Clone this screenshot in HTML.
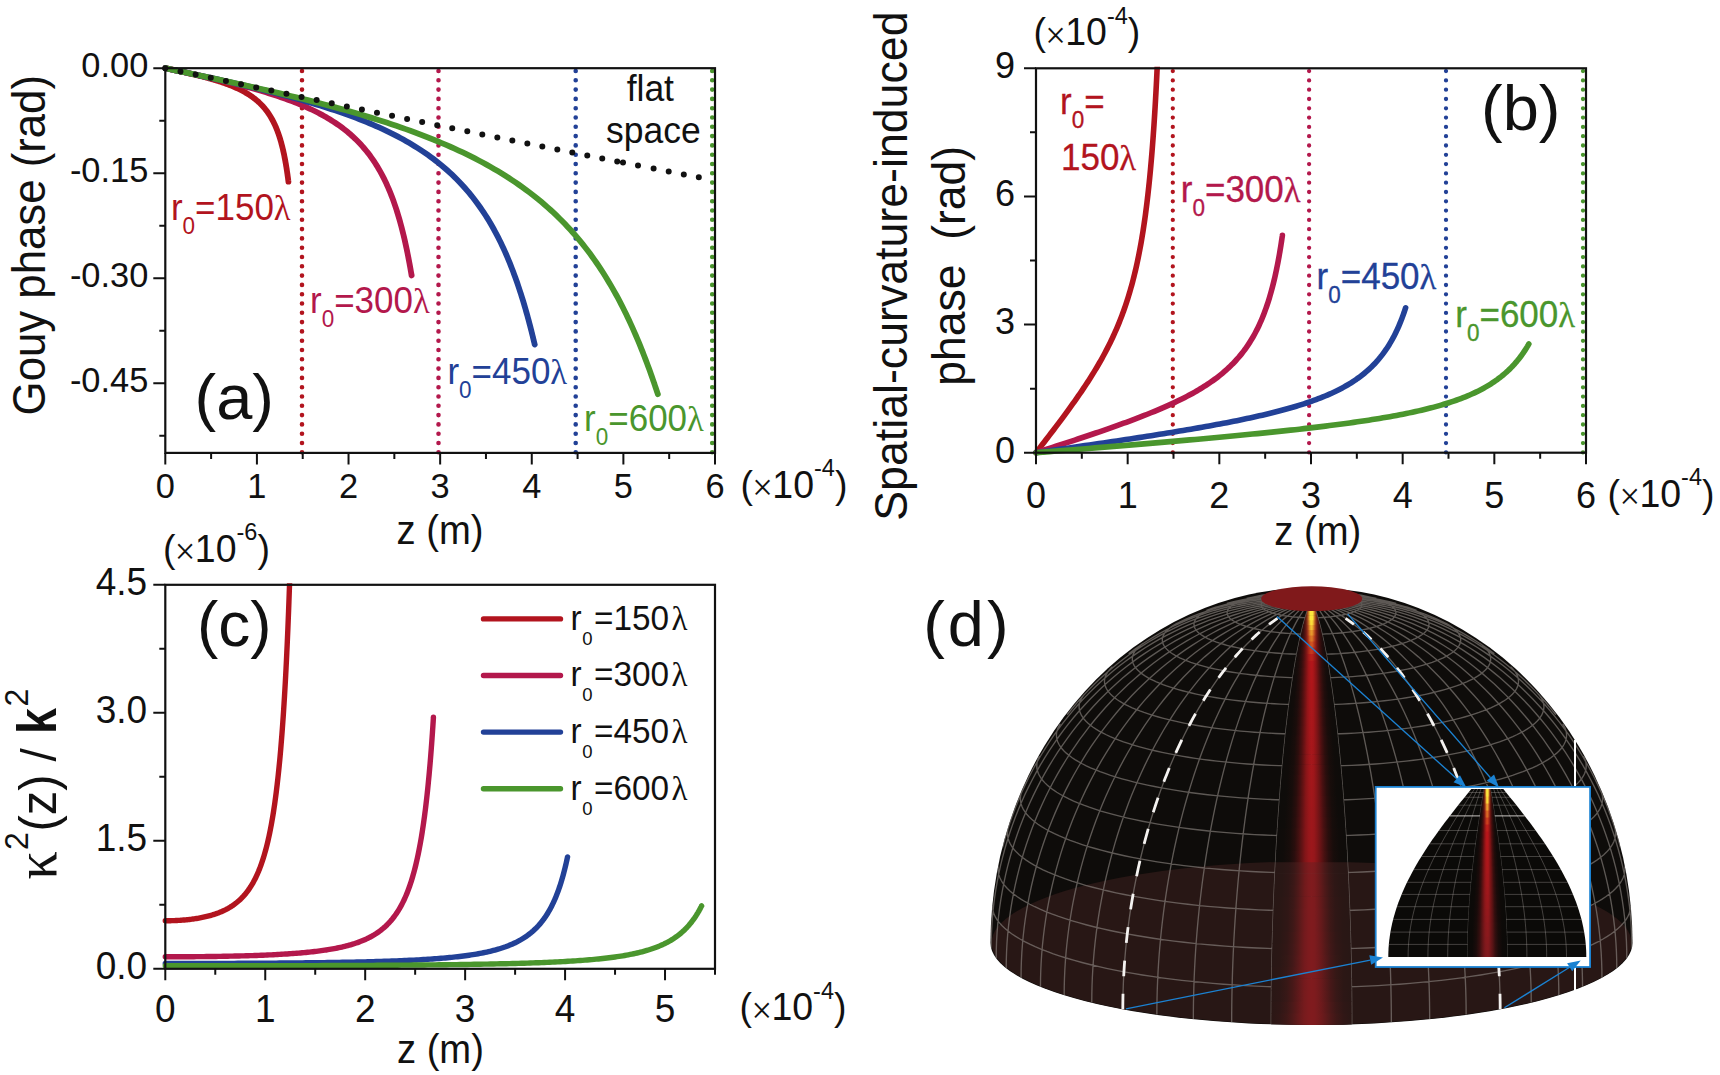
<!DOCTYPE html>
<html lang="en"><head><meta charset="utf-8"><title>Gouy phase and spatial-curvature-induced phase on a spherical surface</title>
<style>html,body{margin:0;padding:0;background:#fff}body{width:1720px;height:1075px;overflow:hidden}svg{display:block}text{font-family:'Liberation Sans', sans-serif}.sf{font-family:"Liberation Serif","DejaVu Serif",serif}</style>
</head><body>
<svg width="1720" height="1075" viewBox="0 0 1720 1075">
<rect width="1720" height="1075" fill="#fff"/>
<g id="panel-a">
<clipPath id="clipA"><rect x="165.3" y="64.2" width="549.7" height="388.7"/></clipPath>
<line x1="302" y1="71" x2="302" y2="452.9" stroke="#b2141e" stroke-width="4.6" stroke-linecap="round" stroke-dasharray="0.01 9.29"/>
<line x1="438.5" y1="71" x2="438.5" y2="452.9" stroke="#b3184c" stroke-width="4.6" stroke-linecap="round" stroke-dasharray="0.01 9.29"/>
<line x1="575.7" y1="71" x2="575.7" y2="452.9" stroke="#224197" stroke-width="4.6" stroke-linecap="round" stroke-dasharray="0.01 9.29"/>
<line x1="712.2" y1="71" x2="712.2" y2="452.9" stroke="#4a962d" stroke-width="4.6" stroke-linecap="round" stroke-dasharray="0.01 9.29"/>
<path d="M165.3 68.2 L166.99 68.56 L168.66 68.91 L170.32 69.26 L171.97 69.61 L173.61 69.96 L175.23 70.31 L176.84 70.66 L178.44 71 L180.03 71.34 L181.6 71.69 L183.16 72.03 L184.71 72.38 L186.24 72.72 L187.77 73.06 L189.28 73.41 L190.77 73.75 L192.26 74.1 L193.73 74.44 L195.2 74.79 L196.64 75.14 L198.08 75.49 L199.5 75.84 L200.92 76.2 L202.31 76.55 L203.7 76.91 L205.08 77.27 L206.44 77.64 L207.79 78 L209.13 78.37 L210.45 78.74 L211.77 79.12 L213.07 79.49 L214.36 79.88 L215.63 80.26 L216.9 80.65 L218.15 81.04 L219.39 81.44 L220.62 81.84 L221.84 82.24 L223.04 82.65 L224.24 83.07 L225.42 83.49 L226.59 83.91 L227.74 84.34 L228.89 84.78 L230.02 85.22 L231.14 85.66 L232.25 86.11 L233.35 86.57 L234.44 87.04 L235.51 87.51 L236.57 87.98 L237.62 88.47 L238.66 88.96 L239.69 89.46 L240.7 89.97 L241.71 90.48 L242.7 91 L243.68 91.53 L244.65 92.07 L245.61 92.62 L246.55 93.18 L247.49 93.74 L248.41 94.32 L249.32 94.9 L250.22 95.49 L251.11 96.1 L251.99 96.71 L252.85 97.34 L253.71 97.97 L254.55 98.62 L255.38 99.28 L256.2 99.95 L257.01 100.63 L257.81 101.32 L258.6 102.03 L259.37 102.75 L260.14 103.48 L260.89 104.23 L261.63 104.99 L262.37 105.76 L263.09 106.55 L263.8 107.35 L264.49 108.17 L265.18 109 L265.86 109.85 L266.52 110.71 L267.18 111.59 L267.82 112.48 L268.46 113.39 L269.08 114.32 L269.69 115.26 L270.29 116.23 L270.88 117.2 L271.46 118.2 L272.03 119.21 L272.59 120.24 L273.14 121.28 L273.67 122.35 L274.2 123.43 L274.72 124.53 L275.22 125.64 L275.72 126.77 L276.21 127.92 L276.68 129.08 L277.15 130.26 L277.6 131.46 L278.05 132.67 L278.48 133.9 L278.9 135.13 L279.32 136.39 L279.72 137.65 L280.12 138.93 L280.5 140.22 L280.88 141.51 L281.24 142.82 L281.59 144.13 L281.94 145.45 L282.27 146.77 L282.6 148.1 L282.92 149.43 L283.22 150.75 L283.52 152.08 L283.81 153.4 L284.09 154.72 L284.35 156.03 L284.61 157.33 L284.86 158.62 L285.1 159.89 L285.34 161.15 L285.56 162.39 L285.77 163.61 L285.98 164.8 L286.17 165.97 L286.36 167.12 L286.54 168.23 L286.71 169.31 L286.87 170.35 L287.02 171.36 L287.16 172.33 L287.3 173.26 L287.43 174.15 L287.55 174.99 L287.66 175.79 L287.76 176.54 L287.85 177.24 L287.94 177.88 L288.02 178.48 L288.09 179.03 L288.16 179.52 L288.21 179.97 L288.26 180.36 L288.31 180.69 L288.34 180.98 L288.37 181.21 L288.4 181.4 L288.41 181.54 L288.42 181.63 L288.43 181.68 L288.43 181.69" fill="none" stroke="#b2141e" stroke-width="5.8" stroke-linecap="round" stroke-linejoin="round"/>
<path d="M165.3 68.2 L168.67 68.91 L172.02 69.62 L175.34 70.33 L178.64 71.03 L181.91 71.72 L185.16 72.42 L188.38 73.11 L191.58 73.8 L194.75 74.49 L197.9 75.18 L201.02 75.86 L204.11 76.55 L207.19 77.24 L210.23 77.93 L213.25 78.62 L216.25 79.31 L219.22 80 L222.17 80.69 L225.09 81.39 L227.99 82.09 L230.86 82.79 L233.71 83.49 L236.53 84.2 L239.33 84.92 L242.1 85.63 L244.85 86.36 L247.58 87.08 L250.28 87.82 L252.95 88.55 L255.6 89.3 L258.23 90.05 L260.83 90.8 L263.41 91.57 L265.97 92.34 L268.5 93.12 L271 93.9 L273.49 94.7 L275.94 95.5 L278.38 96.31 L280.79 97.13 L283.17 97.96 L285.53 98.8 L287.87 99.65 L290.19 100.51 L292.48 101.38 L294.74 102.26 L296.98 103.15 L299.2 104.06 L301.4 104.97 L303.57 105.9 L305.72 106.85 L307.84 107.8 L309.94 108.77 L312.02 109.75 L314.08 110.75 L316.11 111.76 L318.12 112.79 L320.1 113.83 L322.06 114.89 L324 115.96 L325.91 117.06 L327.81 118.16 L329.67 119.29 L331.52 120.43 L333.34 121.6 L335.14 122.78 L336.92 123.98 L338.67 125.2 L340.41 126.44 L342.12 127.7 L343.8 128.98 L345.47 130.28 L347.11 131.6 L348.73 132.95 L350.32 134.32 L351.9 135.71 L353.45 137.12 L354.98 138.56 L356.48 140.03 L357.97 141.52 L359.43 143.03 L360.87 144.57 L362.29 146.13 L363.69 147.72 L365.06 149.34 L366.42 150.98 L367.75 152.65 L369.06 154.35 L370.35 156.07 L371.61 157.83 L372.86 159.61 L374.08 161.41 L375.28 163.25 L376.46 165.11 L377.62 167 L378.76 168.92 L379.88 170.86 L380.97 172.83 L382.05 174.83 L383.1 176.85 L384.14 178.9 L385.15 180.97 L386.14 183.07 L387.11 185.19 L388.06 187.33 L388.99 189.5 L389.9 191.68 L390.79 193.88 L391.66 196.11 L392.51 198.34 L393.34 200.59 L394.14 202.86 L394.93 205.13 L395.7 207.41 L396.45 209.7 L397.18 212 L397.89 214.3 L398.58 216.59 L399.25 218.89 L399.9 221.17 L400.53 223.45 L401.15 225.72 L401.74 227.97 L402.31 230.21 L402.87 232.43 L403.41 234.62 L403.93 236.78 L404.43 238.92 L404.91 241.02 L405.37 243.08 L405.82 245.11 L406.24 247.09 L406.65 249.02 L407.04 250.9 L407.42 252.73 L407.77 254.51 L408.11 256.22 L408.43 257.88 L408.74 259.46 L409.03 260.99 L409.3 262.44 L409.55 263.82 L409.79 265.12 L410.01 266.35 L410.22 267.51 L410.41 268.58 L410.58 269.57 L410.74 270.49 L410.88 271.32 L411.01 272.07 L411.13 272.75 L411.23 273.34 L411.31 273.85 L411.39 274.28 L411.45 274.63 L411.49 274.91 L411.53 275.12 L411.55 275.26 L411.56 275.33 L411.57 275.35" fill="none" stroke="#b3184c" stroke-width="5.8" stroke-linecap="round" stroke-linejoin="round"/>
<path d="M165.3 68.2 L170.36 69.27 L175.38 70.33 L180.37 71.39 L185.31 72.44 L190.22 73.49 L195.09 74.53 L199.92 75.57 L204.72 76.6 L209.48 77.63 L214.2 78.67 L218.88 79.7 L223.52 80.73 L228.13 81.76 L232.7 82.79 L237.23 83.82 L241.72 84.86 L246.18 85.9 L250.6 86.94 L254.99 87.98 L259.33 89.03 L263.64 90.08 L267.91 91.14 L272.15 92.2 L276.34 93.27 L280.5 94.35 L284.63 95.43 L288.72 96.52 L292.77 97.61 L296.78 98.72 L300.76 99.83 L304.7 100.96 L308.6 102.09 L312.47 103.23 L316.3 104.39 L320.1 105.55 L323.86 106.73 L327.58 107.92 L331.26 109.12 L334.92 110.33 L338.53 111.56 L342.11 112.8 L345.65 114.05 L349.16 115.32 L352.63 116.6 L356.06 117.9 L359.46 119.22 L362.83 120.55 L366.16 121.9 L369.45 123.26 L372.71 124.65 L375.93 126.05 L379.11 127.47 L382.27 128.91 L385.38 130.37 L388.46 131.85 L391.51 133.35 L394.52 134.87 L397.5 136.42 L400.44 137.98 L403.35 139.57 L406.22 141.19 L409.06 142.82 L411.86 144.48 L414.63 146.17 L417.36 147.88 L420.06 149.61 L422.73 151.37 L425.36 153.16 L427.96 154.97 L430.52 156.82 L433.05 158.69 L435.55 160.59 L438.01 162.51 L440.44 164.47 L442.83 166.45 L445.19 168.47 L447.52 170.51 L449.82 172.59 L452.08 174.7 L454.3 176.83 L456.5 179 L458.66 181.2 L460.79 183.43 L462.88 185.69 L464.94 187.99 L466.97 190.31 L468.97 192.67 L470.94 195.06 L472.87 197.48 L474.77 199.93 L476.64 202.41 L478.47 204.92 L480.27 207.46 L482.04 210.03 L483.78 212.63 L485.49 215.26 L487.17 217.91 L488.81 220.59 L490.42 223.29 L492 226.02 L493.55 228.77 L495.07 231.55 L496.56 234.34 L498.02 237.15 L499.44 239.97 L500.84 242.82 L502.2 245.67 L503.54 248.53 L504.84 251.41 L506.11 254.29 L507.35 257.17 L508.57 260.05 L509.75 262.94 L510.9 265.81 L512.03 268.69 L513.12 271.55 L514.18 274.4 L515.22 277.23 L516.22 280.04 L517.2 282.83 L518.15 285.6 L519.07 288.34 L519.96 291.04 L520.82 293.71 L521.66 296.34 L522.46 298.93 L523.24 301.47 L523.99 303.96 L524.71 306.4 L525.41 308.79 L526.07 311.12 L526.72 313.38 L527.33 315.59 L527.92 317.72 L528.48 319.79 L529.01 321.78 L529.52 323.7 L530 325.54 L530.46 327.3 L530.89 328.98 L531.3 330.58 L531.68 332.09 L532.04 333.52 L532.37 334.86 L532.68 336.12 L532.96 337.28 L533.22 338.36 L533.46 339.34 L533.68 340.24 L533.87 341.05 L534.04 341.77 L534.19 342.4 L534.32 342.94 L534.43 343.4 L534.52 343.78 L534.59 344.08 L534.64 344.3 L534.67 344.45 L534.69 344.53 L534.7 344.55" fill="none" stroke="#224197" stroke-width="5.8" stroke-linecap="round" stroke-linejoin="round"/>
<path d="M165.3 68.2 L172.05 69.63 L178.74 71.04 L185.39 72.45 L191.98 73.85 L198.53 75.25 L205.02 76.64 L211.47 78.02 L217.86 79.4 L224.2 80.78 L230.49 82.15 L236.74 83.53 L242.93 84.9 L249.07 86.27 L255.16 87.65 L261.21 89.02 L267.2 90.4 L273.14 91.78 L279.04 93.17 L284.88 94.56 L290.67 95.95 L296.42 97.35 L302.11 98.76 L307.76 100.17 L313.36 101.6 L318.91 103.02 L324.4 104.46 L329.85 105.91 L335.25 107.37 L340.61 108.83 L345.91 110.31 L351.16 111.8 L356.37 113.31 L361.53 114.82 L366.64 116.35 L371.7 117.89 L376.71 119.45 L381.67 121.02 L386.59 122.61 L391.45 124.21 L396.27 125.83 L401.04 127.47 L405.77 129.13 L410.44 130.8 L415.07 132.49 L419.65 134.2 L424.18 135.93 L428.67 137.69 L433.11 139.46 L437.5 141.25 L441.84 143.07 L446.14 144.91 L450.39 146.77 L454.59 148.65 L458.74 150.56 L462.85 152.49 L466.91 154.45 L470.93 156.43 L474.9 158.44 L478.82 160.48 L482.7 162.54 L486.53 164.63 L490.31 166.75 L494.05 168.9 L497.74 171.07 L501.39 173.27 L504.99 175.51 L508.54 177.77 L512.05 180.06 L515.51 182.39 L518.93 184.74 L522.3 187.13 L525.63 189.54 L528.91 191.99 L532.15 194.47 L535.34 196.98 L538.49 199.52 L541.59 202.1 L544.65 204.7 L547.67 207.34 L550.64 210.01 L553.56 212.71 L556.45 215.45 L559.28 218.21 L562.08 221 L564.83 223.83 L567.53 226.69 L570.2 229.57 L572.82 232.48 L575.39 235.42 L577.92 238.39 L580.41 241.39 L582.86 244.41 L585.27 247.45 L587.63 250.52 L589.95 253.61 L592.22 256.72 L594.46 259.85 L596.65 263 L598.8 266.16 L600.91 269.34 L602.97 272.53 L605 275.73 L606.98 278.94 L608.92 282.15 L610.82 285.37 L612.68 288.59 L614.5 291.81 L616.28 295.02 L618.02 298.23 L619.72 301.43 L621.37 304.62 L622.99 307.79 L624.57 310.95 L626.1 314.09 L627.6 317.2 L629.06 320.29 L630.48 323.35 L631.86 326.38 L633.2 329.37 L634.5 332.32 L635.77 335.24 L636.99 338.11 L638.18 340.93 L639.33 343.7 L640.44 346.42 L641.51 349.08 L642.55 351.69 L643.55 354.23 L644.52 356.71 L645.44 359.12 L646.33 361.47 L647.19 363.74 L648.01 365.94 L648.79 368.07 L649.54 370.12 L650.25 372.09 L650.93 373.98 L651.57 375.79 L652.18 377.52 L652.75 379.16 L653.3 380.72 L653.8 382.19 L654.28 383.57 L654.72 384.87 L655.13 386.08 L655.51 387.2 L655.86 388.24 L656.18 389.18 L656.47 390.04 L656.73 390.81 L656.95 391.5 L657.15 392.1 L657.33 392.63 L657.47 393.06 L657.59 393.42 L657.68 393.71 L657.75 393.92 L657.8 394.06 L657.82 394.13 L657.83 394.15" fill="none" stroke="#4a962d" stroke-width="5.8" stroke-linecap="round" stroke-linejoin="round"/>
<path d="M165.3 68.2h0.01M180.47 71.41h0.01M195.63 74.61h0.01M210.78 77.81h0.01M225.92 81.01h0.01M241.06 84.21h0.01M256.19 87.4h0.01M271.32 90.58h0.01M286.43 93.76h0.01M301.54 96.94h0.01M316.64 100.11h0.01M331.74 103.27h0.01M346.83 106.42h0.01M361.91 109.57h0.01M376.98 112.71h0.01M392.05 115.84h0.01M407.11 118.96h0.01M422.16 122.07h0.01M437.21 125.18h0.01M452.24 128.27h0.01M467.28 131.35h0.01M482.3 134.42h0.01M497.32 137.47h0.01M512.33 140.52h0.01M527.33 143.55h0.01M542.32 146.57h0.01M557.31 149.58h0.01M572.29 152.57h0.01M587.27 155.55h0.01M602.24 158.52h0.01M617.2 161.47h0.01M623 162.61h0.01M638 165.55h0.01M653.6 168.59h0.01M668.7 171.52h0.01M683.8 174.43h0.01M698.8 177.31h0.01" fill="none" stroke="#111" stroke-width="6" stroke-linecap="round"/>
<rect x="165.3" y="68.2" width="549.7" height="384.7" fill="none" stroke="#111" stroke-width="2.2"/>
<path d="M165.3 452.9 v11.5 M256.92 452.9 v11.5 M348.53 452.9 v11.5 M440.15 452.9 v11.5 M531.77 452.9 v11.5 M623.38 452.9 v11.5 M715 452.9 v11.5 M211.11 452.9 v6 M302.73 452.9 v6 M394.34 452.9 v6 M485.96 452.9 v6 M577.58 452.9 v6 M669.19 452.9 v6 " stroke="#111" stroke-width="2" fill="none"/>
<path d="M165.3 68.2 h-12 M165.3 173.2 h-12 M165.3 278.2 h-12 M165.3 383.2 h-12 M165.3 120.7 h-6 M165.3 225.7 h-6 M165.3 330.7 h-6 M165.3 435.7 h-6 " stroke="#111" stroke-width="2" fill="none"/>
<text transform="translate(148.3 77.1) scale(1 1.04)" font-size="34.4" text-anchor="end" fill="#111" >0.00</text>
<text transform="translate(148.3 182.1) scale(1 1.04)" font-size="34.4" text-anchor="end" fill="#111" >-0.15</text>
<text transform="translate(148.3 287.1) scale(1 1.04)" font-size="34.4" text-anchor="end" fill="#111" >-0.30</text>
<text transform="translate(148.3 392.1) scale(1 1.04)" font-size="34.4" text-anchor="end" fill="#111" >-0.45</text>
<text transform="translate(165.3 497.5) scale(1 1.04)" font-size="34.4" text-anchor="middle" fill="#111" >0</text>
<text transform="translate(256.92 497.5) scale(1 1.04)" font-size="34.4" text-anchor="middle" fill="#111" >1</text>
<text transform="translate(348.53 497.5) scale(1 1.04)" font-size="34.4" text-anchor="middle" fill="#111" >2</text>
<text transform="translate(440.15 497.5) scale(1 1.04)" font-size="34.4" text-anchor="middle" fill="#111" >3</text>
<text transform="translate(531.77 497.5) scale(1 1.04)" font-size="34.4" text-anchor="middle" fill="#111" >4</text>
<text transform="translate(623.38 497.5) scale(1 1.04)" font-size="34.4" text-anchor="middle" fill="#111" >5</text>
<text transform="translate(715 497.5) scale(1 1.04)" font-size="34.4" text-anchor="middle" fill="#111" >6</text>
<text transform="translate(740.5 497.5) scale(1 1.04)" font-size="37.5" text-anchor="start" fill="#111" >(<tspan dx="-0.7" dy="2.6" class="sf" font-size="36.5">×</tspan><tspan dx="-0.6" dy="-2.6">10</tspan><tspan font-size="23.5" dy="-20.5">-4</tspan><tspan dy="20.5">)</tspan></text>
<text transform="translate(440 544.2) scale(1 1.04)" font-size="38.2" text-anchor="middle" fill="#111" >z (m)</text>
<text transform="translate(45.3 245.2) rotate(-90) scale(1 1.04)" font-size="43.75" text-anchor="middle" fill="#111" >Gouy phase (rad)</text>
<text transform="translate(650.3 100.8) scale(1 1.04)" font-size="35.5" text-anchor="middle" fill="#111" >flat</text>
<text transform="translate(653.4 143.2) scale(1 1.04)" font-size="35.5" text-anchor="middle" fill="#111" >space</text>
<text transform="translate(194.5 419.4) scale(1 0.97)" font-size="65" text-anchor="start" fill="#111" >(a)</text>
<text transform="translate(170.9 219.7) scale(1 1.04)" font-size="35" text-anchor="start" fill="#b2141e" >r<tspan font-size="22.5" dy="13.5" dx="0">0</tspan><tspan dy="-13.5" dx="0">=150</tspan><tspan class="sf" font-size="34.65" dx="0">λ</tspan></text>
<text transform="translate(310 312.5) scale(1 1.04)" font-size="35" text-anchor="start" fill="#b3184c" >r<tspan font-size="22.5" dy="13.5" dx="0">0</tspan><tspan dy="-13.5" dx="0">=300</tspan><tspan class="sf" font-size="34.65" dx="0">λ</tspan></text>
<text transform="translate(447.4 384.4) scale(1 1.04)" font-size="35" text-anchor="start" fill="#224197" >r<tspan font-size="22.5" dy="13.5" dx="0">0</tspan><tspan dy="-13.5" dx="0">=450</tspan><tspan class="sf" font-size="34.65" dx="0">λ</tspan></text>
<text transform="translate(584.1 431.2) scale(1 1.04)" font-size="35" text-anchor="start" fill="#4a962d" >r<tspan font-size="22.5" dy="13.5" dx="0">0</tspan><tspan dy="-13.5" dx="0">=600</tspan><tspan class="sf" font-size="34.65" dx="0">λ</tspan></text>
</g>
<g id="panel-b">
<clipPath id="clipB"><rect x="1032" y="66.8" width="558" height="390.4"/></clipPath>
<line x1="1172.8" y1="71.1" x2="1172.8" y2="452.7" stroke="#b2141e" stroke-width="4.3" stroke-linecap="round" stroke-dasharray="0.01 9.29"/>
<line x1="1309.1" y1="71.1" x2="1309.1" y2="452.7" stroke="#b3184c" stroke-width="4.3" stroke-linecap="round" stroke-dasharray="0.01 9.29"/>
<line x1="1446" y1="71.1" x2="1446" y2="452.7" stroke="#224197" stroke-width="4.3" stroke-linecap="round" stroke-dasharray="0.01 9.29"/>
<line x1="1583" y1="71.1" x2="1583" y2="452.7" stroke="#4a962d" stroke-width="4.3" stroke-linecap="round" stroke-dasharray="0.01 9.29"/>
<g clip-path="url(#clipB)">
<path d="M1036 452.7 L1037.69 450.52 L1039.36 448.35 L1041.02 446.19 L1042.67 444.05 L1044.31 441.93 L1045.94 439.82 L1047.55 437.72 L1049.15 435.63 L1050.73 433.56 L1052.31 431.49 L1053.87 429.44 L1055.42 427.39 L1056.95 425.36 L1058.48 423.34 L1059.99 421.32 L1061.49 419.31 L1062.98 417.31 L1064.45 415.32 L1065.91 413.34 L1067.36 411.36 L1068.8 409.38 L1070.22 407.42 L1071.63 405.45 L1073.03 403.49 L1074.42 401.54 L1075.8 399.59 L1077.16 397.64 L1078.51 395.7 L1079.85 393.75 L1081.18 391.81 L1082.49 389.87 L1083.79 387.93 L1085.08 385.99 L1086.36 384.05 L1087.63 382.11 L1088.88 380.17 L1090.12 378.22 L1091.35 376.27 L1092.57 374.32 L1093.77 372.37 L1094.97 370.41 L1096.15 368.45 L1097.32 366.48 L1098.48 364.5 L1099.62 362.52 L1100.76 360.53 L1101.88 358.53 L1102.99 356.52 L1104.09 354.5 L1105.17 352.47 L1106.25 350.44 L1107.31 348.38 L1108.36 346.32 L1109.4 344.25 L1110.43 342.15 L1111.44 340.05 L1112.45 337.93 L1113.44 335.79 L1114.42 333.63 L1115.39 331.46 L1116.35 329.27 L1117.3 327.05 L1118.23 324.82 L1119.16 322.56 L1120.07 320.28 L1120.97 317.98 L1121.86 315.65 L1122.73 313.3 L1123.6 310.92 L1124.46 308.51 L1125.3 306.07 L1126.13 303.6 L1126.95 301.1 L1127.76 298.57 L1128.56 296 L1129.35 293.4 L1130.13 290.77 L1130.89 288.1 L1131.64 285.39 L1132.39 282.64 L1133.12 279.85 L1133.84 277.03 L1134.55 274.16 L1135.25 271.24 L1135.94 268.28 L1136.61 265.28 L1137.28 262.23 L1137.93 259.14 L1138.58 255.99 L1139.21 252.8 L1139.84 249.56 L1140.45 246.27 L1141.05 242.92 L1141.64 239.53 L1142.22 236.08 L1142.79 232.58 L1143.35 229.02 L1143.9 225.42 L1144.43 221.76 L1144.96 218.04 L1145.48 214.27 L1145.98 210.45 L1146.48 206.57 L1146.97 202.65 L1147.44 198.67 L1147.91 194.64 L1148.36 190.55 L1148.81 186.42 L1149.24 182.25 L1149.67 178.03 L1150.08 173.76 L1150.48 169.45 L1150.88 165.11 L1151.26 160.73 L1151.64 156.31 L1152 151.87 L1152.36 147.4 L1152.7 142.91 L1153.04 138.41 L1153.36 133.89 L1153.68 129.36 L1153.99 124.83 L1154.28 120.31 L1154.57 115.79 L1154.85 111.29 L1155.12 106.82 L1155.38 102.37 L1155.63 97.96 L1155.87 93.59 L1156.1 89.28 L1156.32 85.02 L1156.54 80.83 L1156.74 76.72 L1156.94 72.68 L1157.13 68.74 L1157.3 64.9 L1157.47 61.17 L1157.63 57.55 L1157.79 54.06 L1157.93 50.7 L1158.07 47.47 L1158.19 44.39 L1158.31 41.46 L1158.42 38.69 L1158.53 36.08 L1158.62 33.64 L1158.71 31.37 L1158.79 29.28 L1158.86 27.37 L1158.92 25.64 L1158.98 24.09 L1159.03 22.73 L1159.07 21.54 L1159.11 20.54 L1159.14 19.72 L1159.16 19.07 L1159.18 18.59 L1159.19 18.27 L1159.2 18.09 L1159.2 18.04" fill="none" stroke="#b2141e" stroke-width="5.6" stroke-linecap="round" stroke-linejoin="round"/>
<path d="M1036 452.7 L1039.38 451.61 L1042.73 450.52 L1046.05 449.45 L1049.35 448.38 L1052.62 447.31 L1055.87 446.26 L1059.1 445.21 L1062.29 444.17 L1065.47 443.13 L1068.61 442.1 L1071.74 441.07 L1074.84 440.05 L1077.91 439.03 L1080.96 438.02 L1083.98 437.01 L1086.98 436.01 L1089.95 435.01 L1092.9 434.01 L1095.82 433.02 L1098.72 432.03 L1101.6 431.04 L1104.44 430.06 L1107.27 429.08 L1110.07 428.1 L1112.84 427.12 L1115.6 426.14 L1118.32 425.17 L1121.02 424.2 L1123.7 423.23 L1126.35 422.26 L1128.98 421.29 L1131.59 420.32 L1134.17 419.35 L1136.72 418.38 L1139.25 417.4 L1141.76 416.43 L1144.24 415.46 L1146.7 414.49 L1149.14 413.51 L1151.55 412.53 L1153.94 411.55 L1156.3 410.57 L1158.64 409.59 L1160.95 408.6 L1163.25 407.61 L1165.51 406.61 L1167.76 405.61 L1169.98 404.61 L1172.17 403.6 L1174.35 402.59 L1176.5 401.57 L1178.62 400.54 L1180.72 399.51 L1182.8 398.47 L1184.86 397.43 L1186.89 396.37 L1188.9 395.31 L1190.88 394.24 L1192.85 393.17 L1194.79 392.08 L1196.7 390.98 L1198.59 389.88 L1200.46 388.76 L1202.31 387.63 L1204.13 386.49 L1205.94 385.34 L1207.71 384.18 L1209.47 383 L1211.2 381.81 L1212.91 380.6 L1214.6 379.38 L1216.26 378.15 L1217.91 376.9 L1219.53 375.63 L1221.12 374.35 L1222.7 373.05 L1224.25 371.73 L1225.78 370.4 L1227.29 369.04 L1228.77 367.67 L1230.24 366.28 L1231.68 364.86 L1233.1 363.43 L1234.5 361.97 L1235.87 360.49 L1237.23 358.99 L1238.56 357.47 L1239.87 355.92 L1241.16 354.35 L1242.42 352.75 L1243.67 351.13 L1244.89 349.48 L1246.1 347.81 L1247.28 346.11 L1248.44 344.39 L1249.58 342.64 L1250.7 340.86 L1251.79 339.06 L1252.87 337.23 L1253.92 335.37 L1254.96 333.49 L1255.97 331.57 L1256.96 329.64 L1257.93 327.67 L1258.88 325.68 L1259.81 323.67 L1260.72 321.63 L1261.61 319.56 L1262.48 317.47 L1263.33 315.36 L1264.16 313.23 L1264.97 311.08 L1265.76 308.9 L1266.53 306.71 L1267.28 304.51 L1268.01 302.29 L1268.72 300.05 L1269.41 297.81 L1270.08 295.55 L1270.73 293.29 L1271.36 291.03 L1271.97 288.77 L1272.57 286.5 L1273.14 284.25 L1273.7 282 L1274.24 279.76 L1274.76 277.54 L1275.26 275.33 L1275.74 273.15 L1276.2 270.99 L1276.65 268.86 L1277.07 266.77 L1277.48 264.71 L1277.88 262.69 L1278.25 260.72 L1278.61 258.8 L1278.95 256.94 L1279.27 255.13 L1279.57 253.38 L1279.86 251.7 L1280.13 250.08 L1280.39 248.54 L1280.62 247.08 L1280.85 245.69 L1281.05 244.39 L1281.24 243.17 L1281.42 242.04 L1281.57 240.99 L1281.72 240.03 L1281.85 239.17 L1281.96 238.4 L1282.06 237.71 L1282.15 237.12 L1282.22 236.62 L1282.28 236.21 L1282.33 235.89 L1282.36 235.64 L1282.38 235.48 L1282.4 235.4 L1282.4 235.37" fill="none" stroke="#b3184c" stroke-width="5.6" stroke-linecap="round" stroke-linejoin="round"/>
<path d="M1036 452.7 L1041.06 451.97 L1046.09 451.25 L1051.07 450.53 L1056.02 449.82 L1060.93 449.11 L1065.81 448.41 L1070.64 447.71 L1075.44 447.01 L1080.2 446.32 L1084.92 445.63 L1089.61 444.95 L1094.25 444.26 L1098.86 443.59 L1103.43 442.91 L1107.97 442.24 L1112.47 441.57 L1116.93 440.9 L1121.35 440.24 L1125.73 439.58 L1130.08 438.92 L1134.39 438.26 L1138.67 437.61 L1142.9 436.95 L1147.1 436.3 L1151.27 435.65 L1155.39 435 L1159.48 434.35 L1163.54 433.7 L1167.55 433.05 L1171.53 432.4 L1175.47 431.76 L1179.38 431.11 L1183.25 430.46 L1187.08 429.82 L1190.88 429.17 L1194.64 428.52 L1198.37 427.87 L1202.06 427.22 L1205.71 426.57 L1209.32 425.92 L1212.9 425.27 L1216.45 424.62 L1219.96 423.96 L1223.43 423.3 L1226.87 422.64 L1230.27 421.98 L1233.63 421.31 L1236.97 420.64 L1240.26 419.97 L1243.52 419.29 L1246.74 418.61 L1249.93 417.93 L1253.09 417.24 L1256.2 416.55 L1259.29 415.85 L1262.33 415.15 L1265.35 414.44 L1268.33 413.73 L1271.27 413.01 L1274.18 412.29 L1277.05 411.56 L1279.89 410.82 L1282.7 410.07 L1285.47 409.32 L1288.2 408.56 L1290.9 407.79 L1293.57 407.02 L1296.2 406.23 L1298.8 405.44 L1301.37 404.64 L1303.9 403.82 L1306.4 403 L1308.86 402.17 L1311.29 401.32 L1313.68 400.47 L1316.05 399.6 L1318.38 398.72 L1320.67 397.83 L1322.93 396.93 L1325.16 396.01 L1327.36 395.08 L1329.52 394.14 L1331.65 393.19 L1333.74 392.21 L1335.81 391.23 L1337.84 390.23 L1339.84 389.21 L1341.8 388.18 L1343.74 387.13 L1345.64 386.07 L1347.51 384.99 L1349.34 383.89 L1351.15 382.77 L1352.92 381.64 L1354.66 380.49 L1356.37 379.33 L1358.04 378.14 L1359.69 376.94 L1361.3 375.72 L1362.88 374.48 L1364.43 373.22 L1365.95 371.95 L1367.44 370.66 L1368.9 369.35 L1370.33 368.02 L1371.72 366.68 L1373.09 365.32 L1374.42 363.94 L1375.72 362.55 L1377 361.14 L1378.24 359.72 L1379.45 358.28 L1380.64 356.84 L1381.79 355.38 L1382.92 353.9 L1384.01 352.42 L1385.07 350.93 L1386.11 349.44 L1387.12 347.94 L1388.09 346.43 L1389.04 344.92 L1389.96 343.41 L1390.85 341.9 L1391.72 340.4 L1392.55 338.9 L1393.36 337.41 L1394.13 335.92 L1394.88 334.45 L1395.61 333 L1396.3 331.56 L1396.97 330.14 L1397.61 328.74 L1398.23 327.37 L1398.81 326.03 L1399.38 324.71 L1399.91 323.43 L1400.42 322.19 L1400.9 320.98 L1401.36 319.82 L1401.79 318.7 L1402.2 317.62 L1402.58 316.6 L1402.94 315.62 L1403.27 314.7 L1403.58 313.83 L1403.86 313.01 L1404.12 312.26 L1404.36 311.56 L1404.58 310.92 L1404.77 310.35 L1404.94 309.83 L1405.09 309.38 L1405.22 308.98 L1405.33 308.65 L1405.42 308.37 L1405.49 308.16 L1405.54 308 L1405.58 307.89 L1405.59 307.83 L1405.6 307.81" fill="none" stroke="#224197" stroke-width="5.6" stroke-linecap="round" stroke-linejoin="round"/>
<path d="M1036 452.7 L1042.75 452.15 L1049.45 451.61 L1056.1 451.07 L1062.7 450.54 L1069.25 450.01 L1075.74 449.48 L1082.19 448.95 L1088.59 448.43 L1094.93 447.91 L1101.23 447.4 L1107.48 446.88 L1113.67 446.37 L1119.82 445.87 L1125.91 445.36 L1131.96 444.86 L1137.96 444.35 L1143.9 443.85 L1149.8 443.36 L1155.65 442.86 L1161.44 442.36 L1167.19 441.87 L1172.89 441.38 L1178.54 440.89 L1184.14 440.4 L1189.69 439.91 L1195.19 439.42 L1200.64 438.94 L1206.05 438.45 L1211.4 437.96 L1216.71 437.48 L1221.97 436.99 L1227.17 436.51 L1232.33 436.02 L1237.45 435.54 L1242.51 435.05 L1247.52 434.57 L1252.49 434.08 L1257.41 433.59 L1262.28 433.11 L1267.1 432.62 L1271.87 432.13 L1276.6 431.64 L1281.28 431.14 L1285.91 430.65 L1290.49 430.15 L1295.03 429.66 L1299.51 429.16 L1303.95 428.65 L1308.35 428.15 L1312.69 427.64 L1316.99 427.13 L1321.24 426.62 L1325.45 426.11 L1329.6 425.59 L1333.72 425.06 L1337.78 424.54 L1341.8 424.01 L1345.77 423.47 L1349.69 422.93 L1353.57 422.39 L1357.4 421.84 L1361.19 421.29 L1364.93 420.73 L1368.62 420.17 L1372.27 419.6 L1375.87 419.02 L1379.43 418.44 L1382.94 417.85 L1386.4 417.25 L1389.82 416.65 L1393.2 416.04 L1396.53 415.42 L1399.81 414.8 L1403.05 414.17 L1406.25 413.53 L1409.4 412.88 L1412.5 412.22 L1415.56 411.55 L1418.58 410.87 L1421.55 410.19 L1424.48 409.49 L1427.36 408.78 L1430.2 408.06 L1432.99 407.34 L1435.74 406.6 L1438.45 405.85 L1441.12 405.08 L1443.74 404.31 L1446.31 403.52 L1448.85 402.73 L1451.34 401.91 L1453.79 401.09 L1456.19 400.26 L1458.56 399.41 L1460.88 398.54 L1463.15 397.67 L1465.39 396.78 L1467.58 395.88 L1469.73 394.96 L1471.84 394.04 L1473.91 393.09 L1475.94 392.14 L1477.92 391.17 L1479.86 390.19 L1481.77 389.19 L1483.63 388.18 L1485.45 387.16 L1487.23 386.13 L1488.97 385.09 L1490.66 384.03 L1492.32 382.97 L1493.94 381.89 L1495.52 380.8 L1497.06 379.71 L1498.55 378.6 L1500.01 377.49 L1501.43 376.38 L1502.81 375.25 L1504.15 374.13 L1505.46 373 L1506.72 371.87 L1507.95 370.73 L1509.14 369.6 L1510.29 368.47 L1511.4 367.35 L1512.47 366.23 L1513.51 365.12 L1514.51 364.01 L1515.48 362.92 L1516.4 361.84 L1517.3 360.78 L1518.15 359.73 L1518.97 358.7 L1519.75 357.7 L1520.5 356.71 L1521.21 355.75 L1521.89 354.82 L1522.53 353.91 L1523.14 353.04 L1523.72 352.2 L1524.26 351.39 L1524.77 350.62 L1525.25 349.89 L1525.69 349.2 L1526.1 348.54 L1526.48 347.93 L1526.83 347.37 L1527.15 346.85 L1527.44 346.37 L1527.69 345.93 L1527.92 345.55 L1528.12 345.21 L1528.3 344.91 L1528.44 344.66 L1528.56 344.46 L1528.65 344.29 L1528.72 344.17 L1528.77 344.09 L1528.79 344.05 L1528.8 344.04" fill="none" stroke="#4a962d" stroke-width="5.6" stroke-linecap="round" stroke-linejoin="round"/>
</g>
<rect x="1036" y="68.3" width="550" height="384.4" fill="none" stroke="#111" stroke-width="2.2"/>
<path d="M1036 452.7 v11.5 M1127.67 452.7 v11.5 M1219.33 452.7 v11.5 M1311 452.7 v11.5 M1402.67 452.7 v11.5 M1494.33 452.7 v11.5 M1586 452.7 v11.5 M1081.83 452.7 v6 M1173.5 452.7 v6 M1265.17 452.7 v6 M1356.83 452.7 v6 M1448.5 452.7 v6 M1540.17 452.7 v6 " stroke="#111" stroke-width="2" fill="none"/>
<path d="M1036 452.7 h-12 M1036 324.57 h-12 M1036 196.43 h-12 M1036 68.3 h-12 M1036 388.63 h-6 M1036 260.5 h-6 M1036 132.37 h-6 " stroke="#111" stroke-width="2" fill="none"/>
<text transform="translate(1014.9 462.5) scale(1 1.04)" font-size="36" text-anchor="end" fill="#111" >0</text>
<text transform="translate(1014.9 334.37) scale(1 1.04)" font-size="36" text-anchor="end" fill="#111" >3</text>
<text transform="translate(1014.9 206.23) scale(1 1.04)" font-size="36" text-anchor="end" fill="#111" >6</text>
<text transform="translate(1014.9 78.1) scale(1 1.04)" font-size="36" text-anchor="end" fill="#111" >9</text>
<text transform="translate(1036 508.2) scale(1 1.04)" font-size="36" text-anchor="middle" fill="#111" >0</text>
<text transform="translate(1127.67 508.2) scale(1 1.04)" font-size="36" text-anchor="middle" fill="#111" >1</text>
<text transform="translate(1219.33 508.2) scale(1 1.04)" font-size="36" text-anchor="middle" fill="#111" >2</text>
<text transform="translate(1311 508.2) scale(1 1.04)" font-size="36" text-anchor="middle" fill="#111" >3</text>
<text transform="translate(1402.67 508.2) scale(1 1.04)" font-size="36" text-anchor="middle" fill="#111" >4</text>
<text transform="translate(1494.33 508.2) scale(1 1.04)" font-size="36" text-anchor="middle" fill="#111" >5</text>
<text transform="translate(1586 508.2) scale(1 1.04)" font-size="36" text-anchor="middle" fill="#111" >6</text>
<text transform="translate(1607.6 506.5) scale(1 1.04)" font-size="37.5" text-anchor="start" fill="#111" >(<tspan dx="-0.7" dy="2.6" class="sf" font-size="36.5">×</tspan><tspan dx="-0.6" dy="-2.6">10</tspan><tspan font-size="23.5" dy="-20.5">-4</tspan><tspan dy="20.5">)</tspan></text>
<text transform="translate(1033.4 45) scale(1 1.04)" font-size="37.5" text-anchor="start" fill="#111" >(<tspan dx="-0.7" dy="2.6" class="sf" font-size="36.5">×</tspan><tspan dx="-0.6" dy="-2.6">10</tspan><tspan font-size="23.5" dy="-20.5">-4</tspan><tspan dy="20.5">)</tspan></text>
<text transform="translate(1317.7 545.3) scale(1 1.04)" font-size="38.2" text-anchor="middle" fill="#111" >z (m)</text>
<text transform="translate(906.8 266.1) rotate(-90) scale(1 1.04)" font-size="44.7" text-anchor="middle" fill="#111" >Spatial-curvature-induced</text>
<text transform="translate(964.5 325.2) rotate(-90) scale(1 1.04)" font-size="44.5" text-anchor="middle" fill="#111" >phase</text>
<text transform="translate(965.3 192.8) rotate(-90) scale(1 1.04)" font-size="44.5" text-anchor="middle" fill="#111" >(rad)</text>
<text transform="translate(1481 130) scale(1 0.97)" font-size="65" text-anchor="start" fill="#111" >(b)</text>
<text transform="translate(1060 113.6) scale(1 1.04)" font-size="35" text-anchor="start" fill="#b2141e" stroke="#b2141e" stroke-width="0.3">r<tspan font-size="22.5" dy="13.5">0</tspan><tspan dy="-13.5">=</tspan></text>
<text transform="translate(1061 170) scale(1 1.04)" font-size="35" text-anchor="start" fill="#b2141e" stroke="#b2141e" stroke-width="0.3">150<tspan class="sf" font-size="34.6">λ</tspan></text>
<text transform="translate(1180.8 202.4) scale(1 1.04)" font-size="35" text-anchor="start" fill="#b3184c" stroke="#b3184c" stroke-width="0.3">r<tspan font-size="22.5" dy="13.5" dx="0">0</tspan><tspan dy="-13.5" dx="0">=300</tspan><tspan class="sf" font-size="34.65" dx="0">λ</tspan></text>
<text transform="translate(1316.6 289) scale(1 1.04)" font-size="35" text-anchor="start" fill="#224197" stroke="#224197" stroke-width="0.3">r<tspan font-size="22.5" dy="13.5" dx="0">0</tspan><tspan dy="-13.5" dx="0">=450</tspan><tspan class="sf" font-size="34.65" dx="0">λ</tspan></text>
<text transform="translate(1455.3 327.4) scale(1 1.04)" font-size="35" text-anchor="start" fill="#4a962d" stroke="#4a962d" stroke-width="0.3">r<tspan font-size="22.5" dy="13.5" dx="0">0</tspan><tspan dy="-13.5" dx="0">=600</tspan><tspan class="sf" font-size="34.65" dx="0">λ</tspan></text>
</g>
<g id="panel-c">
<clipPath id="clipC"><rect x="161.3" y="583.3" width="557.7" height="390"/></clipPath>
<g clip-path="url(#clipC)">
<path d="M165.3 920.77 L166.64 920.76 L167.97 920.75 L169.29 920.73 L170.6 920.71 L171.91 920.67 L173.21 920.63 L174.51 920.58 L175.79 920.53 L177.07 920.47 L178.34 920.4 L179.61 920.32 L180.86 920.24 L182.11 920.15 L183.36 920.05 L184.59 919.94 L185.82 919.83 L187.04 919.71 L188.25 919.59 L189.46 919.45 L190.66 919.31 L191.85 919.16 L193.04 919 L194.22 918.84 L195.39 918.67 L196.55 918.48 L197.71 918.3 L198.86 918.1 L200 917.89 L201.13 917.68 L202.26 917.46 L203.38 917.22 L204.5 916.98 L205.6 916.73 L206.7 916.47 L207.8 916.2 L208.88 915.92 L209.96 915.63 L211.03 915.33 L212.09 915.02 L213.15 914.7 L214.2 914.37 L215.25 914.02 L216.28 913.66 L217.31 913.29 L218.33 912.91 L219.35 912.52 L220.36 912.11 L221.36 911.69 L222.35 911.25 L223.34 910.8 L224.32 910.34 L225.29 909.86 L226.26 909.37 L227.22 908.85 L228.17 908.33 L229.12 907.78 L230.06 907.22 L230.99 906.64 L231.92 906.04 L232.83 905.42 L233.75 904.79 L234.65 904.13 L235.55 903.45 L236.44 902.75 L237.32 902.03 L238.2 901.28 L239.07 900.52 L239.93 899.72 L240.79 898.91 L241.64 898.06 L242.48 897.19 L243.32 896.3 L244.15 895.37 L244.97 894.42 L245.79 893.43 L246.6 892.42 L247.4 891.37 L248.2 890.29 L248.99 889.18 L249.77 888.03 L250.55 886.85 L251.32 885.62 L252.08 884.37 L252.84 883.07 L253.58 881.73 L254.33 880.34 L255.06 878.92 L255.79 877.45 L256.52 875.93 L257.23 874.37 L257.94 872.76 L258.65 871.1 L259.34 869.38 L260.03 867.61 L260.72 865.79 L261.39 863.91 L262.06 861.97 L262.73 859.97 L263.39 857.91 L264.04 855.78 L264.68 853.59 L265.32 851.33 L265.95 849 L266.58 846.6 L267.2 844.12 L267.81 841.56 L268.41 838.93 L269.01 836.21 L269.61 833.41 L270.19 830.53 L270.77 827.55 L271.35 824.49 L271.91 821.32 L272.48 818.07 L273.03 814.71 L273.58 811.25 L274.12 807.69 L274.66 804.02 L275.19 800.23 L275.71 796.34 L276.23 792.32 L276.74 788.19 L277.25 783.93 L277.74 779.55 L278.24 775.04 L278.72 770.4 L279.2 765.62 L279.68 760.7 L280.15 755.63 L280.61 750.43 L281.06 745.07 L281.51 739.56 L281.96 733.9 L282.39 728.08 L282.82 722.1 L283.25 715.95 L283.67 709.63 L284.08 703.15 L284.49 696.49 L284.89 689.65 L285.29 682.63 L285.68 675.44 L286.06 668.05 L286.44 660.49 L286.81 652.73 L287.17 644.78 L287.53 636.64 L287.89 628.31 L288.23 619.78 L288.58 611.05 L288.91 602.13 L289.24 593.01 L289.57 583.69 L289.89 574.18 L290.2 564.47 L290.51 554.56 L290.81 544.47 L291.11 534.18 L291.4 523.7 L291.68 513.03 L291.96 502.18 L292.23 491.16 L292.5 479.96 L292.76 468.59 L293.02 457.06 L293.27 445.38 L293.52 433.54 L293.76 421.57 L293.99 409.46 L294.22 397.23 L294.45 384.88 L294.66 372.44 L294.88 359.9 L295.09 347.29 L295.29 334.61 L295.48 321.88 L295.68 309.11 L295.86 296.31 L296.04 283.51 L296.22 270.72 L296.39 257.96 L296.56 245.23 L296.72 232.57 L296.87 219.99 L297.02 207.51 L297.17 195.14 L297.31 182.91 L297.44 170.83 L297.57 158.93 L297.7 147.23 L297.82 135.74 L297.93 124.49 L298.04 113.49 L298.15 102.76 L298.25 92.33 L298.35 82.2 L298.44 72.41 L298.53 62.96 L298.61 53.87 L298.69 45.16 L298.76 36.84 L298.83 28.93 L298.89 21.44 L298.95 14.37 L299.01 7.75 L299.06 1.57 L299.11 -4.16 L299.15 -9.42 L299.19 -14.22 L299.22 -18.55 L299.25 -22.42 L299.28 -25.83 L299.3 -28.77 L299.32 -31.26 L299.34 -33.3 L299.35 -34.91 L299.36 -36.11 L299.37 -36.91 L299.37 -37.34 L299.37 -37.46" fill="none" stroke="#b2141e" stroke-width="5.4" stroke-linecap="round" stroke-linejoin="round"/>
<path d="M165.3 956.79 L167.97 956.79 L170.63 956.79 L173.28 956.78 L175.91 956.78 L178.52 956.77 L181.13 956.76 L183.71 956.75 L186.28 956.73 L188.84 956.72 L191.39 956.7 L193.91 956.68 L196.43 956.66 L198.93 956.64 L201.41 956.61 L203.88 956.59 L206.34 956.56 L208.78 956.53 L211.21 956.5 L213.62 956.46 L216.02 956.43 L218.41 956.39 L220.78 956.35 L223.13 956.31 L225.47 956.27 L227.8 956.22 L230.11 956.17 L232.41 956.12 L234.7 956.07 L236.97 956.02 L239.22 955.96 L241.46 955.91 L243.69 955.85 L245.91 955.78 L248.1 955.72 L250.29 955.65 L252.46 955.58 L254.62 955.51 L256.76 955.43 L258.89 955.36 L261 955.27 L263.1 955.19 L265.19 955.11 L267.26 955.02 L269.32 954.92 L271.37 954.83 L273.4 954.73 L275.41 954.63 L277.42 954.52 L279.41 954.41 L281.38 954.3 L283.34 954.18 L285.29 954.07 L287.22 953.94 L289.14 953.81 L291.05 953.68 L292.94 953.55 L294.82 953.41 L296.68 953.26 L298.53 953.11 L300.37 952.96 L302.19 952.8 L304 952.63 L305.79 952.46 L307.58 952.29 L309.34 952.11 L311.1 951.92 L312.84 951.73 L314.57 951.53 L316.28 951.33 L317.98 951.12 L319.67 950.9 L321.34 950.67 L323 950.44 L324.65 950.2 L326.28 949.96 L327.9 949.7 L329.51 949.44 L331.1 949.17 L332.68 948.89 L334.24 948.61 L335.79 948.31 L337.33 948.01 L338.86 947.69 L340.37 947.37 L341.87 947.03 L343.36 946.69 L344.83 946.33 L346.29 945.96 L347.73 945.58 L349.17 945.19 L350.59 944.79 L351.99 944.37 L353.39 943.95 L354.77 943.5 L356.13 943.05 L357.49 942.58 L358.83 942.09 L360.16 941.59 L361.47 941.08 L362.77 940.55 L364.06 940 L365.34 939.43 L366.6 938.85 L367.85 938.25 L369.09 937.63 L370.31 936.99 L371.53 936.33 L372.73 935.65 L373.91 934.95 L375.09 934.23 L376.25 933.49 L377.39 932.72 L378.53 931.93 L379.65 931.12 L380.76 930.28 L381.86 929.41 L382.95 928.52 L384.02 927.6 L385.08 926.66 L386.12 925.68 L387.16 924.68 L388.18 923.65 L389.19 922.58 L390.19 921.49 L391.17 920.36 L392.15 919.2 L393.11 918 L394.06 916.77 L394.99 915.51 L395.91 914.21 L396.83 912.87 L397.72 911.49 L398.61 910.08 L399.49 908.62 L400.35 907.12 L401.2 905.59 L402.04 904.01 L402.86 902.39 L403.68 900.72 L404.48 899.01 L405.27 897.26 L406.05 895.46 L406.82 893.61 L407.57 891.72 L408.31 889.78 L409.05 887.79 L409.77 885.76 L410.47 883.68 L411.17 881.54 L411.85 879.36 L412.53 877.13 L413.19 874.85 L413.84 872.52 L414.48 870.14 L415.1 867.72 L415.72 865.24 L416.32 862.72 L416.91 860.14 L417.49 857.52 L418.06 854.86 L418.62 852.15 L419.17 849.39 L419.7 846.59 L420.23 843.75 L420.74 840.87 L421.25 837.94 L421.74 834.99 L422.22 831.99 L422.69 828.96 L423.15 825.91 L423.59 822.82 L424.03 819.71 L424.46 816.58 L424.87 813.42 L425.28 810.25 L425.67 807.07 L426.05 803.88 L426.43 800.68 L426.79 797.48 L427.14 794.28 L427.48 791.09 L427.81 787.91 L428.13 784.74 L428.44 781.6 L428.74 778.48 L429.04 775.38 L429.32 772.33 L429.59 769.31 L429.85 766.33 L430.1 763.41 L430.34 760.54 L430.57 757.72 L430.79 754.97 L431 752.29 L431.2 749.68 L431.39 747.15 L431.58 744.7 L431.75 742.34 L431.92 740.07 L432.07 737.89 L432.22 735.81 L432.36 733.83 L432.48 731.96 L432.6 730.19 L432.72 728.54 L432.82 726.99 L432.91 725.56 L433 724.24 L433.08 723.04 L433.15 721.96 L433.21 720.99 L433.26 720.14 L433.31 719.41 L433.35 718.79 L433.38 718.27 L433.4 717.87 L433.42 717.57 L433.44 717.37 L433.44 717.26 L433.44 717.23" fill="none" stroke="#b3184c" stroke-width="5.4" stroke-linecap="round" stroke-linejoin="round"/>
<path d="M165.3 963.46 L169.31 963.46 L173.3 963.46 L177.27 963.46 L181.21 963.46 L185.14 963.45 L189.04 963.45 L192.92 963.44 L196.78 963.44 L200.61 963.43 L204.43 963.42 L208.22 963.41 L211.99 963.4 L215.74 963.39 L219.47 963.38 L223.18 963.37 L226.86 963.36 L230.52 963.35 L234.16 963.33 L237.78 963.32 L241.38 963.3 L244.96 963.28 L248.51 963.27 L252.05 963.25 L255.56 963.23 L259.05 963.21 L262.52 963.19 L265.97 963.17 L269.4 963.14 L272.8 963.12 L276.18 963.1 L279.55 963.07 L282.89 963.04 L286.21 963.01 L289.51 962.99 L292.79 962.96 L296.04 962.92 L299.28 962.89 L302.49 962.86 L305.68 962.82 L308.86 962.79 L312.01 962.75 L315.14 962.71 L318.25 962.67 L321.33 962.63 L324.4 962.59 L327.45 962.55 L330.47 962.5 L333.47 962.45 L336.46 962.41 L339.42 962.36 L342.36 962.3 L345.28 962.25 L348.18 962.2 L351.06 962.14 L353.92 962.08 L356.76 962.02 L359.57 961.96 L362.37 961.89 L365.15 961.83 L367.9 961.76 L370.64 961.69 L373.35 961.61 L376.04 961.54 L378.72 961.46 L381.37 961.38 L384 961.3 L386.61 961.21 L389.2 961.12 L391.77 961.03 L394.32 960.94 L396.85 960.84 L399.36 960.74 L401.85 960.64 L404.32 960.54 L406.77 960.43 L409.2 960.31 L411.61 960.2 L414 960.08 L416.36 959.95 L418.71 959.83 L421.04 959.69 L423.35 959.56 L425.64 959.42 L427.91 959.27 L430.15 959.13 L432.38 958.97 L434.59 958.81 L436.78 958.65 L438.95 958.48 L441.1 958.31 L443.23 958.13 L445.34 957.94 L447.43 957.75 L449.5 957.56 L451.55 957.35 L453.58 957.15 L455.59 956.93 L457.58 956.71 L459.56 956.48 L461.51 956.24 L463.44 956 L465.36 955.75 L467.25 955.49 L469.13 955.22 L470.99 954.95 L472.82 954.66 L474.64 954.37 L476.44 954.07 L478.22 953.76 L479.98 953.44 L481.72 953.11 L483.44 952.77 L485.14 952.41 L486.83 952.05 L488.49 951.68 L490.14 951.29 L491.77 950.9 L493.38 950.49 L494.97 950.07 L496.54 949.64 L498.09 949.19 L499.62 948.73 L501.14 948.26 L502.63 947.77 L504.11 947.27 L505.57 946.76 L507.01 946.22 L508.43 945.68 L509.84 945.11 L511.22 944.54 L512.59 943.94 L513.94 943.33 L515.27 942.7 L516.58 942.05 L517.87 941.39 L519.15 940.71 L520.41 940 L521.65 939.28 L522.87 938.54 L524.07 937.78 L525.26 937 L526.43 936.2 L527.58 935.38 L528.71 934.54 L529.82 933.68 L530.92 932.8 L532 931.89 L533.06 930.97 L534.1 930.02 L535.13 929.05 L536.14 928.06 L537.13 927.05 L538.11 926.01 L539.06 924.95 L540 923.87 L540.93 922.77 L541.83 921.65 L542.72 920.51 L543.59 919.34 L544.44 918.16 L545.28 916.95 L546.1 915.73 L546.91 914.48 L547.69 913.22 L548.46 911.94 L549.22 910.64 L549.96 909.33 L550.68 908 L551.38 906.65 L552.07 905.29 L552.74 903.92 L553.39 902.54 L554.03 901.14 L554.66 899.74 L555.26 898.33 L555.85 896.92 L556.43 895.5 L556.99 894.08 L557.53 892.66 L558.06 891.24 L558.57 889.82 L559.07 888.4 L559.55 887 L560.02 885.6 L560.47 884.21 L560.9 882.84 L561.32 881.48 L561.73 880.14 L562.12 878.81 L562.49 877.51 L562.86 876.24 L563.2 874.99 L563.53 873.77 L563.85 872.57 L564.15 871.41 L564.44 870.29 L564.72 869.2 L564.98 868.15 L565.22 867.14 L565.46 866.17 L565.68 865.25 L565.88 864.37 L566.08 863.54 L566.26 862.75 L566.42 862.02 L566.58 861.33 L566.72 860.69 L566.85 860.11 L566.96 859.58 L567.07 859.09 L567.16 858.66 L567.24 858.29 L567.31 857.96 L567.37 857.68 L567.42 857.46 L567.46 857.28 L567.48 857.14 L567.5 857.05 L567.51 857.01 L567.52 856.99" fill="none" stroke="#224197" stroke-width="5.4" stroke-linecap="round" stroke-linejoin="round"/>
<path d="M165.3 965.8 L170.65 965.8 L175.97 965.8 L181.26 965.8 L186.52 965.79 L191.75 965.79 L196.95 965.79 L202.12 965.79 L207.27 965.78 L212.38 965.78 L217.47 965.77 L222.53 965.77 L227.56 965.76 L232.56 965.76 L237.53 965.75 L242.47 965.75 L247.38 965.74 L252.26 965.73 L257.12 965.72 L261.95 965.72 L266.74 965.71 L271.51 965.7 L276.25 965.69 L280.96 965.68 L285.65 965.67 L290.3 965.66 L294.93 965.64 L299.52 965.63 L304.09 965.62 L308.63 965.6 L313.15 965.59 L317.63 965.58 L322.08 965.56 L326.51 965.55 L330.91 965.53 L335.28 965.51 L339.62 965.5 L343.94 965.48 L348.22 965.46 L352.48 965.44 L356.71 965.42 L360.91 965.4 L365.08 965.38 L369.23 965.35 L373.34 965.33 L377.43 965.31 L381.49 965.28 L385.53 965.26 L389.53 965.23 L393.51 965.2 L397.46 965.18 L401.38 965.15 L405.28 965.12 L409.14 965.09 L412.98 965.05 L416.79 965.02 L420.58 964.99 L424.33 964.95 L428.06 964.92 L431.76 964.88 L435.43 964.84 L439.08 964.8 L442.7 964.76 L446.29 964.72 L449.85 964.67 L453.39 964.63 L456.9 964.58 L460.38 964.53 L463.84 964.48 L467.26 964.43 L470.66 964.38 L474.04 964.32 L477.38 964.27 L480.7 964.21 L483.99 964.15 L487.26 964.09 L490.5 964.03 L493.71 963.96 L496.89 963.89 L500.05 963.82 L503.18 963.75 L506.29 963.68 L509.37 963.6 L512.42 963.52 L515.44 963.44 L518.44 963.36 L521.41 963.27 L524.36 963.18 L527.27 963.09 L530.17 963 L533.03 962.9 L535.87 962.8 L538.68 962.69 L541.47 962.59 L544.23 962.48 L546.97 962.36 L549.67 962.24 L552.36 962.12 L555.01 962 L557.64 961.87 L560.25 961.74 L562.83 961.6 L565.38 961.46 L567.9 961.31 L570.41 961.16 L572.88 961.01 L575.33 960.85 L577.75 960.68 L580.15 960.51 L582.52 960.34 L584.87 960.16 L587.19 959.97 L589.49 959.78 L591.76 959.58 L594.01 959.38 L596.23 959.17 L598.42 958.95 L600.59 958.73 L602.73 958.5 L604.85 958.26 L606.95 958.02 L609.02 957.77 L611.06 957.51 L613.08 957.25 L615.08 956.97 L617.05 956.69 L618.99 956.4 L620.91 956.1 L622.81 955.79 L624.68 955.48 L626.53 955.15 L628.35 954.82 L630.15 954.47 L631.92 954.12 L633.67 953.75 L635.4 953.38 L637.1 953 L638.78 952.6 L640.43 952.2 L642.06 951.78 L643.66 951.35 L645.24 950.91 L646.8 950.46 L648.33 950 L649.84 949.53 L651.33 949.05 L652.79 948.55 L654.23 948.04 L655.65 947.52 L657.04 946.99 L658.41 946.44 L659.75 945.88 L661.07 945.31 L662.37 944.73 L663.65 944.14 L664.9 943.53 L666.13 942.91 L667.34 942.28 L668.53 941.64 L669.69 940.98 L670.83 940.31 L671.94 939.64 L673.04 938.95 L674.11 938.25 L675.16 937.54 L676.19 936.82 L677.19 936.09 L678.17 935.35 L679.13 934.6 L680.07 933.84 L680.99 933.08 L681.89 932.31 L682.76 931.53 L683.61 930.74 L684.44 929.96 L685.25 929.16 L686.04 928.37 L686.81 927.57 L687.55 926.77 L688.28 925.97 L688.98 925.17 L689.66 924.37 L690.33 923.58 L690.97 922.79 L691.59 922 L692.19 921.22 L692.77 920.45 L693.33 919.68 L693.87 918.93 L694.39 918.18 L694.89 917.45 L695.37 916.73 L695.84 916.03 L696.28 915.34 L696.7 914.67 L697.1 914.02 L697.49 913.39 L697.86 912.78 L698.2 912.18 L698.53 911.62 L698.84 911.07 L699.14 910.55 L699.41 910.06 L699.67 909.59 L699.91 909.15 L700.13 908.73 L700.34 908.35 L700.52 907.99 L700.7 907.66 L700.85 907.36 L700.99 907.09 L701.11 906.85 L701.22 906.64 L701.31 906.45 L701.39 906.3 L701.46 906.17 L701.51 906.07 L701.55 905.99 L701.57 905.94 L701.58 905.92 L701.59 905.91" fill="none" stroke="#4a962d" stroke-width="5.4" stroke-linecap="round" stroke-linejoin="round"/>
</g>
<rect x="165.3" y="584.8" width="549.7" height="384" fill="none" stroke="#111" stroke-width="2.2"/>
<path d="M165.3 968.8 v11.5 M265.25 968.8 v11.5 M365.19 968.8 v11.5 M465.14 968.8 v11.5 M565.08 968.8 v11.5 M665.03 968.8 v11.5 M215.27 968.8 v6 M315.22 968.8 v6 M415.16 968.8 v6 M515.11 968.8 v6 M615.05 968.8 v6 M715 968.8 v6 " stroke="#111" stroke-width="2" fill="none"/>
<path d="M165.3 968.8 h-12 M165.3 840.8 h-12 M165.3 712.8 h-12 M165.3 584.8 h-12 M165.3 904.8 h-6 M165.3 776.8 h-6 M165.3 648.8 h-6 " stroke="#111" stroke-width="2" fill="none"/>
<text transform="translate(147.2 979) scale(1 1.04)" font-size="37" text-anchor="end" fill="#111" >0.0</text>
<text transform="translate(147.2 851) scale(1 1.04)" font-size="37" text-anchor="end" fill="#111" >1.5</text>
<text transform="translate(147.2 723) scale(1 1.04)" font-size="37" text-anchor="end" fill="#111" >3.0</text>
<text transform="translate(147.2 595) scale(1 1.04)" font-size="37" text-anchor="end" fill="#111" >4.5</text>
<text transform="translate(165.3 1021.8) scale(1 1.04)" font-size="37" text-anchor="middle" fill="#111" >0</text>
<text transform="translate(265.25 1021.8) scale(1 1.04)" font-size="37" text-anchor="middle" fill="#111" >1</text>
<text transform="translate(365.19 1021.8) scale(1 1.04)" font-size="37" text-anchor="middle" fill="#111" >2</text>
<text transform="translate(465.14 1021.8) scale(1 1.04)" font-size="37" text-anchor="middle" fill="#111" >3</text>
<text transform="translate(565.08 1021.8) scale(1 1.04)" font-size="37" text-anchor="middle" fill="#111" >4</text>
<text transform="translate(665.03 1021.8) scale(1 1.04)" font-size="37" text-anchor="middle" fill="#111" >5</text>
<text transform="translate(739.6 1020.3) scale(1 1.04)" font-size="37.5" text-anchor="start" fill="#111" >(<tspan dx="-0.7" dy="2.6" class="sf" font-size="36.5">×</tspan><tspan dx="-0.6" dy="-2.6">10</tspan><tspan font-size="23.5" dy="-20.5">-4</tspan><tspan dy="20.5">)</tspan></text>
<text transform="translate(163 561.6) scale(1 1.04)" font-size="37.5" text-anchor="start" fill="#111" >(<tspan dx="-0.7" dy="2.6" class="sf" font-size="36.5">×</tspan><tspan dx="-0.6" dy="-2.6">10</tspan><tspan font-size="23.5" dy="-20.5">-6</tspan><tspan dy="20.5">)</tspan></text>
<text transform="translate(440.4 1062.6) scale(1 1.04)" font-size="38.2" text-anchor="middle" fill="#111" >z (m)</text>
<g transform="translate(56.1 0) rotate(-90)">
<text transform="translate(-879.5 0) scale(1 1.04)" font-size="56" fill="#111" class="sf">κ</text>
<text transform="translate(-850 -27.8) scale(1 1.04)" font-size="32" fill="#111" >2</text>
<text transform="translate(-831.5 0) scale(1 1.04)" font-size="49" fill="#111" >(z)</text>
<text transform="translate(-761.5 0) scale(1 1.04)" font-size="48" fill="#111" >/</text>
<text transform="translate(-734 0) scale(1 1.2)" font-size="46.5" fill="#111" font-weight="bold">k</text>
<text transform="translate(-706.5 -27.8) scale(1 1.04)" font-size="32" fill="#111" >2</text>
</g>
<text transform="translate(197 645.8) scale(1 0.97)" font-size="64" text-anchor="start" fill="#111" >(c)</text>
<line x1="483.5" y1="618.9" x2="560.5" y2="618.9" stroke="#b2141e" stroke-width="5.4" stroke-linecap="round"/>
<text transform="translate(570.6 629.7) scale(1 1.04)" font-size="33.3" text-anchor="start" fill="#111" >r<tspan font-size="18.5" dy="14.6" dx="0.5">0</tspan><tspan dy="-14.6" dx="1.6">=150</tspan><tspan class="sf" font-size="32.97" dx="2.5">λ</tspan></text>
<line x1="483.5" y1="675.5" x2="560.5" y2="675.5" stroke="#b3184c" stroke-width="5.4" stroke-linecap="round"/>
<text transform="translate(570.6 686.3) scale(1 1.04)" font-size="33.3" text-anchor="start" fill="#111" >r<tspan font-size="18.5" dy="14.6" dx="0.5">0</tspan><tspan dy="-14.6" dx="1.6">=300</tspan><tspan class="sf" font-size="32.97" dx="2.5">λ</tspan></text>
<line x1="483.5" y1="732.1" x2="560.5" y2="732.1" stroke="#224197" stroke-width="5.4" stroke-linecap="round"/>
<text transform="translate(570.6 742.9) scale(1 1.04)" font-size="33.3" text-anchor="start" fill="#111" >r<tspan font-size="18.5" dy="14.6" dx="0.5">0</tspan><tspan dy="-14.6" dx="1.6">=450</tspan><tspan class="sf" font-size="32.97" dx="2.5">λ</tspan></text>
<line x1="483.5" y1="788.7" x2="560.5" y2="788.7" stroke="#4a962d" stroke-width="5.4" stroke-linecap="round"/>
<text transform="translate(570.6 799.5) scale(1 1.04)" font-size="33.3" text-anchor="start" fill="#111" >r<tspan font-size="18.5" dy="14.6" dx="0.5">0</tspan><tspan dy="-14.6" dx="1.6">=600</tspan><tspan class="sf" font-size="32.97" dx="2.5">λ</tspan></text>
</g>
<g id="panel-d">
<defs>
<clipPath id="domeclip"><path d="M990.5 943 A321 355.5 0 0 1 1632.5 943 A321 82 0 0 1 990.5 943 Z"/></clipPath>
</defs>
<path d="M990.5 943 A321 355.5 0 0 1 1632.5 943 A321 82 0 0 1 990.5 943 Z" fill="#0e0c0a"/>
<ellipse cx="1311.5" cy="943" rx="320" ry="81.5" fill="#281715"/>
<path d="M1311.5 591.01 L1311.5 591.19 L1311.5 591.57 L1311.5 592.17 L1311.5 592.97 L1311.5 593.99 M1302.45 591.16 L1303.41 591.32 L1304.38 591.69 L1305.35 592.27 L1306.32 593.06 L1307.29 594.06 M1293.54 591.59 L1295.45 591.71 L1297.36 592.03 L1299.29 592.56 L1301.22 593.31 L1303.16 594.26 M1282.11 592.48 L1284.92 592.31 L1287.74 592.35 L1290.57 592.59 L1293.42 593.05 L1296.28 593.72 L1299.15 594.59 M1273.04 593.57 L1276.71 593.29 L1280.4 593.23 L1284.12 593.37 L1287.84 593.72 L1291.58 594.28 L1295.34 595.05 M1260.13 595.55 L1264.58 594.94 L1269.06 594.53 L1273.56 594.34 L1278.09 594.35 L1282.63 594.56 L1287.2 594.99 L1291.78 595.63 M1246.52 598.32 L1251.67 597.34 L1256.85 596.57 L1262.07 596.01 L1267.32 595.66 L1272.59 595.51 L1277.88 595.57 L1283.2 595.84 L1288.53 596.31 M1226.91 603.45 L1232.61 601.89 L1238.36 600.54 L1244.16 599.39 L1249.99 598.44 L1255.86 597.7 L1261.77 597.17 L1267.7 596.84 L1273.66 596.72 L1279.64 596.8 L1285.65 597.1 M1206.47 610.41 L1212.61 608.25 L1218.8 606.3 L1225.05 604.55 L1231.35 603 L1237.7 601.65 L1244.1 600.51 L1250.53 599.57 L1257 598.84 L1263.5 598.31 L1270.04 597.99 L1276.59 597.88 L1283.17 597.97 M1173.36 625.28 L1179.64 622.14 L1186 619.2 L1192.44 616.46 L1198.95 613.9 L1205.52 611.55 L1212.16 609.39 L1218.86 607.43 L1225.61 605.67 L1232.42 604.11 L1239.27 602.76 L1246.16 601.6 L1253.1 600.66 L1260.07 599.91 L1267.07 599.37 L1274.09 599.04 L1281.14 598.91 M1128.62 653.72 L1134.65 649.29 L1140.78 645.04 L1147.02 640.96 L1153.35 637.07 L1159.78 633.36 L1166.3 629.83 L1172.9 626.49 L1179.59 623.34 L1186.35 620.38 L1193.2 617.61 L1200.11 615.04 L1207.08 612.66 L1214.13 610.48 L1221.22 608.5 L1228.38 606.72 L1235.58 605.14 L1242.82 603.76 L1250.11 602.58 L1257.44 601.61 L1264.8 600.84 L1272.18 600.27 L1279.59 599.91 M1067.15 714.74 L1072.09 708.56 L1077.18 702.53 L1082.4 696.64 L1087.76 690.89 L1093.26 685.3 L1098.88 679.85 L1104.64 674.57 L1110.51 669.45 L1116.51 664.49 L1122.62 659.69 L1128.84 655.07 L1135.18 650.62 L1141.62 646.34 L1148.16 642.24 L1154.8 638.31 L1161.53 634.57 L1168.35 631.02 L1175.26 627.65 L1182.25 624.47 L1189.31 621.48 L1196.45 618.68 L1203.66 616.07 L1210.93 613.66 L1218.26 611.45 L1225.65 609.43 L1233.08 607.62 L1240.57 606 L1248.1 604.59 L1255.66 603.37 L1263.26 602.36 L1270.89 601.56 L1278.54 600.95 M1002.64 847.13 L1004.81 839.13 L1007.16 831.19 L1009.7 823.32 L1012.41 815.52 L1015.31 807.79 L1018.38 800.15 L1021.62 792.59 L1025.04 785.12 L1028.63 777.75 L1032.39 770.47 L1036.32 763.3 L1040.41 756.23 L1044.66 749.28 L1049.07 742.44 L1053.64 735.72 L1058.36 729.12 L1063.23 722.66 L1068.25 716.32 L1073.42 710.12 L1078.73 704.06 L1084.18 698.14 L1089.76 692.37 L1095.48 686.74 L1101.32 681.27 L1107.29 675.96 L1113.38 670.8 L1119.59 665.81 L1125.92 660.99 L1132.35 656.33 L1138.9 651.84 L1145.54 647.53 L1152.29 643.39 L1159.13 639.43 L1166.06 635.66 L1173.07 632.06 L1180.17 628.66 L1187.35 625.44 L1194.61 622.41 L1201.93 619.57 L1209.32 616.92 L1216.77 614.47 L1224.27 612.22 L1231.83 610.16 L1239.43 608.3 L1247.08 606.64 L1254.77 605.18 L1262.49 603.93 L1270.24 602.87 L1278.01 602.02 M991.13 948.15 L991.23 939.78 L991.52 931.42 L991.99 923.06 L992.66 914.72 L993.52 906.39 L994.57 898.09 L995.81 889.81 L997.23 881.56 L998.85 873.35 L1000.65 865.18 L1002.64 857.06 L1004.81 848.99 L1007.16 840.97 L1009.7 833.02 L1012.41 825.13 L1015.31 817.31 L1018.38 809.57 L1021.62 801.91 L1025.04 794.33 L1028.63 786.84 L1032.39 779.44 L1036.32 772.14 L1040.41 764.95 L1044.66 757.85 L1049.07 750.87 L1053.64 744.01 L1058.36 737.26 L1063.23 730.64 L1068.25 724.14 L1073.42 717.77 L1078.73 711.54 L1084.18 705.45 L1089.76 699.49 L1095.48 693.69 L1101.32 688.03 L1107.29 682.52 L1113.38 677.17 L1119.59 671.98 L1125.92 666.95 L1132.35 662.09 L1138.9 657.39 L1145.54 652.86 L1152.29 648.51 L1159.13 644.33 L1166.06 640.33 L1173.07 636.51 L1180.17 632.88 L1187.35 629.43 L1194.61 626.16 L1201.93 623.09 L1209.32 620.21 L1216.77 617.52 L1224.27 615.02 L1231.83 612.72 L1239.43 610.62 L1247.08 608.71 L1254.77 607.01 L1262.49 605.5 L1270.24 604.2 L1278.01 603.1 M996.19 958.37 L996.28 950 L996.56 941.62 L997.03 933.25 L997.69 924.89 L998.54 916.53 L999.57 908.19 L1000.79 899.88 L1002.19 891.58 L1003.78 883.32 L1005.55 875.1 L1007.51 866.91 L1009.64 858.77 L1011.96 850.68 L1014.46 842.64 L1017.13 834.67 L1019.98 826.76 L1023 818.92 L1026.2 811.15 L1029.56 803.46 L1033.09 795.86 L1036.79 788.34 L1040.66 780.92 L1044.68 773.59 L1048.87 766.36 L1053.21 759.24 L1057.71 752.23 L1062.35 745.33 L1067.15 738.55 L1072.09 731.9 L1077.18 725.36 L1082.4 718.96 L1087.76 712.7 L1093.26 706.57 L1098.88 700.58 L1104.64 694.73 L1110.51 689.04 L1116.51 683.49 L1122.62 678.1 L1128.84 672.87 L1135.18 667.8 L1141.62 662.89 L1148.16 658.16 L1154.8 653.59 L1161.53 649.19 L1168.35 644.97 L1175.26 640.93 L1182.25 637.07 L1189.31 633.39 L1196.45 629.89 L1203.66 626.58 L1210.93 623.46 L1218.26 620.54 L1225.65 617.8 L1233.08 615.26 L1240.57 612.91 L1248.1 610.77 L1255.66 608.82 L1263.26 607.06 L1270.89 605.51 L1278.54 604.17 M1006.21 968.34 L1006.3 959.97 L1006.58 951.59 L1007.03 943.2 L1007.67 934.81 L1008.49 926.43 L1009.49 918.06 L1010.67 909.7 L1012.03 901.37 L1013.56 893.06 L1015.28 884.77 L1017.17 876.53 L1019.24 868.32 L1021.48 860.15 L1023.9 852.04 L1026.49 843.98 L1029.25 835.98 L1032.17 828.04 L1035.27 820.18 L1038.52 812.38 L1041.95 804.67 L1045.53 797.03 L1049.27 789.49 L1053.17 782.03 L1057.22 774.67 L1061.42 767.41 L1065.77 760.26 L1070.27 753.21 L1074.92 746.28 L1079.7 739.47 L1084.63 732.78 L1089.68 726.21 L1094.88 719.77 L1100.2 713.47 L1105.64 707.3 L1111.21 701.28 L1116.9 695.39 L1122.71 689.66 L1128.62 684.08 L1134.65 678.65 L1140.78 673.38 L1147.02 668.27 L1153.35 663.32 L1159.78 658.54 L1166.3 653.93 L1172.9 649.5 L1179.59 645.24 L1186.35 641.15 L1193.2 637.25 L1200.11 633.53 L1207.08 630 L1214.13 626.65 L1221.22 623.49 L1228.38 620.52 L1235.58 617.74 L1242.82 615.16 L1250.11 612.77 L1257.44 610.58 L1264.8 608.59 L1272.18 606.8 L1279.59 605.21 M1021.05 977.91 L1021.14 969.54 L1021.4 961.15 L1021.83 952.75 L1022.44 944.34 L1023.22 935.94 L1024.17 927.53 L1025.29 919.14 L1026.58 910.76 L1028.05 902.4 L1029.68 894.06 L1031.48 885.76 L1033.45 877.48 L1035.58 869.25 L1037.88 861.06 L1040.34 852.92 L1042.97 844.83 L1045.75 836.8 L1048.69 828.84 L1051.79 820.94 L1055.05 813.12 L1058.46 805.37 L1062.02 797.71 L1065.72 790.13 L1069.58 782.65 L1073.58 775.26 L1077.72 767.97 L1082 760.78 L1086.42 753.7 L1090.97 746.74 L1095.65 739.89 L1100.47 733.17 L1105.41 726.57 L1110.47 720.1 L1115.65 713.76 L1120.95 707.56 L1126.36 701.5 L1131.88 695.58 L1137.51 689.81 L1143.25 684.19 L1149.08 678.73 L1155.01 673.43 L1161.04 668.28 L1167.15 663.3 L1173.36 658.49 L1179.64 653.85 L1186 649.37 L1192.44 645.08 L1198.95 640.96 L1205.52 637.02 L1212.16 633.27 L1218.86 629.7 L1225.61 626.32 L1232.42 623.12 L1239.27 620.12 L1246.16 617.31 L1253.1 614.7 L1260.07 612.28 L1267.07 610.06 L1274.09 608.03 L1281.14 606.21 M1040.47 986.94 L1040.55 978.56 L1040.79 970.16 L1041.2 961.75 L1041.76 953.32 L1042.49 944.89 L1043.38 936.46 L1044.43 928.03 L1045.63 919.61 L1047 911.21 L1048.52 902.82 L1050.2 894.46 L1052.04 886.12 L1054.03 877.82 L1056.17 869.56 L1058.47 861.34 L1060.92 853.18 L1063.52 845.06 L1066.27 837.01 L1069.16 829.01 L1072.2 821.09 L1075.38 813.24 L1078.7 805.46 L1082.16 797.77 L1085.75 790.16 L1089.49 782.65 L1093.35 775.23 L1097.34 767.91 L1101.47 760.7 L1105.72 753.59 L1110.09 746.6 L1114.58 739.72 L1119.19 732.97 L1123.91 726.34 L1128.74 719.84 L1133.69 713.48 L1138.74 707.25 L1143.89 701.16 L1149.15 695.22 L1154.5 689.42 L1159.94 683.78 L1165.48 678.29 L1171.1 672.96 L1176.81 667.79 L1182.59 662.78 L1188.46 657.94 L1194.39 653.27 L1200.4 648.78 L1206.47 644.46 L1212.61 640.32 L1218.8 636.36 L1225.05 632.58 L1231.35 628.99 L1237.7 625.58 L1244.1 622.37 L1250.53 619.34 L1257 616.51 L1263.5 613.88 L1270.04 611.44 L1276.59 609.19 L1283.17 607.15 M1064.17 995.27 L1064.24 986.89 L1064.46 978.48 L1064.83 970.06 L1065.35 961.62 L1066.01 953.16 L1066.82 944.7 L1067.77 936.24 L1068.88 927.78 L1070.12 919.34 L1071.51 910.9 L1073.05 902.49 L1074.72 894.1 L1076.54 885.74 L1078.5 877.41 L1080.59 869.12 L1082.83 860.88 L1085.2 852.68 L1087.7 844.54 L1090.34 836.46 L1093.12 828.44 L1096.02 820.49 L1099.05 812.62 L1102.21 804.82 L1105.49 797.1 L1108.9 789.47 L1112.42 781.93 L1116.07 774.49 L1119.83 767.15 L1123.71 759.92 L1127.69 752.79 L1131.79 745.78 L1136 738.88 L1140.31 732.11 L1144.72 725.46 L1149.23 718.94 L1153.84 712.56 L1158.55 706.31 L1163.34 700.21 L1168.22 694.25 L1173.19 688.44 L1178.24 682.78 L1183.37 677.27 L1188.58 671.93 L1193.86 666.74 L1199.21 661.72 L1204.63 656.87 L1210.11 652.19 L1215.65 647.69 L1221.25 643.36 L1226.91 639.21 L1232.61 635.24 L1238.36 631.45 L1244.16 627.85 L1249.99 624.44 L1255.86 621.22 L1261.77 618.19 L1267.7 615.35 L1273.66 612.71 L1279.64 610.27 L1285.65 608.02 M1091.76 1002.78 L1091.83 994.39 L1092.02 985.98 L1092.35 977.54 L1092.81 969.09 L1093.4 960.61 L1094.12 952.13 L1094.97 943.64 L1095.95 935.15 L1097.05 926.66 L1098.29 918.19 L1099.65 909.73 L1101.14 901.28 L1102.75 892.87 L1104.49 884.48 L1106.36 876.13 L1108.34 867.82 L1110.45 859.55 L1112.67 851.34 L1115.02 843.17 L1117.48 835.07 L1120.06 827.03 L1122.75 819.06 L1125.56 811.17 L1128.47 803.35 L1131.5 795.62 L1134.63 787.98 L1137.87 780.42 L1141.21 772.97 L1144.66 765.62 L1148.2 758.37 L1151.84 751.23 L1155.58 744.21 L1159.41 737.3 L1163.33 730.52 L1167.34 723.87 L1171.43 717.34 L1175.61 710.95 L1179.87 704.7 L1184.21 698.6 L1188.62 692.63 L1193.11 686.82 L1197.67 681.16 L1202.3 675.66 L1206.99 670.31 L1211.74 665.13 L1216.55 660.12 L1221.42 655.27 L1226.35 650.6 L1231.32 646.1 L1236.34 641.77 L1241.41 637.63 L1246.52 633.67 L1251.67 629.89 L1256.85 626.3 L1262.07 622.9 L1267.32 619.7 L1272.59 616.68 L1277.88 613.86 L1283.2 611.23 L1288.53 608.81 M1122.82 1009.34 L1122.88 1000.96 L1123.05 992.54 L1123.33 984.09 L1123.72 975.62 L1124.23 967.13 L1124.85 958.62 L1125.57 950.11 L1126.41 941.59 L1127.36 933.07 L1128.43 924.56 L1129.6 916.05 L1130.87 907.57 L1132.26 899.1 L1133.75 890.67 L1135.35 882.26 L1137.06 873.89 L1138.87 865.56 L1140.78 857.27 L1142.79 849.04 L1144.91 840.87 L1147.12 832.75 L1149.43 824.7 L1151.84 816.72 L1154.35 808.82 L1156.94 801 L1159.63 793.26 L1162.41 785.61 L1165.28 778.06 L1168.24 770.6 L1171.28 763.25 L1174.41 756 L1177.62 748.87 L1180.91 741.85 L1184.27 734.95 L1187.72 728.17 L1191.23 721.53 L1194.82 715.01 L1198.48 708.64 L1202.2 702.4 L1205.99 696.3 L1209.85 690.36 L1213.76 684.56 L1217.73 678.92 L1221.76 673.44 L1225.84 668.11 L1229.97 662.95 L1234.16 657.96 L1238.38 653.14 L1242.66 648.49 L1246.97 644.02 L1251.32 639.72 L1255.71 635.61 L1260.13 631.68 L1264.58 627.94 L1269.06 624.38 L1273.56 621.02 L1278.09 617.84 L1282.63 614.86 L1287.2 612.08 L1291.78 609.49 M1156.86 1014.86 L1156.9 1006.47 L1157.04 998.05 L1157.27 989.59 L1157.6 981.11 L1158.01 972.6 L1158.52 964.08 L1159.11 955.54 L1159.8 947 L1160.58 938.45 L1161.45 929.91 L1162.41 921.37 L1163.46 912.85 L1164.59 904.35 L1165.82 895.86 L1167.13 887.41 L1168.53 878.99 L1170.01 870.61 L1171.57 862.27 L1173.23 853.98 L1174.96 845.74 L1176.77 837.56 L1178.67 829.44 L1180.64 821.39 L1182.69 813.42 L1184.82 805.52 L1187.03 797.7 L1189.31 789.97 L1191.66 782.33 L1194.08 774.79 L1196.58 767.35 L1199.14 760.01 L1201.77 752.78 L1204.46 745.67 L1207.22 738.67 L1210.05 731.79 L1212.93 725.04 L1215.87 718.43 L1218.87 711.94 L1221.92 705.59 L1225.02 699.39 L1228.18 693.33 L1231.39 687.42 L1234.65 681.66 L1237.95 676.06 L1241.29 670.62 L1244.68 665.34 L1248.11 660.22 L1251.57 655.28 L1255.07 650.5 L1258.61 645.91 L1262.18 641.48 L1265.77 637.24 L1269.39 633.18 L1273.04 629.31 L1276.71 625.62 L1280.4 622.12 L1284.12 618.82 L1287.84 615.71 L1291.58 612.79 L1295.34 610.07 M1193.33 1019.24 L1193.37 1010.86 L1193.47 1002.43 L1193.65 993.97 L1193.9 985.47 L1194.21 976.96 L1194.6 968.42 L1195.06 959.86 L1195.58 951.3 L1196.18 942.73 L1196.84 934.16 L1197.57 925.6 L1198.38 917.05 L1199.24 908.51 L1200.18 899.99 L1201.18 891.5 L1202.25 883.04 L1203.38 874.62 L1204.58 866.23 L1205.84 857.9 L1207.16 849.61 L1208.55 841.38 L1210 833.21 L1211.51 825.1 L1213.08 817.07 L1214.7 809.11 L1216.39 801.23 L1218.13 793.44 L1219.93 785.73 L1221.78 778.12 L1223.68 770.6 L1225.64 763.19 L1227.65 755.89 L1229.71 748.7 L1231.82 741.63 L1233.97 734.67 L1236.18 727.84 L1238.42 721.14 L1240.71 714.57 L1243.05 708.13 L1245.42 701.84 L1247.83 695.69 L1250.29 689.69 L1252.77 683.84 L1255.3 678.14 L1257.85 672.61 L1260.44 667.23 L1263.06 662.02 L1265.71 656.98 L1268.38 652.1 L1271.08 647.4 L1273.81 642.88 L1276.56 638.54 L1279.33 634.38 L1282.11 630.4 L1284.92 626.61 L1287.74 623.01 L1290.57 619.6 L1293.42 616.38 L1296.28 613.36 L1299.15 610.53 M1231.67 1022.42 L1231.69 1014.04 L1231.77 1005.61 L1231.88 997.14 L1232.05 988.64 L1232.27 980.11 L1232.53 971.57 L1232.84 963 L1233.19 954.42 L1233.59 945.84 L1234.04 937.25 L1234.54 928.67 L1235.08 920.09 L1235.66 911.53 L1236.3 902.99 L1236.97 894.47 L1237.69 885.98 L1238.46 877.53 L1239.27 869.11 L1240.12 860.74 L1241.01 852.42 L1241.95 844.15 L1242.93 835.94 L1243.95 827.8 L1245.01 819.72 L1246.11 811.72 L1247.25 803.79 L1248.42 795.95 L1249.64 788.2 L1250.89 780.53 L1252.18 772.97 L1253.5 765.51 L1254.86 758.15 L1256.25 750.9 L1257.67 743.77 L1259.13 736.76 L1260.61 729.87 L1262.13 723.11 L1263.68 716.47 L1265.26 709.98 L1266.86 703.62 L1268.49 697.41 L1270.15 691.34 L1271.83 685.42 L1273.53 679.66 L1275.26 674.05 L1277.01 668.61 L1278.78 663.32 L1280.56 658.21 L1282.37 653.26 L1284.2 648.49 L1286.04 643.9 L1287.89 639.48 L1289.76 635.24 L1291.65 631.19 L1293.54 627.32 L1295.45 623.65 L1297.36 620.16 L1299.29 616.86 L1301.22 613.76 L1303.16 610.86 M1271.27 1024.35 L1271.28 1015.97 L1271.32 1007.53 L1271.38 999.06 L1271.46 990.56 L1271.57 982.03 L1271.7 973.47 L1271.86 964.9 L1272.03 956.31 L1272.24 947.72 L1272.46 939.12 L1272.71 930.53 L1272.99 921.94 L1273.28 913.37 L1273.6 904.81 L1273.94 896.27 L1274.3 887.77 L1274.69 879.3 L1275.1 870.86 L1275.53 862.47 L1275.98 854.12 L1276.45 845.83 L1276.94 837.6 L1277.46 829.43 L1277.99 821.33 L1278.54 813.3 L1279.12 805.34 L1279.71 797.47 L1280.32 789.69 L1280.95 782 L1281.6 774.4 L1282.27 766.91 L1282.95 759.52 L1283.65 752.24 L1284.37 745.07 L1285.11 738.02 L1285.86 731.1 L1286.62 724.3 L1287.4 717.63 L1288.19 711.1 L1289 704.7 L1289.82 698.45 L1290.66 692.34 L1291.51 686.38 L1292.36 680.58 L1293.24 674.93 L1294.12 669.44 L1295.01 664.12 L1295.91 658.96 L1296.82 653.97 L1297.74 649.15 L1298.67 644.51 L1299.6 640.05 L1300.55 635.77 L1301.49 631.67 L1302.45 627.76 L1303.41 624.03 L1304.38 620.5 L1305.35 617.16 L1306.32 614.01 L1307.29 611.06 M1311.5 1025 L1311.5 1016.61 L1311.5 1008.18 L1311.5 999.71 L1311.5 991.2 L1311.5 982.67 L1311.5 974.11 L1311.5 965.54 L1311.5 956.95 L1311.5 948.35 L1311.5 939.75 L1311.5 931.15 L1311.5 922.56 L1311.5 913.98 L1311.5 905.42 L1311.5 896.88 L1311.5 888.37 L1311.5 879.89 L1311.5 871.44 L1311.5 863.05 L1311.5 854.69 L1311.5 846.4 L1311.5 838.15 L1311.5 829.98 L1311.5 821.86 L1311.5 813.83 L1311.5 805.86 L1311.5 797.99 L1311.5 790.19 L1311.5 782.49 L1311.5 774.88 L1311.5 767.38 L1311.5 759.98 L1311.5 752.69 L1311.5 745.51 L1311.5 738.45 L1311.5 731.51 L1311.5 724.7 L1311.5 718.02 L1311.5 711.47 L1311.5 705.06 L1311.5 698.79 L1311.5 692.67 L1311.5 686.7 L1311.5 680.88 L1311.5 675.22 L1311.5 669.72 L1311.5 664.38 L1311.5 659.21 L1311.5 654.2 L1311.5 649.37 L1311.5 644.72 L1311.5 640.24 L1311.5 635.94 L1311.5 631.83 L1311.5 627.9 L1311.5 624.16 L1311.5 620.62 L1311.5 617.26 L1311.5 614.1 L1311.5 611.13 M1351.73 1024.35 L1351.72 1015.97 L1351.68 1007.53 L1351.62 999.06 L1351.54 990.56 L1351.43 982.03 L1351.3 973.47 L1351.14 964.9 L1350.97 956.31 L1350.76 947.72 L1350.54 939.12 L1350.29 930.53 L1350.01 921.94 L1349.72 913.37 L1349.4 904.81 L1349.06 896.27 L1348.7 887.77 L1348.31 879.3 L1347.9 870.86 L1347.47 862.47 L1347.02 854.12 L1346.55 845.83 L1346.06 837.6 L1345.54 829.43 L1345.01 821.33 L1344.46 813.3 L1343.88 805.34 L1343.29 797.47 L1342.68 789.69 L1342.05 782 L1341.4 774.4 L1340.73 766.91 L1340.05 759.52 L1339.35 752.24 L1338.63 745.07 L1337.89 738.02 L1337.14 731.1 L1336.38 724.3 L1335.6 717.63 L1334.81 711.1 L1334 704.7 L1333.18 698.45 L1332.34 692.34 L1331.49 686.38 L1330.64 680.58 L1329.76 674.93 L1328.88 669.44 L1327.99 664.12 L1327.09 658.96 L1326.18 653.97 L1325.26 649.15 L1324.33 644.51 L1323.4 640.05 L1322.45 635.77 L1321.51 631.67 L1320.55 627.76 L1319.59 624.03 L1318.62 620.5 L1317.65 617.16 L1316.68 614.01 L1315.71 611.06 M1391.33 1022.42 L1391.31 1014.04 L1391.23 1005.61 L1391.12 997.14 L1390.95 988.64 L1390.73 980.11 L1390.47 971.57 L1390.16 963 L1389.81 954.42 L1389.41 945.84 L1388.96 937.25 L1388.46 928.67 L1387.92 920.09 L1387.34 911.53 L1386.7 902.99 L1386.03 894.47 L1385.31 885.98 L1384.54 877.53 L1383.73 869.11 L1382.88 860.74 L1381.99 852.42 L1381.05 844.15 L1380.07 835.94 L1379.05 827.8 L1377.99 819.72 L1376.89 811.72 L1375.75 803.79 L1374.58 795.95 L1373.36 788.2 L1372.11 780.53 L1370.82 772.97 L1369.5 765.51 L1368.14 758.15 L1366.75 750.9 L1365.33 743.77 L1363.87 736.76 L1362.39 729.87 L1360.87 723.11 L1359.32 716.47 L1357.74 709.98 L1356.14 703.62 L1354.51 697.41 L1352.85 691.34 L1351.17 685.42 L1349.47 679.66 L1347.74 674.05 L1345.99 668.61 L1344.22 663.32 L1342.44 658.21 L1340.63 653.26 L1338.8 648.49 L1336.96 643.9 L1335.11 639.48 L1333.24 635.24 L1331.35 631.19 L1329.46 627.32 L1327.55 623.65 L1325.64 620.16 L1323.71 616.86 L1321.78 613.76 L1319.84 610.86 M1429.67 1019.24 L1429.63 1010.86 L1429.53 1002.43 L1429.35 993.97 L1429.1 985.47 L1428.79 976.96 L1428.4 968.42 L1427.94 959.86 L1427.42 951.3 L1426.82 942.73 L1426.16 934.16 L1425.43 925.6 L1424.62 917.05 L1423.76 908.51 L1422.82 899.99 L1421.82 891.5 L1420.75 883.04 L1419.62 874.62 L1418.42 866.23 L1417.16 857.9 L1415.84 849.61 L1414.45 841.38 L1413 833.21 L1411.49 825.1 L1409.92 817.07 L1408.3 809.11 L1406.61 801.23 L1404.87 793.44 L1403.07 785.73 L1401.22 778.12 L1399.32 770.6 L1397.36 763.19 L1395.35 755.89 L1393.29 748.7 L1391.18 741.63 L1389.03 734.67 L1386.82 727.84 L1384.58 721.14 L1382.29 714.57 L1379.95 708.13 L1377.58 701.84 L1375.17 695.69 L1372.71 689.69 L1370.23 683.84 L1367.7 678.14 L1365.15 672.61 L1362.56 667.23 L1359.94 662.02 L1357.29 656.98 L1354.62 652.1 L1351.92 647.4 L1349.19 642.88 L1346.44 638.54 L1343.67 634.38 L1340.89 630.4 L1338.08 626.61 L1335.26 623.01 L1332.43 619.6 L1329.58 616.38 L1326.72 613.36 L1323.85 610.53 M1466.14 1014.86 L1466.1 1006.47 L1465.96 998.05 L1465.73 989.59 L1465.4 981.11 L1464.99 972.6 L1464.48 964.08 L1463.89 955.54 L1463.2 947 L1462.42 938.45 L1461.55 929.91 L1460.59 921.37 L1459.54 912.85 L1458.41 904.35 L1457.18 895.86 L1455.87 887.41 L1454.47 878.99 L1452.99 870.61 L1451.43 862.27 L1449.77 853.98 L1448.04 845.74 L1446.23 837.56 L1444.33 829.44 L1442.36 821.39 L1440.31 813.42 L1438.18 805.52 L1435.97 797.7 L1433.69 789.97 L1431.34 782.33 L1428.92 774.79 L1426.42 767.35 L1423.86 760.01 L1421.23 752.78 L1418.54 745.67 L1415.78 738.67 L1412.95 731.79 L1410.07 725.04 L1407.13 718.43 L1404.13 711.94 L1401.08 705.59 L1397.98 699.39 L1394.82 693.33 L1391.61 687.42 L1388.35 681.66 L1385.05 676.06 L1381.71 670.62 L1378.32 665.34 L1374.89 660.22 L1371.43 655.28 L1367.93 650.5 L1364.39 645.91 L1360.82 641.48 L1357.23 637.24 L1353.61 633.18 L1349.96 629.31 L1346.29 625.62 L1342.6 622.12 L1338.88 618.82 L1335.16 615.71 L1331.42 612.79 L1327.66 610.07 M1500.18 1009.34 L1500.12 1000.96 L1499.95 992.54 L1499.67 984.09 L1499.28 975.62 L1498.77 967.13 L1498.15 958.62 L1497.43 950.11 L1496.59 941.59 L1495.64 933.07 L1494.57 924.56 L1493.4 916.05 L1492.13 907.57 L1490.74 899.1 L1489.25 890.67 L1487.65 882.26 L1485.94 873.89 L1484.13 865.56 L1482.22 857.27 L1480.21 849.04 L1478.09 840.87 L1475.88 832.75 L1473.57 824.7 L1471.16 816.72 L1468.65 808.82 L1466.06 801 L1463.37 793.26 L1460.59 785.61 L1457.72 778.06 L1454.76 770.6 L1451.72 763.25 L1448.59 756 L1445.38 748.87 L1442.09 741.85 L1438.73 734.95 L1435.28 728.17 L1431.77 721.53 L1428.18 715.01 L1424.52 708.64 L1420.8 702.4 L1417.01 696.3 L1413.15 690.36 L1409.24 684.56 L1405.27 678.92 L1401.24 673.44 L1397.16 668.11 L1393.03 662.95 L1388.84 657.96 L1384.62 653.14 L1380.34 648.49 L1376.03 644.02 L1371.68 639.72 L1367.29 635.61 L1362.87 631.68 L1358.42 627.94 L1353.94 624.38 L1349.44 621.02 L1344.91 617.84 L1340.37 614.86 L1335.8 612.08 L1331.22 609.49 M1531.24 1002.78 L1531.17 994.39 L1530.98 985.98 L1530.65 977.54 L1530.19 969.09 L1529.6 960.61 L1528.88 952.13 L1528.03 943.64 L1527.05 935.15 L1525.95 926.66 L1524.71 918.19 L1523.35 909.73 L1521.86 901.28 L1520.25 892.87 L1518.51 884.48 L1516.64 876.13 L1514.66 867.82 L1512.55 859.55 L1510.33 851.34 L1507.98 843.17 L1505.52 835.07 L1502.94 827.03 L1500.25 819.06 L1497.44 811.17 L1494.53 803.35 L1491.5 795.62 L1488.37 787.98 L1485.13 780.42 L1481.79 772.97 L1478.34 765.62 L1474.8 758.37 L1471.16 751.23 L1467.42 744.21 L1463.59 737.3 L1459.67 730.52 L1455.66 723.87 L1451.57 717.34 L1447.39 710.95 L1443.13 704.7 L1438.79 698.6 L1434.38 692.63 L1429.89 686.82 L1425.33 681.16 L1420.7 675.66 L1416.01 670.31 L1411.26 665.13 L1406.45 660.12 L1401.58 655.27 L1396.65 650.6 L1391.68 646.1 L1386.66 641.77 L1381.59 637.63 L1376.48 633.67 L1371.33 629.89 L1366.15 626.3 L1360.93 622.9 L1355.68 619.7 L1350.41 616.68 L1345.12 613.86 L1339.8 611.23 L1334.47 608.81 M1558.83 995.27 L1558.76 986.89 L1558.54 978.48 L1558.17 970.06 L1557.65 961.62 L1556.99 953.16 L1556.18 944.7 L1555.23 936.24 L1554.12 927.78 L1552.88 919.34 L1551.49 910.9 L1549.95 902.49 L1548.28 894.1 L1546.46 885.74 L1544.5 877.41 L1542.41 869.12 L1540.17 860.88 L1537.8 852.68 L1535.3 844.54 L1532.66 836.46 L1529.88 828.44 L1526.98 820.49 L1523.95 812.62 L1520.79 804.82 L1517.51 797.1 L1514.1 789.47 L1510.58 781.93 L1506.93 774.49 L1503.17 767.15 L1499.29 759.92 L1495.31 752.79 L1491.21 745.78 L1487 738.88 L1482.69 732.11 L1478.28 725.46 L1473.77 718.94 L1469.16 712.56 L1464.45 706.31 L1459.66 700.21 L1454.78 694.25 L1449.81 688.44 L1444.76 682.78 L1439.63 677.27 L1434.42 671.93 L1429.14 666.74 L1423.79 661.72 L1418.37 656.87 L1412.89 652.19 L1407.35 647.69 L1401.75 643.36 L1396.09 639.21 L1390.39 635.24 L1384.64 631.45 L1378.84 627.85 L1373.01 624.44 L1367.14 621.22 L1361.23 618.19 L1355.3 615.35 L1349.34 612.71 L1343.36 610.27 L1337.35 608.02 M1582.53 986.94 L1582.45 978.56 L1582.21 970.16 L1581.8 961.75 L1581.24 953.32 L1580.51 944.89 L1579.62 936.46 L1578.57 928.03 L1577.37 919.61 L1576 911.21 L1574.48 902.82 L1572.8 894.46 L1570.96 886.12 L1568.97 877.82 L1566.83 869.56 L1564.53 861.34 L1562.08 853.18 L1559.48 845.06 L1556.73 837.01 L1553.84 829.01 L1550.8 821.09 L1547.62 813.24 L1544.3 805.46 L1540.84 797.77 L1537.25 790.16 L1533.51 782.65 L1529.65 775.23 L1525.66 767.91 L1521.53 760.7 L1517.28 753.59 L1512.91 746.6 L1508.42 739.72 L1503.81 732.97 L1499.09 726.34 L1494.26 719.84 L1489.31 713.48 L1484.26 707.25 L1479.11 701.16 L1473.85 695.22 L1468.5 689.42 L1463.06 683.78 L1457.52 678.29 L1451.9 672.96 L1446.19 667.79 L1440.41 662.78 L1434.54 657.94 L1428.61 653.27 L1422.6 648.78 L1416.53 644.46 L1410.39 640.32 L1404.2 636.36 L1397.95 632.58 L1391.65 628.99 L1385.3 625.58 L1378.9 622.37 L1372.47 619.34 L1366 616.51 L1359.5 613.88 L1352.96 611.44 L1346.41 609.19 L1339.83 607.15 M1601.95 977.91 L1601.86 969.54 L1601.6 961.15 L1601.17 952.75 L1600.56 944.34 L1599.78 935.94 L1598.83 927.53 L1597.71 919.14 L1596.42 910.76 L1594.95 902.4 L1593.32 894.06 L1591.52 885.76 L1589.55 877.48 L1587.42 869.25 L1585.12 861.06 L1582.66 852.92 L1580.03 844.83 L1577.25 836.8 L1574.31 828.84 L1571.21 820.94 L1567.95 813.12 L1564.54 805.37 L1560.98 797.71 L1557.28 790.13 L1553.42 782.65 L1549.42 775.26 L1545.28 767.97 L1541 760.78 L1536.58 753.7 L1532.03 746.74 L1527.35 739.89 L1522.53 733.17 L1517.59 726.57 L1512.53 720.1 L1507.35 713.76 L1502.05 707.56 L1496.64 701.5 L1491.12 695.58 L1485.49 689.81 L1479.75 684.19 L1473.92 678.73 L1467.99 673.43 L1461.96 668.28 L1455.85 663.3 L1449.64 658.49 L1443.36 653.85 L1437 649.37 L1430.56 645.08 L1424.05 640.96 L1417.48 637.02 L1410.84 633.27 L1404.14 629.7 L1397.39 626.32 L1390.58 623.12 L1383.73 620.12 L1376.84 617.31 L1369.9 614.7 L1362.93 612.28 L1355.93 610.06 L1348.91 608.03 L1341.86 606.21 M1616.79 968.34 L1616.7 959.97 L1616.42 951.59 L1615.97 943.2 L1615.33 934.81 L1614.51 926.43 L1613.51 918.06 L1612.33 909.7 L1610.97 901.37 L1609.44 893.06 L1607.72 884.77 L1605.83 876.53 L1603.76 868.32 L1601.52 860.15 L1599.1 852.04 L1596.51 843.98 L1593.75 835.98 L1590.83 828.04 L1587.73 820.18 L1584.48 812.38 L1581.05 804.67 L1577.47 797.03 L1573.73 789.49 L1569.83 782.03 L1565.78 774.67 L1561.58 767.41 L1557.23 760.26 L1552.73 753.21 L1548.08 746.28 L1543.3 739.47 L1538.37 732.78 L1533.32 726.21 L1528.12 719.77 L1522.8 713.47 L1517.36 707.3 L1511.79 701.28 L1506.1 695.39 L1500.29 689.66 L1494.38 684.08 L1488.35 678.65 L1482.22 673.38 L1475.98 668.27 L1469.65 663.32 L1463.22 658.54 L1456.7 653.93 L1450.1 649.5 L1443.41 645.24 L1436.65 641.15 L1429.8 637.25 L1422.89 633.53 L1415.92 630 L1408.87 626.65 L1401.78 623.49 L1394.62 620.52 L1387.42 617.74 L1380.18 615.16 L1372.89 612.77 L1365.56 610.58 L1358.2 608.59 L1350.82 606.8 L1343.41 605.21 M1626.81 958.37 L1626.72 950 L1626.44 941.62 L1625.97 933.25 L1625.31 924.89 L1624.46 916.53 L1623.43 908.19 L1622.21 899.88 L1620.81 891.58 L1619.22 883.32 L1617.45 875.1 L1615.49 866.91 L1613.36 858.77 L1611.04 850.68 L1608.54 842.64 L1605.87 834.67 L1603.02 826.76 L1600 818.92 L1596.8 811.15 L1593.44 803.46 L1589.91 795.86 L1586.21 788.34 L1582.34 780.92 L1578.32 773.59 L1574.13 766.36 L1569.79 759.24 L1565.29 752.23 L1560.65 745.33 L1555.85 738.55 L1550.91 731.9 L1545.82 725.36 L1540.6 718.96 L1535.24 712.7 L1529.74 706.57 L1524.12 700.58 L1518.36 694.73 L1512.49 689.04 L1506.49 683.49 L1500.38 678.1 L1494.16 672.87 L1487.82 667.8 L1481.38 662.89 L1474.84 658.16 L1468.2 653.59 L1461.47 649.19 L1454.65 644.97 L1447.74 640.93 L1440.75 637.07 L1433.69 633.39 L1426.55 629.89 L1419.34 626.58 L1412.07 623.46 L1404.74 620.54 L1397.35 617.8 L1389.92 615.26 L1382.43 612.91 L1374.9 610.77 L1367.34 608.82 L1359.74 607.06 L1352.11 605.51 L1344.46 604.17 M1631.87 948.15 L1631.77 939.78 L1631.48 931.42 L1631.01 923.06 L1630.34 914.72 L1629.48 906.39 L1628.43 898.09 L1627.19 889.81 L1625.77 881.56 L1624.15 873.35 L1622.35 865.18 L1620.36 857.06 L1618.19 848.99 L1615.84 840.97 L1613.3 833.02 L1610.59 825.13 L1607.69 817.31 L1604.62 809.57 L1601.38 801.91 L1597.96 794.33 L1594.37 786.84 L1590.61 779.44 L1586.68 772.14 L1582.59 764.95 L1578.34 757.85 L1573.93 750.87 L1569.36 744.01 L1564.64 737.26 L1559.77 730.64 L1554.75 724.14 L1549.58 717.77 L1544.27 711.54 L1538.82 705.45 L1533.24 699.49 L1527.52 693.69 L1521.68 688.03 L1515.71 682.52 L1509.62 677.17 L1503.41 671.98 L1497.08 666.95 L1490.65 662.09 L1484.1 657.39 L1477.46 652.86 L1470.71 648.51 L1463.87 644.33 L1456.94 640.33 L1449.93 636.51 L1442.83 632.88 L1435.65 629.43 L1428.39 626.16 L1421.07 623.09 L1413.68 620.21 L1406.23 617.52 L1398.73 615.02 L1391.17 612.72 L1383.57 610.62 L1375.92 608.71 L1368.23 607.01 L1360.51 605.5 L1352.76 604.2 L1344.99 603.1 M1620.36 847.13 L1618.19 839.13 L1615.84 831.19 L1613.3 823.32 L1610.59 815.52 L1607.69 807.79 L1604.62 800.15 L1601.38 792.59 L1597.96 785.12 L1594.37 777.75 L1590.61 770.47 L1586.68 763.3 L1582.59 756.23 L1578.34 749.28 L1573.93 742.44 L1569.36 735.72 L1564.64 729.12 L1559.77 722.66 L1554.75 716.32 L1549.58 710.12 L1544.27 704.06 L1538.82 698.14 L1533.24 692.37 L1527.52 686.74 L1521.68 681.27 L1515.71 675.96 L1509.62 670.8 L1503.41 665.81 L1497.08 660.99 L1490.65 656.33 L1484.1 651.84 L1477.46 647.53 L1470.71 643.39 L1463.87 639.43 L1456.94 635.66 L1449.93 632.06 L1442.83 628.66 L1435.65 625.44 L1428.39 622.41 L1421.07 619.57 L1413.68 616.92 L1406.23 614.47 L1398.73 612.22 L1391.17 610.16 L1383.57 608.3 L1375.92 606.64 L1368.23 605.18 L1360.51 603.93 L1352.76 602.87 L1344.99 602.02 M1555.85 714.74 L1550.91 708.56 L1545.82 702.53 L1540.6 696.64 L1535.24 690.89 L1529.74 685.3 L1524.12 679.85 L1518.36 674.57 L1512.49 669.45 L1506.49 664.49 L1500.38 659.69 L1494.16 655.07 L1487.82 650.62 L1481.38 646.34 L1474.84 642.24 L1468.2 638.31 L1461.47 634.57 L1454.65 631.02 L1447.74 627.65 L1440.75 624.47 L1433.69 621.48 L1426.55 618.68 L1419.34 616.07 L1412.07 613.66 L1404.74 611.45 L1397.35 609.43 L1389.92 607.62 L1382.43 606 L1374.9 604.59 L1367.34 603.37 L1359.74 602.36 L1352.11 601.56 L1344.46 600.95 M1494.38 653.72 L1488.35 649.29 L1482.22 645.04 L1475.98 640.96 L1469.65 637.07 L1463.22 633.36 L1456.7 629.83 L1450.1 626.49 L1443.41 623.34 L1436.65 620.38 L1429.8 617.61 L1422.89 615.04 L1415.92 612.66 L1408.87 610.48 L1401.78 608.5 L1394.62 606.72 L1387.42 605.14 L1380.18 603.76 L1372.89 602.58 L1365.56 601.61 L1358.2 600.84 L1350.82 600.27 L1343.41 599.91 M1449.64 625.28 L1443.36 622.14 L1437 619.2 L1430.56 616.46 L1424.05 613.9 L1417.48 611.55 L1410.84 609.39 L1404.14 607.43 L1397.39 605.67 L1390.58 604.11 L1383.73 602.76 L1376.84 601.6 L1369.9 600.66 L1362.93 599.91 L1355.93 599.37 L1348.91 599.04 L1341.86 598.91 M1416.53 610.41 L1410.39 608.25 L1404.2 606.3 L1397.95 604.55 L1391.65 603 L1385.3 601.65 L1378.9 600.51 L1372.47 599.57 L1366 598.84 L1359.5 598.31 L1352.96 597.99 L1346.41 597.88 L1339.83 597.97 M1396.09 603.45 L1390.39 601.89 L1384.64 600.54 L1378.84 599.39 L1373.01 598.44 L1367.14 597.7 L1361.23 597.17 L1355.3 596.84 L1349.34 596.72 L1343.36 596.8 L1337.35 597.1 M1376.48 598.32 L1371.33 597.34 L1366.15 596.57 L1360.93 596.01 L1355.68 595.66 L1350.41 595.51 L1345.12 595.57 L1339.8 595.84 L1334.47 596.31 M1362.87 595.55 L1358.42 594.94 L1353.94 594.53 L1349.44 594.34 L1344.91 594.35 L1340.37 594.56 L1335.8 594.99 L1331.22 595.63 M1349.96 593.57 L1346.29 593.29 L1342.6 593.23 L1338.88 593.37 L1335.16 593.72 L1331.42 594.28 L1327.66 595.05 M1340.89 592.48 L1338.08 592.31 L1335.26 592.35 L1332.43 592.59 L1329.58 593.05 L1326.72 593.72 L1323.85 594.59 M1329.46 591.59 L1327.55 591.71 L1325.64 592.03 L1323.71 592.56 L1321.78 593.31 L1319.84 594.26 M1320.55 591.16 L1319.59 591.32 L1318.62 591.69 L1317.65 592.27 L1316.68 593.06 L1315.71 594.06 M992.4 905.85 L992.59 908.7 L993.17 911.54 L994.14 914.37 L995.5 917.2 L997.24 920.01 L999.37 922.8 L1001.87 925.57 L1004.76 928.32 L1008.01 931.04 L1011.64 933.73 L1015.63 936.39 L1019.98 939.01 L1024.69 941.59 L1029.75 944.12 L1035.15 946.61 L1040.88 949.05 L1046.95 951.43 L1053.34 953.77 L1060.04 956.04 L1067.05 958.25 L1074.36 960.4 L1081.96 962.48 L1089.83 964.49 L1097.98 966.43 L1106.38 968.3 L1115.04 970.09 L1123.94 971.8 L1133.06 973.43 L1142.4 974.98 L1151.95 976.45 L1161.69 977.83 L1171.61 979.12 L1181.71 980.32 L1191.96 981.43 L1202.36 982.45 L1212.89 983.38 L1223.54 984.21 L1234.3 984.95 L1245.15 985.59 L1256.09 986.13 L1267.09 986.57 L1278.14 986.92 L1289.24 987.17 L1300.36 987.32 L1311.5 987.37 L1322.64 987.32 L1333.76 987.17 L1344.86 986.92 L1355.91 986.57 L1366.91 986.13 L1377.85 985.59 L1388.7 984.95 L1399.46 984.21 L1410.11 983.38 L1420.64 982.45 L1431.04 981.43 L1441.29 980.32 L1451.39 979.12 L1461.31 977.83 L1471.05 976.45 L1480.6 974.98 L1489.94 973.43 L1499.06 971.8 L1507.96 970.09 L1516.62 968.3 L1525.02 966.43 L1533.17 964.49 L1541.04 962.48 L1548.64 960.4 L1555.95 958.25 L1562.96 956.04 L1569.66 953.77 L1576.05 951.43 L1582.12 949.05 L1587.85 946.61 L1593.25 944.12 L1598.31 941.59 L1603.02 939.01 L1607.37 936.39 L1611.36 933.73 L1614.99 931.04 L1618.24 928.32 L1621.13 925.57 L1623.63 922.8 L1625.76 920.01 L1627.5 917.2 L1628.86 914.37 L1629.83 911.54 L1630.41 908.7 L1630.6 905.85 M998.25 866.35 L998.06 869.14 L998.25 871.94 L998.82 874.73 L999.78 877.51 L1001.11 880.29 L1002.82 883.05 L1004.91 885.79 L1007.37 888.51 L1010.2 891.21 L1013.4 893.89 L1016.96 896.53 L1020.88 899.14 L1025.16 901.71 L1029.78 904.24 L1034.75 906.73 L1040.05 909.18 L1045.69 911.57 L1051.65 913.92 L1057.92 916.21 L1064.51 918.44 L1071.39 920.61 L1078.57 922.72 L1086.03 924.76 L1093.77 926.74 L1101.77 928.65 L1110.03 930.48 L1118.53 932.24 L1127.26 933.92 L1136.23 935.52 L1145.4 937.04 L1154.78 938.48 L1164.35 939.84 L1174.1 941.11 L1184.01 942.29 L1194.08 943.38 L1204.3 944.38 L1214.64 945.29 L1225.1 946.11 L1235.67 946.83 L1246.33 947.46 L1257.07 947.99 L1267.88 948.43 L1278.74 948.77 L1289.64 949.02 L1300.56 949.16 L1311.5 949.21 L1322.44 949.16 L1333.36 949.02 L1344.26 948.77 L1355.12 948.43 L1365.93 947.99 L1376.67 947.46 L1387.33 946.83 L1397.9 946.11 L1408.36 945.29 L1418.7 944.38 L1428.92 943.38 L1438.99 942.29 L1448.9 941.11 L1458.65 939.84 L1468.22 938.48 L1477.6 937.04 L1486.77 935.52 L1495.74 933.92 L1504.47 932.24 L1512.97 930.48 L1521.23 928.65 L1529.23 926.74 L1536.97 924.76 L1544.43 922.72 L1551.61 920.61 L1558.49 918.44 L1565.08 916.21 L1571.35 913.92 L1577.31 911.57 L1582.95 909.18 L1588.25 906.73 L1593.22 904.24 L1597.84 901.71 L1602.12 899.14 L1606.04 896.53 L1609.6 893.89 L1612.8 891.21 L1615.63 888.51 L1618.09 885.79 L1620.18 883.05 L1621.89 880.29 L1623.22 877.51 L1624.18 874.73 L1624.75 871.94 L1624.94 869.14 L1624.75 866.35 M1008.17 827.89 L1007.61 830.59 L1007.43 833.31 L1007.61 836.02 L1008.17 838.72 L1009.09 841.43 L1010.39 844.12 L1012.05 846.79 L1014.07 849.46 L1016.46 852.1 L1019.21 854.72 L1022.31 857.31 L1025.77 859.87 L1029.57 862.4 L1033.72 864.9 L1038.2 867.36 L1043.02 869.77 L1048.17 872.14 L1053.63 874.47 L1059.41 876.74 L1065.5 878.96 L1071.89 881.13 L1078.57 883.23 L1085.53 885.28 L1092.77 887.26 L1100.27 889.18 L1108.04 891.03 L1116.05 892.81 L1124.29 894.52 L1132.77 896.15 L1141.46 897.7 L1150.37 899.18 L1159.46 900.57 L1168.75 901.89 L1178.2 903.12 L1187.82 904.27 L1197.59 905.33 L1207.5 906.3 L1217.54 907.18 L1227.69 907.97 L1237.94 908.67 L1248.28 909.28 L1258.7 909.8 L1269.18 910.23 L1279.72 910.56 L1290.29 910.79 L1300.89 910.93 L1311.5 910.98 L1322.11 910.93 L1332.71 910.79 L1343.28 910.56 L1353.82 910.23 L1364.3 909.8 L1374.72 909.28 L1385.06 908.67 L1395.31 907.97 L1405.46 907.18 L1415.5 906.3 L1425.41 905.33 L1435.18 904.27 L1444.8 903.12 L1454.25 901.89 L1463.54 900.57 L1472.63 899.18 L1481.54 897.7 L1490.23 896.15 L1498.71 894.52 L1506.95 892.81 L1514.96 891.03 L1522.73 889.18 L1530.23 887.26 L1537.47 885.28 L1544.43 883.23 L1551.11 881.13 L1557.5 878.96 L1563.59 876.74 L1569.37 874.47 L1574.83 872.14 L1579.98 869.77 L1584.8 867.36 L1589.28 864.9 L1593.43 862.4 L1597.23 859.87 L1600.69 857.31 L1603.79 854.72 L1606.54 852.1 L1608.93 849.46 L1610.95 846.79 L1612.61 844.12 L1613.91 841.43 L1614.83 838.72 L1615.39 836.02 L1615.57 833.31 L1615.39 830.59 L1614.83 827.89 M1021.98 790.99 L1021.1 793.58 L1020.56 796.17 L1020.39 798.76 L1020.56 801.36 L1021.1 803.95 L1021.98 806.54 L1023.22 809.11 L1024.81 811.68 L1026.75 814.23 L1029.03 816.76 L1031.66 819.26 L1034.63 821.74 L1037.94 824.2 L1041.58 826.62 L1045.55 829.01 L1049.85 831.36 L1054.46 833.68 L1059.39 835.95 L1064.62 838.17 L1070.16 840.35 L1075.98 842.48 L1082.1 844.55 L1088.49 846.57 L1095.16 848.52 L1102.09 850.42 L1109.28 852.26 L1116.71 854.03 L1124.38 855.73 L1132.27 857.37 L1140.39 858.93 L1148.71 860.42 L1157.23 861.83 L1165.94 863.17 L1174.83 864.43 L1183.88 865.6 L1193.09 866.7 L1202.45 867.72 L1211.93 868.65 L1221.54 869.49 L1231.26 870.25 L1241.07 870.92 L1250.97 871.5 L1260.95 872 L1270.98 872.41 L1281.07 872.72 L1291.19 872.95 L1301.34 873.08 L1311.5 873.13 L1321.66 873.08 L1331.81 872.95 L1341.93 872.72 L1352.02 872.41 L1362.05 872 L1372.03 871.5 L1381.93 870.92 L1391.74 870.25 L1401.46 869.49 L1411.07 868.65 L1420.55 867.72 L1429.91 866.7 L1439.12 865.6 L1448.17 864.43 L1457.06 863.17 L1465.77 861.83 L1474.29 860.42 L1482.61 858.93 L1490.73 857.37 L1498.62 855.73 L1506.29 854.03 L1513.72 852.26 L1520.91 850.42 L1527.84 848.52 L1534.51 846.57 L1540.9 844.55 L1547.02 842.48 L1552.84 840.35 L1558.38 838.17 L1563.61 835.95 L1568.54 833.68 L1573.15 831.36 L1577.45 829.01 L1581.42 826.62 L1585.06 824.2 L1588.37 821.74 L1591.34 819.26 L1593.97 816.76 L1596.25 814.23 L1598.19 811.68 L1599.78 809.11 L1601.02 806.54 L1601.9 803.95 L1602.44 801.36 L1602.61 798.76 L1602.44 796.17 L1601.9 793.58 L1601.02 790.99 M1039.46 756.16 L1038.29 758.59 L1037.45 761.03 L1036.95 763.48 L1036.78 765.93 L1036.95 768.38 L1037.45 770.82 L1038.29 773.26 L1039.46 775.69 L1040.96 778.11 L1042.79 780.52 L1044.94 782.9 L1047.43 785.27 L1050.23 787.61 L1053.35 789.93 L1056.79 792.22 L1060.53 794.47 L1064.59 796.69 L1068.94 798.87 L1073.59 801.02 L1078.53 803.11 L1083.75 805.17 L1089.25 807.18 L1095.02 809.13 L1101.05 811.04 L1107.35 812.88 L1113.89 814.68 L1120.67 816.41 L1127.68 818.08 L1134.92 819.69 L1142.37 821.23 L1150.03 822.7 L1157.88 824.11 L1165.92 825.44 L1174.14 826.7 L1182.53 827.89 L1191.07 829 L1199.76 830.04 L1208.59 830.99 L1217.54 831.87 L1226.61 832.67 L1235.78 833.39 L1245.04 834.02 L1254.38 834.57 L1263.8 835.04 L1273.27 835.42 L1282.78 835.72 L1292.34 835.93 L1301.91 836.06 L1311.5 836.1 L1321.09 836.06 L1330.66 835.93 L1340.22 835.72 L1349.73 835.42 L1359.2 835.04 L1368.62 834.57 L1377.96 834.02 L1387.22 833.39 L1396.39 832.67 L1405.46 831.87 L1414.41 830.99 L1423.24 830.04 L1431.93 829 L1440.47 827.89 L1448.86 826.7 L1457.08 825.44 L1465.12 824.11 L1472.97 822.7 L1480.63 821.23 L1488.08 819.69 L1495.32 818.08 L1502.33 816.41 L1509.11 814.68 L1515.65 812.88 L1521.95 811.04 L1527.98 809.13 L1533.75 807.18 L1539.25 805.17 L1544.47 803.11 L1549.41 801.02 L1554.06 798.87 L1558.41 796.69 L1562.47 794.47 L1566.21 792.22 L1569.65 789.93 L1572.77 787.61 L1575.57 785.27 L1578.06 782.9 L1580.21 780.52 L1582.04 778.11 L1583.54 775.69 L1584.71 773.26 L1585.55 770.82 L1586.05 768.38 L1586.22 765.93 L1586.05 763.48 L1585.55 761.03 L1584.71 758.59 L1583.54 756.16 M1060.3 723.87 L1058.91 726.11 L1057.82 728.37 L1057.05 730.64 L1056.58 732.91 L1056.42 735.18 L1056.58 737.45 L1057.05 739.73 L1057.82 741.99 L1058.91 744.25 L1060.3 746.5 L1062 748.73 L1064 750.94 L1066.31 753.14 L1068.91 755.32 L1071.81 757.47 L1075 759.59 L1078.48 761.68 L1082.24 763.74 L1086.28 765.77 L1090.6 767.76 L1095.18 769.71 L1100.03 771.62 L1105.14 773.48 L1110.5 775.3 L1116.1 777.06 L1121.94 778.78 L1128.01 780.44 L1134.31 782.05 L1140.82 783.6 L1147.54 785.1 L1154.46 786.53 L1161.57 787.9 L1168.86 789.2 L1176.33 790.44 L1183.96 791.61 L1191.75 792.71 L1199.68 793.75 L1207.75 794.71 L1215.95 795.6 L1224.26 796.41 L1232.68 797.15 L1241.19 797.82 L1249.79 798.4 L1258.47 798.92 L1267.21 799.35 L1276 799.71 L1284.84 799.98 L1293.71 800.18 L1302.6 800.3 L1311.5 800.34 L1320.4 800.3 L1329.29 800.18 L1338.16 799.98 L1347 799.71 L1355.79 799.35 L1364.53 798.92 L1373.21 798.4 L1381.81 797.82 L1390.32 797.15 L1398.74 796.41 L1407.05 795.6 L1415.25 794.71 L1423.32 793.75 L1431.25 792.71 L1439.04 791.61 L1446.67 790.44 L1454.14 789.2 L1461.43 787.9 L1468.54 786.53 L1475.46 785.1 L1482.18 783.6 L1488.69 782.05 L1494.99 780.44 L1501.06 778.78 L1506.9 777.06 L1512.5 775.3 L1517.86 773.48 L1522.97 771.62 L1527.82 769.71 L1532.4 767.76 L1536.72 765.77 L1540.76 763.74 L1544.52 761.68 L1548 759.59 L1551.19 757.47 L1554.09 755.32 L1556.69 753.14 L1559 750.94 L1561 748.73 L1562.7 746.5 L1564.09 744.25 L1565.18 741.99 L1565.95 739.73 L1566.42 737.45 L1566.58 735.18 L1566.42 732.91 L1565.95 730.64 L1565.18 728.37 L1564.09 726.11 L1562.7 723.87 M1084.16 694.55 L1082.61 696.58 L1081.34 698.63 L1080.35 700.68 L1079.65 702.75 L1079.22 704.82 L1079.08 706.89 L1079.22 708.96 L1079.65 711.03 L1080.35 713.1 L1081.34 715.15 L1082.61 717.2 L1084.16 719.23 L1085.98 721.25 L1088.08 723.25 L1090.45 725.24 L1093.1 727.2 L1096 729.13 L1099.17 731.04 L1102.6 732.92 L1106.28 734.76 L1110.22 736.58 L1114.4 738.35 L1118.81 740.09 L1123.47 741.79 L1128.35 743.44 L1133.46 745.05 L1138.78 746.62 L1144.31 748.13 L1150.05 749.6 L1155.98 751.01 L1162.1 752.37 L1168.41 753.68 L1174.89 754.92 L1181.53 756.11 L1188.34 757.24 L1195.29 758.31 L1202.39 759.31 L1209.61 760.25 L1216.97 761.13 L1224.43 761.94 L1232.01 762.68 L1239.68 763.36 L1247.44 763.96 L1255.27 764.5 L1263.18 764.96 L1271.14 765.36 L1279.15 765.68 L1287.21 765.94 L1295.29 766.12 L1303.39 766.23 L1311.5 766.26 L1319.61 766.23 L1327.71 766.12 L1335.79 765.94 L1343.85 765.68 L1351.86 765.36 L1359.82 764.96 L1367.73 764.5 L1375.56 763.96 L1383.32 763.36 L1390.99 762.68 L1398.57 761.94 L1406.03 761.13 L1413.39 760.25 L1420.61 759.31 L1427.71 758.31 L1434.66 757.24 L1441.47 756.11 L1448.11 754.92 L1454.59 753.68 L1460.9 752.37 L1467.02 751.01 L1472.95 749.6 L1478.69 748.13 L1484.22 746.62 L1489.54 745.05 L1494.65 743.44 L1499.53 741.79 L1504.19 740.09 L1508.6 738.35 L1512.78 736.58 L1516.72 734.76 L1520.4 732.92 L1523.83 731.04 L1527 729.13 L1529.9 727.2 L1532.55 725.24 L1534.92 723.25 L1537.02 721.25 L1538.84 719.23 L1540.39 717.2 L1541.66 715.15 L1542.65 713.1 L1543.35 711.03 L1543.78 708.96 L1543.92 706.89 L1543.78 704.82 L1543.35 702.75 L1542.65 700.68 L1541.66 698.63 L1540.39 696.58 L1538.84 694.55 M1112.5 666.81 L1110.63 668.59 L1109 670.39 L1107.62 672.2 L1106.49 674.03 L1105.61 675.86 L1104.98 677.7 L1104.61 679.54 L1104.48 681.39 L1104.61 683.23 L1104.98 685.08 L1105.61 686.91 L1106.49 688.75 L1107.62 690.57 L1109 692.38 L1110.63 694.18 L1112.5 695.96 L1114.61 697.73 L1116.96 699.47 L1119.55 701.2 L1122.38 702.9 L1125.43 704.57 L1128.71 706.21 L1132.21 707.83 L1135.94 709.41 L1139.87 710.96 L1144.02 712.47 L1148.37 713.94 L1152.91 715.38 L1157.65 716.77 L1162.58 718.12 L1167.69 719.43 L1172.98 720.69 L1178.43 721.9 L1184.05 723.06 L1189.82 724.17 L1195.74 725.23 L1201.8 726.23 L1207.99 727.19 L1214.31 728.08 L1220.75 728.92 L1227.3 729.7 L1233.95 730.42 L1240.69 731.08 L1247.53 731.68 L1254.44 732.22 L1261.42 732.7 L1268.46 733.11 L1275.55 733.47 L1282.69 733.76 L1289.86 733.98 L1297.06 734.14 L1304.28 734.24 L1311.5 734.27 L1318.72 734.24 L1325.94 734.14 L1333.14 733.98 L1340.31 733.76 L1347.45 733.47 L1354.54 733.11 L1361.58 732.7 L1368.56 732.22 L1375.47 731.68 L1382.31 731.08 L1389.05 730.42 L1395.7 729.7 L1402.25 728.92 L1408.69 728.08 L1415.01 727.19 L1421.2 726.23 L1427.26 725.23 L1433.18 724.17 L1438.95 723.06 L1444.57 721.9 L1450.02 720.69 L1455.31 719.43 L1460.42 718.12 L1465.35 716.77 L1470.09 715.38 L1474.63 713.94 L1478.98 712.47 L1483.13 710.96 L1487.06 709.41 L1490.79 707.83 L1494.29 706.21 L1497.57 704.57 L1500.62 702.9 L1503.45 701.2 L1506.04 699.47 L1508.39 697.73 L1510.5 695.96 L1512.37 694.18 L1514 692.38 L1515.38 690.57 L1516.51 688.75 L1517.39 686.91 L1518.02 685.08 L1518.39 683.23 L1518.52 681.39 L1518.39 679.54 L1518.02 677.7 L1517.39 675.86 L1516.51 674.03 L1515.38 672.2 L1514 670.39 L1512.37 668.59 L1510.5 666.81 M1143.13 643.32 L1141.09 644.83 L1139.27 646.36 L1137.65 647.9 L1136.24 649.46 L1135.05 651.03 L1134.07 652.6 L1133.31 654.19 L1132.76 655.78 L1132.43 657.38 L1132.32 658.97 L1132.43 660.57 L1132.76 662.17 L1133.31 663.76 L1134.07 665.34 L1135.05 666.92 L1136.24 668.49 L1137.65 670.05 L1139.27 671.59 L1141.09 673.12 L1143.13 674.63 L1145.37 676.12 L1147.81 677.59 L1150.46 679.04 L1153.3 680.46 L1156.33 681.86 L1159.55 683.23 L1162.96 684.57 L1166.54 685.88 L1170.31 687.15 L1174.24 688.39 L1178.35 689.6 L1182.61 690.77 L1187.03 691.9 L1191.61 692.99 L1196.33 694.04 L1201.19 695.04 L1206.18 696 L1211.31 696.92 L1216.55 697.79 L1221.91 698.61 L1227.38 699.39 L1232.95 700.11 L1238.62 700.79 L1244.38 701.41 L1250.22 701.98 L1256.13 702.5 L1262.11 702.97 L1268.15 703.38 L1274.25 703.74 L1280.39 704.05 L1286.56 704.3 L1292.77 704.49 L1299 704.63 L1305.25 704.72 L1311.5 704.74 L1317.75 704.72 L1324 704.63 L1330.23 704.49 L1336.44 704.3 L1342.61 704.05 L1348.75 703.74 L1354.85 703.38 L1360.89 702.97 L1366.87 702.5 L1372.78 701.98 L1378.62 701.41 L1384.38 700.79 L1390.05 700.11 L1395.62 699.39 L1401.09 698.61 L1406.45 697.79 L1411.69 696.92 L1416.82 696 L1421.81 695.04 L1426.67 694.04 L1431.39 692.99 L1435.97 691.9 L1440.39 690.77 L1444.65 689.6 L1448.76 688.39 L1452.69 687.15 L1456.46 685.88 L1460.04 684.57 L1463.45 683.23 L1466.67 681.86 L1469.7 680.46 L1472.54 679.04 L1475.19 677.59 L1477.63 676.12 L1479.87 674.63 L1481.91 673.12 L1483.73 671.59 L1485.35 670.05 L1486.76 668.49 L1487.95 666.92 L1488.93 665.34 L1489.69 663.76 L1490.24 662.17 L1490.57 660.57 L1490.68 658.97 L1490.57 657.38 L1490.24 655.78 L1489.69 654.19 L1488.93 652.6 L1487.95 651.03 L1486.76 649.46 L1485.35 647.9 L1483.73 646.36 L1481.91 644.83 L1479.87 643.32 M1177.39 623.21 L1175.19 624.41 L1173.15 625.64 L1171.28 626.88 L1169.59 628.14 L1168.07 629.41 L1166.72 630.69 L1165.55 631.99 L1164.55 633.3 L1163.74 634.61 L1163.1 635.93 L1162.65 637.26 L1162.38 638.59 L1162.29 639.92 L1162.38 641.25 L1162.65 642.57 L1163.1 643.9 L1163.74 645.22 L1164.55 646.53 L1165.55 647.84 L1166.72 649.14 L1168.07 650.42 L1169.59 651.69 L1171.28 652.95 L1173.15 654.19 L1175.19 655.42 L1177.39 656.63 L1179.75 657.81 L1182.28 658.97 L1184.96 660.11 L1187.8 661.23 L1190.78 662.32 L1193.92 663.38 L1197.2 664.42 L1200.61 665.42 L1204.16 666.39 L1207.85 667.34 L1211.66 668.24 L1215.59 669.12 L1219.63 669.95 L1223.79 670.75 L1228.06 671.52 L1232.43 672.24 L1236.89 672.93 L1241.45 673.57 L1246.09 674.18 L1250.81 674.74 L1255.6 675.26 L1260.47 675.73 L1265.39 676.17 L1270.37 676.56 L1275.4 676.9 L1280.48 677.2 L1285.59 677.45 L1290.73 677.66 L1295.9 677.82 L1301.09 677.94 L1306.29 678.01 L1311.5 678.03 L1316.71 678.01 L1321.91 677.94 L1327.1 677.82 L1332.27 677.66 L1337.41 677.45 L1342.52 677.2 L1347.6 676.9 L1352.63 676.56 L1357.61 676.17 L1362.53 675.73 L1367.4 675.26 L1372.19 674.74 L1376.91 674.18 L1381.55 673.57 L1386.11 672.93 L1390.57 672.24 L1394.94 671.52 L1399.21 670.75 L1403.37 669.95 L1407.41 669.12 L1411.34 668.24 L1415.15 667.34 L1418.84 666.39 L1422.39 665.42 L1425.8 664.42 L1429.08 663.38 L1432.22 662.32 L1435.2 661.23 L1438.04 660.11 L1440.72 658.97 L1443.25 657.81 L1445.61 656.63 L1447.81 655.42 L1449.85 654.19 L1451.72 652.95 L1453.41 651.69 L1454.93 650.42 L1456.28 649.14 L1457.45 647.84 L1458.45 646.53 L1459.26 645.22 L1459.9 643.9 L1460.35 642.57 L1460.62 641.25 L1460.71 639.92 L1460.62 638.59 L1460.35 637.26 L1459.9 635.93 L1459.26 634.61 L1458.45 633.3 L1457.45 631.99 L1456.28 630.69 L1454.93 629.41 L1453.41 628.14 L1451.72 626.88 L1449.85 625.64 L1447.81 624.41 L1445.61 623.21 M1216.45 606.8 L1214.1 607.65 L1211.86 608.53 L1209.75 609.43 L1207.76 610.35 L1205.9 611.28 L1204.17 612.23 L1202.56 613.19 L1201.1 614.17 L1199.76 615.16 L1198.56 616.17 L1197.5 617.18 L1196.58 618.2 L1195.79 619.23 L1195.15 620.26 L1194.65 621.3 L1194.3 622.34 L1194.08 623.39 L1194.01 624.44 L1194.08 625.49 L1194.3 626.53 L1194.65 627.58 L1195.15 628.61 L1195.79 629.65 L1196.58 630.68 L1197.5 631.7 L1198.56 632.71 L1199.76 633.71 L1201.1 634.7 L1202.56 635.68 L1204.17 636.65 L1205.9 637.59 L1207.76 638.53 L1209.75 639.44 L1211.86 640.34 L1214.1 641.22 L1216.45 642.08 L1218.92 642.92 L1221.5 643.73 L1224.19 644.52 L1226.98 645.29 L1229.88 646.03 L1232.88 646.74 L1235.98 647.43 L1239.17 648.09 L1242.44 648.72 L1245.8 649.32 L1249.24 649.89 L1252.75 650.43 L1256.34 650.94 L1260 651.41 L1263.71 651.86 L1267.49 652.27 L1271.32 652.64 L1275.19 652.98 L1279.12 653.29 L1283.08 653.56 L1287.07 653.8 L1291.1 654 L1295.15 654.16 L1299.22 654.29 L1303.3 654.38 L1307.4 654.43 L1311.5 654.45 L1315.6 654.43 L1319.7 654.38 L1323.78 654.29 L1327.85 654.16 L1331.9 654 L1335.93 653.8 L1339.92 653.56 L1343.88 653.29 L1347.81 652.98 L1351.68 652.64 L1355.51 652.27 L1359.29 651.86 L1363 651.41 L1366.66 650.94 L1370.25 650.43 L1373.76 649.89 L1377.2 649.32 L1380.56 648.72 L1383.83 648.09 L1387.02 647.43 L1390.12 646.74 L1393.12 646.03 L1396.02 645.29 L1398.81 644.52 L1401.5 643.73 L1404.08 642.92 L1406.55 642.08 L1408.9 641.22 L1411.14 640.34 L1413.25 639.44 L1415.24 638.53 L1417.1 637.59 L1418.83 636.65 L1420.44 635.68 L1421.9 634.7 L1423.24 633.71 L1424.44 632.71 L1425.5 631.7 L1426.42 630.68 L1427.21 629.65 L1427.85 628.61 L1428.35 627.58 L1428.7 626.53 L1428.92 625.49 L1428.99 624.44 L1428.92 623.39 L1428.7 622.34 L1428.35 621.3 L1427.85 620.26 L1427.21 619.23 L1426.42 618.2 L1425.5 617.18 L1424.44 616.17 L1423.24 615.16 L1421.9 614.17 L1420.44 613.19 L1418.83 612.23 L1417.1 611.28 L1415.24 610.35 L1413.25 609.43 L1411.14 608.53 L1408.9 607.65 L1406.55 606.8 M1269.31 594.06 L1266.79 594.44 L1264.32 594.85 L1261.9 595.28 L1259.55 595.74 L1257.26 596.21 L1255.04 596.7 L1252.89 597.22 L1250.8 597.75 L1248.79 598.3 L1246.86 598.87 L1245.01 599.45 L1243.24 600.05 L1241.55 600.67 L1239.94 601.3 L1238.43 601.95 L1237 602.6 L1235.66 603.27 L1234.42 603.96 L1233.27 604.65 L1232.21 605.35 L1231.25 606.06 L1230.39 606.78 L1229.63 607.51 L1228.96 608.24 L1228.4 608.98 L1227.94 609.72 L1227.58 610.47 L1227.33 611.22 L1227.17 611.97 L1227.12 612.72 L1227.17 613.47 L1227.33 614.23 L1227.58 614.98 L1227.94 615.72 L1228.4 616.47 L1228.96 617.2 L1229.63 617.94 L1230.39 618.66 L1231.25 619.38 L1232.21 620.09 L1233.27 620.8 L1234.42 621.49 L1235.66 622.17 L1237 622.84 L1238.43 623.5 L1239.94 624.14 L1241.55 624.78 L1243.24 625.39 L1245.01 625.99 L1246.86 626.58 L1248.79 627.15 L1250.8 627.7 L1252.89 628.23 L1255.04 628.74 L1257.26 629.23 L1259.55 629.71 L1261.9 630.16 L1264.32 630.59 L1266.79 631 L1269.31 631.39 L1271.89 631.75 L1274.51 632.1 L1277.18 632.41 L1279.89 632.71 L1282.64 632.98 L1285.43 633.22 L1288.24 633.44 L1291.09 633.64 L1293.96 633.81 L1296.85 633.95 L1299.76 634.07 L1302.68 634.16 L1305.61 634.22 L1308.56 634.26 L1311.5 634.28 L1314.44 634.26 L1317.39 634.22 L1320.32 634.16 L1323.24 634.07 L1326.15 633.95 L1329.04 633.81 L1331.91 633.64 L1334.76 633.44 L1337.57 633.22 L1340.36 632.98 L1343.11 632.71 L1345.82 632.41 L1348.49 632.1 L1351.11 631.75 L1353.69 631.39 L1356.21 631 L1358.68 630.59 L1361.1 630.16 L1363.45 629.71 L1365.74 629.23 L1367.96 628.74 L1370.11 628.23 L1372.2 627.7 L1374.21 627.15 L1376.14 626.58 L1377.99 625.99 L1379.76 625.39 L1381.45 624.78 L1383.06 624.14 L1384.57 623.5 L1386 622.84 L1387.34 622.17 L1388.58 621.49 L1389.73 620.8 L1390.79 620.09 L1391.75 619.38 L1392.61 618.66 L1393.37 617.94 L1394.04 617.2 L1394.6 616.47 L1395.06 615.72 L1395.42 614.98 L1395.67 614.23 L1395.83 613.47 L1395.88 612.72 L1395.83 611.97 L1395.67 611.22 L1395.42 610.47 L1395.06 609.72 L1394.6 608.98 L1394.04 608.24 L1393.37 607.51 L1392.61 606.78 L1391.75 606.06 L1390.79 605.35 L1389.73 604.65 L1388.58 603.96 L1387.34 603.27 L1386 602.6 L1384.57 601.95 L1383.06 601.3 L1381.45 600.67 L1379.76 600.05 L1377.99 599.45 L1376.14 598.87 L1374.21 598.3 L1372.2 597.75 L1370.11 597.22 L1367.96 596.7 L1365.74 596.21 L1363.45 595.74 L1361.1 595.28 L1358.68 594.85 L1356.21 594.44 L1353.69 594.06 M1311.5 592.07 L1309.75 592.07 L1307.99 592.1 L1306.25 592.14 L1304.5 592.19 L1302.77 592.26 L1301.05 592.35 L1299.34 592.45 L1297.64 592.56 L1295.97 592.69 L1294.31 592.84 L1292.67 593 L1291.05 593.18 L1289.46 593.37 L1287.9 593.57 L1286.36 593.79 L1284.86 594.02 L1283.39 594.26 L1281.95 594.52 L1280.55 594.79 L1279.19 595.07 L1277.86 595.36 L1276.58 595.67 L1275.34 595.99 L1274.14 596.32 L1272.99 596.65 L1271.89 597 L1270.83 597.36 L1269.82 597.73 L1268.87 598.1 L1267.96 598.49 L1267.11 598.88 L1266.32 599.28 L1265.58 599.68 L1264.89 600.1 L1264.26 600.52 L1263.69 600.94 L1263.18 601.37 L1262.72 601.8 L1262.33 602.24 L1261.99 602.68 L1261.72 603.12 L1261.5 603.57 L1261.35 604.01 L1261.26 604.46 L1261.23 604.91 L1261.26 605.36 L1261.35 605.8 L1261.5 606.25 L1261.72 606.7 L1261.99 607.14 L1262.33 607.58 L1262.72 608.01 L1263.18 608.45 L1263.69 608.88 L1264.26 609.3 L1264.89 609.72 L1265.58 610.13 L1266.32 610.54 L1267.11 610.94 L1267.96 611.33 L1268.87 611.71 L1269.82 612.09 L1270.83 612.46 L1271.89 612.81 L1272.99 613.16 L1274.14 613.5 L1275.34 613.83 L1276.58 614.15 L1277.86 614.45 L1279.19 614.75 L1280.55 615.03 L1281.95 615.3 L1283.39 615.55 L1284.86 615.8 L1286.36 616.03 L1287.9 616.25 L1289.46 616.45 L1291.05 616.64 L1292.67 616.81 L1294.31 616.98 L1295.97 617.12 L1297.64 617.25 L1299.34 617.37 L1301.05 617.47 L1302.77 617.55 L1304.5 617.62 L1306.25 617.68 L1307.99 617.72 L1309.75 617.74 L1311.5 617.75 L1313.25 617.74 L1315.01 617.72 L1316.75 617.68 L1318.5 617.62 L1320.23 617.55 L1321.95 617.47 L1323.66 617.37 L1325.36 617.25 L1327.03 617.12 L1328.69 616.98 L1330.33 616.81 L1331.95 616.64 L1333.54 616.45 L1335.1 616.25 L1336.64 616.03 L1338.14 615.8 L1339.61 615.55 L1341.05 615.3 L1342.45 615.03 L1343.81 614.75 L1345.14 614.45 L1346.42 614.15 L1347.66 613.83 L1348.86 613.5 L1350.01 613.16 L1351.11 612.81 L1352.17 612.46 L1353.18 612.09 L1354.13 611.71 L1355.04 611.33 L1355.89 610.94 L1356.68 610.54 L1357.42 610.13 L1358.11 609.72 L1358.74 609.3 L1359.31 608.88 L1359.82 608.45 L1360.28 608.01 L1360.67 607.58 L1361.01 607.14 L1361.28 606.7 L1361.5 606.25 L1361.65 605.8 L1361.74 605.36 L1361.77 604.91 L1361.74 604.46 L1361.65 604.01 L1361.5 603.57 L1361.28 603.12 L1361.01 602.68 L1360.67 602.24 L1360.28 601.8 L1359.82 601.37 L1359.31 600.94 L1358.74 600.52 L1358.11 600.1 L1357.42 599.68 L1356.68 599.28 L1355.89 598.88 L1355.04 598.49 L1354.13 598.1 L1353.18 597.73 L1352.17 597.36 L1351.11 597 L1350.01 596.65 L1348.86 596.32 L1347.66 595.99 L1346.42 595.67 L1345.14 595.36 L1343.81 595.07 L1342.45 594.79 L1341.05 594.52 L1339.61 594.26 L1338.14 594.02 L1336.64 593.79 L1335.1 593.57 L1333.54 593.37 L1331.95 593.18 L1330.33 593 L1328.69 592.84 L1327.03 592.69 L1325.36 592.56 L1323.66 592.45 L1321.95 592.35 L1320.23 592.26 L1318.5 592.19 L1316.75 592.14 L1315.01 592.1 L1313.25 592.07 L1311.5 592.07 " fill="none" stroke="#8e8883" stroke-opacity="0.62" stroke-width="1.35" clip-path="url(#domeclip)"/>
<defs><linearGradient id="bg0" gradientUnits="userSpaceOnUse" x1="1271.27" y1="0" x2="1351.73" y2="0"><stop offset="0" stop-color="#2a1715"/><stop offset="0.1" stop-color="#311716"/><stop offset="0.19" stop-color="#3e1817"/><stop offset="0.26" stop-color="#4e1919"/><stop offset="0.32" stop-color="#5f1a1b"/><stop offset="0.37" stop-color="#6d1a1c"/><stop offset="0.41" stop-color="#771b1d"/><stop offset="0.46" stop-color="#7e1b1e"/><stop offset="0.5" stop-color="#801b1e"/><stop offset="0.54" stop-color="#7e1b1e"/><stop offset="0.58" stop-color="#771b1d"/><stop offset="0.63" stop-color="#6d1a1c"/><stop offset="0.68" stop-color="#5f1a1b"/><stop offset="0.74" stop-color="#4e1919"/><stop offset="0.81" stop-color="#3e1817"/><stop offset="0.9" stop-color="#311716"/><stop offset="1" stop-color="#2a1715"/></linearGradient><linearGradient id="bg1" gradientUnits="userSpaceOnUse" x1="1271.32" y1="0" x2="1351.68" y2="0"><stop offset="0" stop-color="#2a1715"/><stop offset="0.1" stop-color="#2f1716"/><stop offset="0.19" stop-color="#3b1817"/><stop offset="0.26" stop-color="#4b1919"/><stop offset="0.32" stop-color="#5c191a"/><stop offset="0.37" stop-color="#6b1a1c"/><stop offset="0.41" stop-color="#761b1d"/><stop offset="0.46" stop-color="#7e1b1e"/><stop offset="0.5" stop-color="#801b1e"/><stop offset="0.54" stop-color="#7e1b1e"/><stop offset="0.58" stop-color="#761b1d"/><stop offset="0.63" stop-color="#6b1a1c"/><stop offset="0.68" stop-color="#5c191a"/><stop offset="0.74" stop-color="#4b1919"/><stop offset="0.81" stop-color="#3b1817"/><stop offset="0.9" stop-color="#2f1716"/><stop offset="1" stop-color="#2a1715"/></linearGradient><linearGradient id="bg2" gradientUnits="userSpaceOnUse" x1="1271.41" y1="0" x2="1351.59" y2="0"><stop offset="0" stop-color="#291715"/><stop offset="0.1" stop-color="#2d1716"/><stop offset="0.19" stop-color="#381817"/><stop offset="0.26" stop-color="#481818"/><stop offset="0.32" stop-color="#5a191a"/><stop offset="0.37" stop-color="#691a1c"/><stop offset="0.41" stop-color="#761b1d"/><stop offset="0.46" stop-color="#7e1b1e"/><stop offset="0.5" stop-color="#801b1e"/><stop offset="0.54" stop-color="#7e1b1e"/><stop offset="0.58" stop-color="#761b1d"/><stop offset="0.63" stop-color="#691a1c"/><stop offset="0.68" stop-color="#5a191a"/><stop offset="0.74" stop-color="#481818"/><stop offset="0.81" stop-color="#381817"/><stop offset="0.9" stop-color="#2d1716"/><stop offset="1" stop-color="#291715"/></linearGradient><linearGradient id="bg3" gradientUnits="userSpaceOnUse" x1="1271.54" y1="0" x2="1351.46" y2="0"><stop offset="0" stop-color="#291715"/><stop offset="0.1" stop-color="#2c1715"/><stop offset="0.19" stop-color="#371816"/><stop offset="0.26" stop-color="#461818"/><stop offset="0.32" stop-color="#58191a"/><stop offset="0.37" stop-color="#681a1c"/><stop offset="0.41" stop-color="#751a1d"/><stop offset="0.46" stop-color="#7d1b1e"/><stop offset="0.5" stop-color="#801b1e"/><stop offset="0.54" stop-color="#7d1b1e"/><stop offset="0.58" stop-color="#751a1d"/><stop offset="0.63" stop-color="#681a1c"/><stop offset="0.68" stop-color="#58191a"/><stop offset="0.74" stop-color="#461818"/><stop offset="0.81" stop-color="#371816"/><stop offset="0.9" stop-color="#2c1715"/><stop offset="1" stop-color="#291715"/></linearGradient><linearGradient id="bg4" gradientUnits="userSpaceOnUse" x1="1271.72" y1="0" x2="1351.28" y2="0"><stop offset="0" stop-color="#291715"/><stop offset="0.1" stop-color="#2c1715"/><stop offset="0.19" stop-color="#351816"/><stop offset="0.26" stop-color="#441818"/><stop offset="0.32" stop-color="#56191a"/><stop offset="0.37" stop-color="#671a1b"/><stop offset="0.41" stop-color="#741a1d"/><stop offset="0.46" stop-color="#7d1b1e"/><stop offset="0.5" stop-color="#801b1e"/><stop offset="0.54" stop-color="#7d1b1e"/><stop offset="0.58" stop-color="#741a1d"/><stop offset="0.63" stop-color="#671a1b"/><stop offset="0.68" stop-color="#56191a"/><stop offset="0.74" stop-color="#441818"/><stop offset="0.81" stop-color="#351816"/><stop offset="0.9" stop-color="#2c1715"/><stop offset="1" stop-color="#291715"/></linearGradient><linearGradient id="bg5" gradientUnits="userSpaceOnUse" x1="1271.94" y1="0" x2="1351.06" y2="0"><stop offset="0" stop-color="#281715"/><stop offset="0.1" stop-color="#2b1715"/><stop offset="0.19" stop-color="#341816"/><stop offset="0.26" stop-color="#421818"/><stop offset="0.32" stop-color="#55191a"/><stop offset="0.37" stop-color="#661a1b"/><stop offset="0.41" stop-color="#741a1d"/><stop offset="0.46" stop-color="#7d1b1e"/><stop offset="0.5" stop-color="#801b1e"/><stop offset="0.54" stop-color="#7d1b1e"/><stop offset="0.58" stop-color="#741a1d"/><stop offset="0.63" stop-color="#661a1b"/><stop offset="0.68" stop-color="#55191a"/><stop offset="0.74" stop-color="#421818"/><stop offset="0.81" stop-color="#341816"/><stop offset="0.9" stop-color="#2b1715"/><stop offset="1" stop-color="#281715"/></linearGradient><linearGradient id="bg6" gradientUnits="userSpaceOnUse" x1="1272.21" y1="0" x2="1350.79" y2="0"><stop offset="0" stop-color="#281715"/><stop offset="0.1" stop-color="#2b1715"/><stop offset="0.19" stop-color="#331716"/><stop offset="0.26" stop-color="#411818"/><stop offset="0.32" stop-color="#531919"/><stop offset="0.37" stop-color="#651a1b"/><stop offset="0.41" stop-color="#731a1d"/><stop offset="0.46" stop-color="#7d1b1e"/><stop offset="0.5" stop-color="#801b1e"/><stop offset="0.54" stop-color="#7d1b1e"/><stop offset="0.58" stop-color="#731a1d"/><stop offset="0.63" stop-color="#651a1b"/><stop offset="0.68" stop-color="#531919"/><stop offset="0.74" stop-color="#411818"/><stop offset="0.81" stop-color="#331716"/><stop offset="0.9" stop-color="#2b1715"/><stop offset="1" stop-color="#281715"/></linearGradient><linearGradient id="bg7" gradientUnits="userSpaceOnUse" x1="1272.52" y1="0" x2="1350.48" y2="0"><stop offset="0" stop-color="#281715"/><stop offset="0.1" stop-color="#2a1715"/><stop offset="0.19" stop-color="#321716"/><stop offset="0.26" stop-color="#401817"/><stop offset="0.32" stop-color="#521919"/><stop offset="0.37" stop-color="#641a1b"/><stop offset="0.41" stop-color="#731a1d"/><stop offset="0.46" stop-color="#7d1b1e"/><stop offset="0.5" stop-color="#801b1e"/><stop offset="0.54" stop-color="#7d1b1e"/><stop offset="0.58" stop-color="#731a1d"/><stop offset="0.63" stop-color="#641a1b"/><stop offset="0.68" stop-color="#521919"/><stop offset="0.74" stop-color="#401817"/><stop offset="0.81" stop-color="#321716"/><stop offset="0.9" stop-color="#2a1715"/><stop offset="1" stop-color="#281715"/></linearGradient><linearGradient id="bg8" gradientUnits="userSpaceOnUse" x1="1272.87" y1="0" x2="1350.13" y2="0"><stop offset="0" stop-color="#281715"/><stop offset="0.1" stop-color="#2a1715"/><stop offset="0.19" stop-color="#311716"/><stop offset="0.26" stop-color="#3e1817"/><stop offset="0.32" stop-color="#511919"/><stop offset="0.37" stop-color="#631a1b"/><stop offset="0.41" stop-color="#721a1d"/><stop offset="0.46" stop-color="#7d1b1e"/><stop offset="0.5" stop-color="#801b1e"/><stop offset="0.54" stop-color="#7d1b1e"/><stop offset="0.58" stop-color="#721a1d"/><stop offset="0.63" stop-color="#631a1b"/><stop offset="0.68" stop-color="#511919"/><stop offset="0.74" stop-color="#3e1817"/><stop offset="0.81" stop-color="#311716"/><stop offset="0.9" stop-color="#2a1715"/><stop offset="1" stop-color="#281715"/></linearGradient><linearGradient id="bg9" gradientUnits="userSpaceOnUse" x1="1273.27" y1="0" x2="1349.73" y2="0"><stop offset="0" stop-color="#281715"/><stop offset="0.1" stop-color="#2a1715"/><stop offset="0.19" stop-color="#301716"/><stop offset="0.26" stop-color="#3d1817"/><stop offset="0.32" stop-color="#501919"/><stop offset="0.37" stop-color="#621a1b"/><stop offset="0.41" stop-color="#721a1d"/><stop offset="0.46" stop-color="#7d1b1e"/><stop offset="0.5" stop-color="#801b1e"/><stop offset="0.54" stop-color="#7d1b1e"/><stop offset="0.58" stop-color="#721a1d"/><stop offset="0.63" stop-color="#621a1b"/><stop offset="0.68" stop-color="#501919"/><stop offset="0.74" stop-color="#3d1817"/><stop offset="0.81" stop-color="#301716"/><stop offset="0.9" stop-color="#2a1715"/><stop offset="1" stop-color="#281715"/></linearGradient><linearGradient id="bg10" gradientUnits="userSpaceOnUse" x1="1273.71" y1="0" x2="1349.29" y2="0"><stop offset="0" stop-color="#281715"/><stop offset="0.1" stop-color="#2a1715"/><stop offset="0.19" stop-color="#301716"/><stop offset="0.26" stop-color="#3c1817"/><stop offset="0.32" stop-color="#4f1919"/><stop offset="0.37" stop-color="#611a1b"/><stop offset="0.41" stop-color="#711a1c"/><stop offset="0.46" stop-color="#7d1b1e"/><stop offset="0.5" stop-color="#801b1e"/><stop offset="0.54" stop-color="#7d1b1e"/><stop offset="0.58" stop-color="#711a1c"/><stop offset="0.63" stop-color="#611a1b"/><stop offset="0.68" stop-color="#4f1919"/><stop offset="0.74" stop-color="#3c1817"/><stop offset="0.81" stop-color="#301716"/><stop offset="0.9" stop-color="#2a1715"/><stop offset="1" stop-color="#281715"/></linearGradient><linearGradient id="bg11" gradientUnits="userSpaceOnUse" x1="1274.19" y1="0" x2="1348.81" y2="0"><stop offset="0" stop-color="#281715"/><stop offset="0.1" stop-color="#291715"/><stop offset="0.19" stop-color="#2f1716"/><stop offset="0.26" stop-color="#3c1817"/><stop offset="0.32" stop-color="#4e1919"/><stop offset="0.37" stop-color="#611a1b"/><stop offset="0.41" stop-color="#711a1c"/><stop offset="0.46" stop-color="#7c1b1e"/><stop offset="0.5" stop-color="#801b1e"/><stop offset="0.54" stop-color="#7c1b1e"/><stop offset="0.58" stop-color="#711a1c"/><stop offset="0.63" stop-color="#611a1b"/><stop offset="0.68" stop-color="#4e1919"/><stop offset="0.74" stop-color="#3c1817"/><stop offset="0.81" stop-color="#2f1716"/><stop offset="0.9" stop-color="#291715"/><stop offset="1" stop-color="#281715"/></linearGradient><linearGradient id="bg12" gradientUnits="userSpaceOnUse" x1="1274.71" y1="0" x2="1348.29" y2="0"><stop offset="0" stop-color="#281715"/><stop offset="0.1" stop-color="#291715"/><stop offset="0.19" stop-color="#2f1716"/><stop offset="0.26" stop-color="#3b1817"/><stop offset="0.32" stop-color="#4d1919"/><stop offset="0.37" stop-color="#601a1b"/><stop offset="0.41" stop-color="#711a1c"/><stop offset="0.46" stop-color="#7c1b1e"/><stop offset="0.5" stop-color="#801b1e"/><stop offset="0.54" stop-color="#7c1b1e"/><stop offset="0.58" stop-color="#711a1c"/><stop offset="0.63" stop-color="#601a1b"/><stop offset="0.68" stop-color="#4d1919"/><stop offset="0.74" stop-color="#3b1817"/><stop offset="0.81" stop-color="#2f1716"/><stop offset="0.9" stop-color="#291715"/><stop offset="1" stop-color="#281715"/></linearGradient><linearGradient id="bg13" gradientUnits="userSpaceOnUse" x1="1275.27" y1="0" x2="1347.73" y2="0"><stop offset="0" stop-color="#281715"/><stop offset="0.1" stop-color="#291715"/><stop offset="0.19" stop-color="#2e1716"/><stop offset="0.26" stop-color="#3a1817"/><stop offset="0.32" stop-color="#4c1919"/><stop offset="0.37" stop-color="#601a1b"/><stop offset="0.41" stop-color="#701a1c"/><stop offset="0.46" stop-color="#7c1b1e"/><stop offset="0.5" stop-color="#801b1e"/><stop offset="0.54" stop-color="#7c1b1e"/><stop offset="0.58" stop-color="#701a1c"/><stop offset="0.63" stop-color="#601a1b"/><stop offset="0.68" stop-color="#4c1919"/><stop offset="0.74" stop-color="#3a1817"/><stop offset="0.81" stop-color="#2e1716"/><stop offset="0.9" stop-color="#291715"/><stop offset="1" stop-color="#281715"/></linearGradient><linearGradient id="bg14" gradientUnits="userSpaceOnUse" x1="1275.87" y1="0" x2="1347.13" y2="0"><stop offset="0" stop-color="#0e0c0a"/><stop offset="0.1" stop-color="#100c0a"/><stop offset="0.19" stop-color="#180d0b"/><stop offset="0.26" stop-color="#2b0e0e"/><stop offset="0.32" stop-color="#471111"/><stop offset="0.37" stop-color="#661315"/><stop offset="0.41" stop-color="#811518"/><stop offset="0.46" stop-color="#95171b"/><stop offset="0.5" stop-color="#9b171b"/><stop offset="0.54" stop-color="#95171b"/><stop offset="0.58" stop-color="#811518"/><stop offset="0.63" stop-color="#661315"/><stop offset="0.68" stop-color="#471111"/><stop offset="0.74" stop-color="#2b0e0e"/><stop offset="0.81" stop-color="#180d0b"/><stop offset="0.9" stop-color="#100c0a"/><stop offset="1" stop-color="#0e0c0a"/></linearGradient><linearGradient id="bg15" gradientUnits="userSpaceOnUse" x1="1276.52" y1="0" x2="1346.48" y2="0"><stop offset="0" stop-color="#0e0c0a"/><stop offset="0.1" stop-color="#100c0a"/><stop offset="0.19" stop-color="#180d0b"/><stop offset="0.26" stop-color="#2a0e0d"/><stop offset="0.32" stop-color="#471111"/><stop offset="0.37" stop-color="#661315"/><stop offset="0.41" stop-color="#821518"/><stop offset="0.46" stop-color="#96171b"/><stop offset="0.5" stop-color="#9c171b"/><stop offset="0.54" stop-color="#96171b"/><stop offset="0.58" stop-color="#821518"/><stop offset="0.63" stop-color="#661315"/><stop offset="0.68" stop-color="#471111"/><stop offset="0.74" stop-color="#2a0e0d"/><stop offset="0.81" stop-color="#180d0b"/><stop offset="0.9" stop-color="#100c0a"/><stop offset="1" stop-color="#0e0c0a"/></linearGradient><linearGradient id="bg16" gradientUnits="userSpaceOnUse" x1="1277.2" y1="0" x2="1345.8" y2="0"><stop offset="0" stop-color="#0e0c0a"/><stop offset="0.1" stop-color="#100c0a"/><stop offset="0.19" stop-color="#170d0b"/><stop offset="0.26" stop-color="#2a0e0d"/><stop offset="0.32" stop-color="#471111"/><stop offset="0.37" stop-color="#671315"/><stop offset="0.41" stop-color="#831518"/><stop offset="0.46" stop-color="#97171b"/><stop offset="0.5" stop-color="#9d171b"/><stop offset="0.54" stop-color="#97171b"/><stop offset="0.58" stop-color="#831518"/><stop offset="0.63" stop-color="#671315"/><stop offset="0.68" stop-color="#471111"/><stop offset="0.74" stop-color="#2a0e0d"/><stop offset="0.81" stop-color="#170d0b"/><stop offset="0.9" stop-color="#100c0a"/><stop offset="1" stop-color="#0e0c0a"/></linearGradient><linearGradient id="bg17" gradientUnits="userSpaceOnUse" x1="1277.92" y1="0" x2="1345.08" y2="0"><stop offset="0" stop-color="#0e0c0a"/><stop offset="0.1" stop-color="#0f0c0a"/><stop offset="0.19" stop-color="#170d0b"/><stop offset="0.26" stop-color="#2a0e0d"/><stop offset="0.32" stop-color="#471011"/><stop offset="0.37" stop-color="#671315"/><stop offset="0.41" stop-color="#831518"/><stop offset="0.46" stop-color="#98171b"/><stop offset="0.5" stop-color="#9e171b"/><stop offset="0.54" stop-color="#98171b"/><stop offset="0.58" stop-color="#831518"/><stop offset="0.63" stop-color="#671315"/><stop offset="0.68" stop-color="#471011"/><stop offset="0.74" stop-color="#2a0e0d"/><stop offset="0.81" stop-color="#170d0b"/><stop offset="0.9" stop-color="#0f0c0a"/><stop offset="1" stop-color="#0e0c0a"/></linearGradient><linearGradient id="bg18" gradientUnits="userSpaceOnUse" x1="1278.67" y1="0" x2="1344.33" y2="0"><stop offset="0" stop-color="#0e0c0a"/><stop offset="0.1" stop-color="#0f0c0a"/><stop offset="0.19" stop-color="#170d0b"/><stop offset="0.26" stop-color="#2a0e0d"/><stop offset="0.32" stop-color="#471011"/><stop offset="0.37" stop-color="#671315"/><stop offset="0.41" stop-color="#841518"/><stop offset="0.46" stop-color="#99171a"/><stop offset="0.5" stop-color="#9f171b"/><stop offset="0.54" stop-color="#99171a"/><stop offset="0.58" stop-color="#841518"/><stop offset="0.63" stop-color="#671315"/><stop offset="0.68" stop-color="#471011"/><stop offset="0.74" stop-color="#2a0e0d"/><stop offset="0.81" stop-color="#170d0b"/><stop offset="0.9" stop-color="#0f0c0a"/><stop offset="1" stop-color="#0e0c0a"/></linearGradient><linearGradient id="bg19" gradientUnits="userSpaceOnUse" x1="1279.47" y1="0" x2="1343.53" y2="0"><stop offset="0" stop-color="#0e0c0a"/><stop offset="0.1" stop-color="#0f0c0a"/><stop offset="0.19" stop-color="#170d0b"/><stop offset="0.26" stop-color="#2a0e0d"/><stop offset="0.32" stop-color="#481011"/><stop offset="0.37" stop-color="#681315"/><stop offset="0.41" stop-color="#851518"/><stop offset="0.46" stop-color="#9a171a"/><stop offset="0.5" stop-color="#a1171b"/><stop offset="0.54" stop-color="#9a171a"/><stop offset="0.58" stop-color="#851518"/><stop offset="0.63" stop-color="#681315"/><stop offset="0.68" stop-color="#481011"/><stop offset="0.74" stop-color="#2a0e0d"/><stop offset="0.81" stop-color="#170d0b"/><stop offset="0.9" stop-color="#0f0c0a"/><stop offset="1" stop-color="#0e0c0a"/></linearGradient><linearGradient id="bg20" gradientUnits="userSpaceOnUse" x1="1280.29" y1="0" x2="1342.71" y2="0"><stop offset="0" stop-color="#0e0c0a"/><stop offset="0.1" stop-color="#0f0c0a"/><stop offset="0.19" stop-color="#170d0b"/><stop offset="0.26" stop-color="#2a0e0d"/><stop offset="0.32" stop-color="#481011"/><stop offset="0.37" stop-color="#691314"/><stop offset="0.41" stop-color="#861518"/><stop offset="0.46" stop-color="#9b171a"/><stop offset="0.5" stop-color="#a2171b"/><stop offset="0.54" stop-color="#9b171a"/><stop offset="0.58" stop-color="#861518"/><stop offset="0.63" stop-color="#691314"/><stop offset="0.68" stop-color="#481011"/><stop offset="0.74" stop-color="#2a0e0d"/><stop offset="0.81" stop-color="#170d0b"/><stop offset="0.9" stop-color="#0f0c0a"/><stop offset="1" stop-color="#0e0c0a"/></linearGradient><linearGradient id="bg21" gradientUnits="userSpaceOnUse" x1="1281.16" y1="0" x2="1341.84" y2="0"><stop offset="0" stop-color="#0e0c0a"/><stop offset="0.1" stop-color="#100c0a"/><stop offset="0.19" stop-color="#180d0b"/><stop offset="0.26" stop-color="#2b0e0d"/><stop offset="0.32" stop-color="#491011"/><stop offset="0.37" stop-color="#6a1314"/><stop offset="0.41" stop-color="#871518"/><stop offset="0.46" stop-color="#9c171a"/><stop offset="0.5" stop-color="#a3171b"/><stop offset="0.54" stop-color="#9c171a"/><stop offset="0.58" stop-color="#871518"/><stop offset="0.63" stop-color="#6a1314"/><stop offset="0.68" stop-color="#491011"/><stop offset="0.74" stop-color="#2b0e0d"/><stop offset="0.81" stop-color="#180d0b"/><stop offset="0.9" stop-color="#100c0a"/><stop offset="1" stop-color="#0e0c0a"/></linearGradient><linearGradient id="bg22" gradientUnits="userSpaceOnUse" x1="1282.05" y1="0" x2="1340.95" y2="0"><stop offset="0" stop-color="#0e0c0a"/><stop offset="0.1" stop-color="#100c0a"/><stop offset="0.19" stop-color="#180d0b"/><stop offset="0.26" stop-color="#2b0e0d"/><stop offset="0.32" stop-color="#4a1011"/><stop offset="0.37" stop-color="#6b1314"/><stop offset="0.41" stop-color="#881518"/><stop offset="0.46" stop-color="#9e161a"/><stop offset="0.5" stop-color="#a4171b"/><stop offset="0.54" stop-color="#9e161a"/><stop offset="0.58" stop-color="#881518"/><stop offset="0.63" stop-color="#6b1314"/><stop offset="0.68" stop-color="#4a1011"/><stop offset="0.74" stop-color="#2b0e0d"/><stop offset="0.81" stop-color="#180d0b"/><stop offset="0.9" stop-color="#100c0a"/><stop offset="1" stop-color="#0e0c0a"/></linearGradient><linearGradient id="bg23" gradientUnits="userSpaceOnUse" x1="1282.98" y1="0" x2="1340.02" y2="0"><stop offset="0" stop-color="#0e0c0a"/><stop offset="0.1" stop-color="#100c0a"/><stop offset="0.19" stop-color="#180d0b"/><stop offset="0.26" stop-color="#2c0e0d"/><stop offset="0.32" stop-color="#4b1011"/><stop offset="0.37" stop-color="#6c1314"/><stop offset="0.41" stop-color="#8a1518"/><stop offset="0.46" stop-color="#9f161a"/><stop offset="0.5" stop-color="#a5171b"/><stop offset="0.54" stop-color="#9f161a"/><stop offset="0.58" stop-color="#8a1518"/><stop offset="0.63" stop-color="#6c1314"/><stop offset="0.68" stop-color="#4b1011"/><stop offset="0.74" stop-color="#2c0e0d"/><stop offset="0.81" stop-color="#180d0b"/><stop offset="0.9" stop-color="#100c0a"/><stop offset="1" stop-color="#0e0c0a"/></linearGradient><linearGradient id="bg24" gradientUnits="userSpaceOnUse" x1="1283.95" y1="0" x2="1339.05" y2="0"><stop offset="0" stop-color="#0e0c0a"/><stop offset="0.1" stop-color="#100c0a"/><stop offset="0.19" stop-color="#190d0b"/><stop offset="0.26" stop-color="#2d0e0d"/><stop offset="0.32" stop-color="#4c1011"/><stop offset="0.37" stop-color="#6e1315"/><stop offset="0.41" stop-color="#8b1518"/><stop offset="0.46" stop-color="#a0161a"/><stop offset="0.5" stop-color="#a7171b"/><stop offset="0.54" stop-color="#a0161a"/><stop offset="0.58" stop-color="#8b1518"/><stop offset="0.63" stop-color="#6e1315"/><stop offset="0.68" stop-color="#4c1011"/><stop offset="0.74" stop-color="#2d0e0d"/><stop offset="0.81" stop-color="#190d0b"/><stop offset="0.9" stop-color="#100c0a"/><stop offset="1" stop-color="#0e0c0a"/></linearGradient><linearGradient id="bg25" gradientUnits="userSpaceOnUse" x1="1284.94" y1="0" x2="1338.06" y2="0"><stop offset="0" stop-color="#0e0c0a"/><stop offset="0.1" stop-color="#100c0a"/><stop offset="0.19" stop-color="#1a0d0b"/><stop offset="0.26" stop-color="#2f0e0e"/><stop offset="0.32" stop-color="#4e1011"/><stop offset="0.37" stop-color="#6f1315"/><stop offset="0.41" stop-color="#8d1518"/><stop offset="0.46" stop-color="#a1161a"/><stop offset="0.5" stop-color="#a8171b"/><stop offset="0.54" stop-color="#a1161a"/><stop offset="0.58" stop-color="#8d1518"/><stop offset="0.63" stop-color="#6f1315"/><stop offset="0.68" stop-color="#4e1011"/><stop offset="0.74" stop-color="#2f0e0e"/><stop offset="0.81" stop-color="#1a0d0b"/><stop offset="0.9" stop-color="#100c0a"/><stop offset="1" stop-color="#0e0c0a"/></linearGradient><linearGradient id="bg26" gradientUnits="userSpaceOnUse" x1="1285.96" y1="0" x2="1337.04" y2="0"><stop offset="0" stop-color="#0e0c0a"/><stop offset="0.1" stop-color="#100c0a"/><stop offset="0.19" stop-color="#1a0d0b"/><stop offset="0.26" stop-color="#300e0e"/><stop offset="0.32" stop-color="#501111"/><stop offset="0.37" stop-color="#711315"/><stop offset="0.41" stop-color="#8e1518"/><stop offset="0.46" stop-color="#a3161a"/><stop offset="0.5" stop-color="#a9171b"/><stop offset="0.54" stop-color="#a3161a"/><stop offset="0.58" stop-color="#8e1518"/><stop offset="0.63" stop-color="#711315"/><stop offset="0.68" stop-color="#501111"/><stop offset="0.74" stop-color="#300e0e"/><stop offset="0.81" stop-color="#1a0d0b"/><stop offset="0.9" stop-color="#100c0a"/><stop offset="1" stop-color="#0e0c0a"/></linearGradient><linearGradient id="bg27" gradientUnits="userSpaceOnUse" x1="1287.01" y1="0" x2="1335.99" y2="0"><stop offset="0" stop-color="#0e0c0a"/><stop offset="0.1" stop-color="#110c0a"/><stop offset="0.19" stop-color="#1b0d0b"/><stop offset="0.26" stop-color="#320e0e"/><stop offset="0.32" stop-color="#521111"/><stop offset="0.37" stop-color="#731315"/><stop offset="0.41" stop-color="#901518"/><stop offset="0.46" stop-color="#a4161a"/><stop offset="0.5" stop-color="#aa171b"/><stop offset="0.54" stop-color="#a4161a"/><stop offset="0.58" stop-color="#901518"/><stop offset="0.63" stop-color="#731315"/><stop offset="0.68" stop-color="#521111"/><stop offset="0.74" stop-color="#320e0e"/><stop offset="0.81" stop-color="#1b0d0b"/><stop offset="0.9" stop-color="#110c0a"/><stop offset="1" stop-color="#0e0c0a"/></linearGradient><linearGradient id="bg28" gradientUnits="userSpaceOnUse" x1="1288.09" y1="0" x2="1334.91" y2="0"><stop offset="0" stop-color="#0e0c0a"/><stop offset="0.1" stop-color="#110c0a"/><stop offset="0.19" stop-color="#1d0d0c"/><stop offset="0.26" stop-color="#340f0e"/><stop offset="0.32" stop-color="#551111"/><stop offset="0.37" stop-color="#761315"/><stop offset="0.41" stop-color="#921518"/><stop offset="0.46" stop-color="#a5161a"/><stop offset="0.5" stop-color="#ab171b"/><stop offset="0.54" stop-color="#a5161a"/><stop offset="0.58" stop-color="#921518"/><stop offset="0.63" stop-color="#761315"/><stop offset="0.68" stop-color="#551111"/><stop offset="0.74" stop-color="#340f0e"/><stop offset="0.81" stop-color="#1d0d0c"/><stop offset="0.9" stop-color="#110c0a"/><stop offset="1" stop-color="#0e0c0a"/></linearGradient><linearGradient id="bg29" gradientUnits="userSpaceOnUse" x1="1289.19" y1="0" x2="1333.81" y2="0"><stop offset="0" stop-color="#0e0c0a"/><stop offset="0.1" stop-color="#120c0a"/><stop offset="0.19" stop-color="#1e0d0c"/><stop offset="0.26" stop-color="#370f0e"/><stop offset="0.32" stop-color="#581112"/><stop offset="0.37" stop-color="#781315"/><stop offset="0.41" stop-color="#941518"/><stop offset="0.46" stop-color="#a7161a"/><stop offset="0.5" stop-color="#ac161a"/><stop offset="0.54" stop-color="#a7161a"/><stop offset="0.58" stop-color="#941518"/><stop offset="0.63" stop-color="#781315"/><stop offset="0.68" stop-color="#581112"/><stop offset="0.74" stop-color="#370f0e"/><stop offset="0.81" stop-color="#1e0d0c"/><stop offset="0.9" stop-color="#120c0a"/><stop offset="1" stop-color="#0e0c0a"/></linearGradient><linearGradient id="bg30" gradientUnits="userSpaceOnUse" x1="1290.32" y1="0" x2="1332.68" y2="0"><stop offset="0" stop-color="#0f0c0a"/><stop offset="0.1" stop-color="#120c0a"/><stop offset="0.19" stop-color="#200d0c"/><stop offset="0.26" stop-color="#3a0f0e"/><stop offset="0.32" stop-color="#5b1112"/><stop offset="0.37" stop-color="#7b1315"/><stop offset="0.41" stop-color="#961518"/><stop offset="0.46" stop-color="#a8161a"/><stop offset="0.5" stop-color="#ae161a"/><stop offset="0.54" stop-color="#a8161a"/><stop offset="0.58" stop-color="#961518"/><stop offset="0.63" stop-color="#7b1315"/><stop offset="0.68" stop-color="#5b1112"/><stop offset="0.74" stop-color="#3a0f0e"/><stop offset="0.81" stop-color="#200d0c"/><stop offset="0.9" stop-color="#120c0a"/><stop offset="1" stop-color="#0f0c0a"/></linearGradient><linearGradient id="bg31" gradientUnits="userSpaceOnUse" x1="1291.47" y1="0" x2="1331.53" y2="0"><stop offset="0" stop-color="#0f0c0a"/><stop offset="0.1" stop-color="#130c0b"/><stop offset="0.19" stop-color="#230d0c"/><stop offset="0.26" stop-color="#3d0f0f"/><stop offset="0.32" stop-color="#5f1112"/><stop offset="0.37" stop-color="#7e1315"/><stop offset="0.41" stop-color="#981518"/><stop offset="0.46" stop-color="#a9161a"/><stop offset="0.5" stop-color="#af161a"/><stop offset="0.54" stop-color="#a9161a"/><stop offset="0.58" stop-color="#981518"/><stop offset="0.63" stop-color="#7e1315"/><stop offset="0.68" stop-color="#5f1112"/><stop offset="0.74" stop-color="#3d0f0f"/><stop offset="0.81" stop-color="#230d0c"/><stop offset="0.9" stop-color="#130c0b"/><stop offset="1" stop-color="#0f0c0a"/></linearGradient><linearGradient id="bg32" gradientUnits="userSpaceOnUse" x1="1292.64" y1="0" x2="1330.36" y2="0"><stop offset="0" stop-color="#0f0c0a"/><stop offset="0.1" stop-color="#150c0b"/><stop offset="0.19" stop-color="#260e0c"/><stop offset="0.26" stop-color="#420f0f"/><stop offset="0.32" stop-color="#631113"/><stop offset="0.37" stop-color="#821316"/><stop offset="0.41" stop-color="#9a1518"/><stop offset="0.46" stop-color="#ab161a"/><stop offset="0.5" stop-color="#b0161a"/><stop offset="0.54" stop-color="#ab161a"/><stop offset="0.58" stop-color="#9a1518"/><stop offset="0.63" stop-color="#821316"/><stop offset="0.68" stop-color="#631113"/><stop offset="0.74" stop-color="#420f0f"/><stop offset="0.81" stop-color="#260e0c"/><stop offset="0.9" stop-color="#150c0b"/><stop offset="1" stop-color="#0f0c0a"/></linearGradient><linearGradient id="bg33" gradientUnits="userSpaceOnUse" x1="1293.83" y1="0" x2="1329.17" y2="0"><stop offset="0" stop-color="#100c0a"/><stop offset="0.1" stop-color="#170d0b"/><stop offset="0.19" stop-color="#2a0e0d"/><stop offset="0.26" stop-color="#461010"/><stop offset="0.32" stop-color="#681213"/><stop offset="0.37" stop-color="#851316"/><stop offset="0.41" stop-color="#9d1518"/><stop offset="0.46" stop-color="#ac161a"/><stop offset="0.5" stop-color="#b1161a"/><stop offset="0.54" stop-color="#ac161a"/><stop offset="0.58" stop-color="#9d1518"/><stop offset="0.63" stop-color="#851316"/><stop offset="0.68" stop-color="#681213"/><stop offset="0.74" stop-color="#461010"/><stop offset="0.81" stop-color="#2a0e0d"/><stop offset="0.9" stop-color="#170d0b"/><stop offset="1" stop-color="#100c0a"/></linearGradient><linearGradient id="bg34" gradientUnits="userSpaceOnUse" x1="1295.05" y1="0" x2="1327.95" y2="0"><stop offset="0" stop-color="#100c0a"/><stop offset="0.1" stop-color="#190d0b"/><stop offset="0.19" stop-color="#2e0e0d"/><stop offset="0.26" stop-color="#4c1010"/><stop offset="0.32" stop-color="#6d1213"/><stop offset="0.37" stop-color="#891416"/><stop offset="0.41" stop-color="#9f1518"/><stop offset="0.46" stop-color="#ae161a"/><stop offset="0.5" stop-color="#b2161a"/><stop offset="0.54" stop-color="#ae161a"/><stop offset="0.58" stop-color="#9f1518"/><stop offset="0.63" stop-color="#891416"/><stop offset="0.68" stop-color="#6d1213"/><stop offset="0.74" stop-color="#4c1010"/><stop offset="0.81" stop-color="#2e0e0d"/><stop offset="0.9" stop-color="#190d0b"/><stop offset="1" stop-color="#100c0a"/></linearGradient><linearGradient id="bg35" gradientUnits="userSpaceOnUse" x1="1296.28" y1="0" x2="1326.72" y2="0"><stop offset="0" stop-color="#120c0a"/><stop offset="0.1" stop-color="#1c0d0b"/><stop offset="0.19" stop-color="#340e0e"/><stop offset="0.26" stop-color="#521011"/><stop offset="0.32" stop-color="#731314"/><stop offset="0.37" stop-color="#8f1617"/><stop offset="0.41" stop-color="#a51a19"/><stop offset="0.46" stop-color="#b41e1a"/><stop offset="0.5" stop-color="#b81f1b"/><stop offset="0.54" stop-color="#b41e1a"/><stop offset="0.58" stop-color="#a51a19"/><stop offset="0.63" stop-color="#8f1617"/><stop offset="0.68" stop-color="#731314"/><stop offset="0.74" stop-color="#521011"/><stop offset="0.81" stop-color="#340e0e"/><stop offset="0.9" stop-color="#1c0d0b"/><stop offset="1" stop-color="#120c0a"/></linearGradient><linearGradient id="bg36" gradientUnits="userSpaceOnUse" x1="1297.53" y1="0" x2="1325.47" y2="0"><stop offset="0" stop-color="#130c0b"/><stop offset="0.1" stop-color="#200d0c"/><stop offset="0.19" stop-color="#3a0f0e"/><stop offset="0.26" stop-color="#5a1111"/><stop offset="0.32" stop-color="#7b1615"/><stop offset="0.37" stop-color="#991e18"/><stop offset="0.41" stop-color="#b0291a"/><stop offset="0.46" stop-color="#bf331c"/><stop offset="0.5" stop-color="#c4371d"/><stop offset="0.54" stop-color="#bf331c"/><stop offset="0.58" stop-color="#b0291a"/><stop offset="0.63" stop-color="#991e18"/><stop offset="0.68" stop-color="#7b1615"/><stop offset="0.74" stop-color="#5a1111"/><stop offset="0.81" stop-color="#3a0f0e"/><stop offset="0.9" stop-color="#200d0c"/><stop offset="1" stop-color="#130c0b"/></linearGradient><linearGradient id="bg37" gradientUnits="userSpaceOnUse" x1="1298.79" y1="0" x2="1324.21" y2="0"><stop offset="0" stop-color="#160c0b"/><stop offset="0.1" stop-color="#260d0c"/><stop offset="0.19" stop-color="#420f0f"/><stop offset="0.26" stop-color="#621312"/><stop offset="0.32" stop-color="#851c16"/><stop offset="0.37" stop-color="#a42b1a"/><stop offset="0.41" stop-color="#bb3d1d"/><stop offset="0.46" stop-color="#cb4e20"/><stop offset="0.5" stop-color="#cf5421"/><stop offset="0.54" stop-color="#cb4e20"/><stop offset="0.58" stop-color="#bb3d1d"/><stop offset="0.63" stop-color="#a42b1a"/><stop offset="0.68" stop-color="#851c16"/><stop offset="0.74" stop-color="#621312"/><stop offset="0.81" stop-color="#420f0f"/><stop offset="0.9" stop-color="#260d0c"/><stop offset="1" stop-color="#160c0b"/></linearGradient><linearGradient id="bg38" gradientUnits="userSpaceOnUse" x1="1300.07" y1="0" x2="1322.93" y2="0"><stop offset="0" stop-color="#1a0d0b"/><stop offset="0.1" stop-color="#2d0e0d"/><stop offset="0.19" stop-color="#4c1110"/><stop offset="0.26" stop-color="#6e1714"/><stop offset="0.32" stop-color="#922718"/><stop offset="0.37" stop-color="#b13e1d"/><stop offset="0.41" stop-color="#c85822"/><stop offset="0.46" stop-color="#d66e25"/><stop offset="0.5" stop-color="#db7526"/><stop offset="0.54" stop-color="#d66e25"/><stop offset="0.58" stop-color="#c85822"/><stop offset="0.63" stop-color="#b13e1d"/><stop offset="0.68" stop-color="#922718"/><stop offset="0.74" stop-color="#6e1714"/><stop offset="0.81" stop-color="#4c1110"/><stop offset="0.9" stop-color="#2d0e0d"/><stop offset="1" stop-color="#1a0d0b"/></linearGradient><linearGradient id="bg39" gradientUnits="userSpaceOnUse" x1="1301.36" y1="0" x2="1321.64" y2="0"><stop offset="0" stop-color="#210d0c"/><stop offset="0.1" stop-color="#370f0e"/><stop offset="0.19" stop-color="#591412"/><stop offset="0.26" stop-color="#7d2016"/><stop offset="0.32" stop-color="#a2391c"/><stop offset="0.37" stop-color="#c05922"/><stop offset="0.41" stop-color="#d67827"/><stop offset="0.46" stop-color="#e3912b"/><stop offset="0.5" stop-color="#e6992c"/><stop offset="0.54" stop-color="#e3912b"/><stop offset="0.58" stop-color="#d67827"/><stop offset="0.63" stop-color="#c05922"/><stop offset="0.68" stop-color="#a2391c"/><stop offset="0.74" stop-color="#7d2016"/><stop offset="0.81" stop-color="#591412"/><stop offset="0.9" stop-color="#370f0e"/><stop offset="1" stop-color="#210d0c"/></linearGradient><linearGradient id="bg40" gradientUnits="userSpaceOnUse" x1="1302.67" y1="0" x2="1320.33" y2="0"><stop offset="0" stop-color="#2a0e0d"/><stop offset="0.1" stop-color="#45110f"/><stop offset="0.19" stop-color="#6a1b14"/><stop offset="0.26" stop-color="#91321a"/><stop offset="0.32" stop-color="#b65521"/><stop offset="0.37" stop-color="#d17c28"/><stop offset="0.41" stop-color="#e49e2e"/><stop offset="0.46" stop-color="#efb732"/><stop offset="0.5" stop-color="#f2bf33"/><stop offset="0.54" stop-color="#efb732"/><stop offset="0.58" stop-color="#e49e2e"/><stop offset="0.63" stop-color="#d17c28"/><stop offset="0.68" stop-color="#b65521"/><stop offset="0.74" stop-color="#91321a"/><stop offset="0.81" stop-color="#6a1b14"/><stop offset="0.9" stop-color="#45110f"/><stop offset="1" stop-color="#2a0e0d"/></linearGradient><linearGradient id="bg41" gradientUnits="userSpaceOnUse" x1="1303.98" y1="0" x2="1319.02" y2="0"><stop offset="0" stop-color="#39100e"/><stop offset="0.1" stop-color="#591712"/><stop offset="0.19" stop-color="#822d18"/><stop offset="0.26" stop-color="#aa5120"/><stop offset="0.32" stop-color="#cc7d29"/><stop offset="0.37" stop-color="#e3a630"/><stop offset="0.41" stop-color="#f2c836"/><stop offset="0.46" stop-color="#fadd39"/><stop offset="0.5" stop-color="#fadd39"/><stop offset="0.54" stop-color="#fadd39"/><stop offset="0.58" stop-color="#f2c836"/><stop offset="0.63" stop-color="#e3a630"/><stop offset="0.68" stop-color="#cc7d29"/><stop offset="0.74" stop-color="#aa5120"/><stop offset="0.81" stop-color="#822d18"/><stop offset="0.9" stop-color="#591712"/><stop offset="1" stop-color="#39100e"/></linearGradient><linearGradient id="bg42" gradientUnits="userSpaceOnUse" x1="1305.3" y1="0" x2="1317.7" y2="0"><stop offset="0" stop-color="#511611"/><stop offset="0.1" stop-color="#772917"/><stop offset="0.19" stop-color="#a35020"/><stop offset="0.26" stop-color="#c77e29"/><stop offset="0.32" stop-color="#e2ac32"/><stop offset="0.37" stop-color="#f4d338"/><stop offset="0.41" stop-color="#fce83c"/><stop offset="0.46" stop-color="#fce83c"/><stop offset="0.5" stop-color="#fce83c"/><stop offset="0.54" stop-color="#fce83c"/><stop offset="0.58" stop-color="#fce83c"/><stop offset="0.63" stop-color="#f4d338"/><stop offset="0.68" stop-color="#e2ac32"/><stop offset="0.74" stop-color="#c77e29"/><stop offset="0.81" stop-color="#a35020"/><stop offset="0.9" stop-color="#772917"/><stop offset="1" stop-color="#511611"/></linearGradient><linearGradient id="bg43" gradientUnits="userSpaceOnUse" x1="1306.63" y1="0" x2="1316.37" y2="0"><stop offset="0" stop-color="#7a2c18"/><stop offset="0.1" stop-color="#a14d20"/><stop offset="0.19" stop-color="#c57b29"/><stop offset="0.26" stop-color="#dfa631"/><stop offset="0.32" stop-color="#f0ca37"/><stop offset="0.37" stop-color="#fbe63c"/><stop offset="0.41" stop-color="#fce83c"/><stop offset="0.46" stop-color="#fce83c"/><stop offset="0.5" stop-color="#fce83c"/><stop offset="0.54" stop-color="#fce83c"/><stop offset="0.58" stop-color="#fce83c"/><stop offset="0.63" stop-color="#fbe63c"/><stop offset="0.68" stop-color="#f0ca37"/><stop offset="0.74" stop-color="#dfa631"/><stop offset="0.81" stop-color="#c57b29"/><stop offset="0.9" stop-color="#a14d20"/><stop offset="1" stop-color="#7a2c18"/></linearGradient></defs>
<g clip-path="url(#domeclip)"><path d="M1271.27 1024.95 L1351.73 1024.95 L1351.71 1012.9 L1271.29 1012.9 Z" fill="url(#bg0)"/><path d="M1271.29 1013.5 L1351.71 1013.5 L1351.64 1001.38 L1271.36 1001.38 Z" fill="url(#bg1)"/><path d="M1271.36 1001.98 L1351.64 1001.98 L1351.53 989.79 L1271.47 989.79 Z" fill="url(#bg2)"/><path d="M1271.47 990.39 L1351.53 990.39 L1351.38 978.14 L1271.62 978.14 Z" fill="url(#bg3)"/><path d="M1271.62 978.74 L1351.38 978.74 L1351.17 966.46 L1271.83 966.46 Z" fill="url(#bg4)"/><path d="M1271.83 967.06 L1351.17 967.06 L1350.93 954.75 L1272.07 954.75 Z" fill="url(#bg5)"/><path d="M1272.07 955.35 L1350.93 955.35 L1350.64 943.03 L1272.36 943.03 Z" fill="url(#bg6)"/><path d="M1272.36 943.63 L1350.64 943.63 L1350.31 931.31 L1272.69 931.31 Z" fill="url(#bg7)"/><path d="M1272.69 931.91 L1350.31 931.91 L1349.94 919.6 L1273.06 919.6 Z" fill="url(#bg8)"/><path d="M1273.06 920.2 L1349.94 920.2 L1349.52 907.92 L1273.48 907.92 Z" fill="url(#bg9)"/><path d="M1273.48 908.52 L1349.52 908.52 L1349.06 896.27 L1273.94 896.27 Z" fill="url(#bg10)"/><path d="M1273.94 896.87 L1349.06 896.87 L1348.56 884.68 L1274.44 884.68 Z" fill="url(#bg11)"/><path d="M1274.44 885.28 L1348.56 885.28 L1348.02 873.16 L1274.98 873.16 Z" fill="url(#bg12)"/><path d="M1274.98 873.76 L1348.02 873.76 L1347.43 861.71 L1275.57 861.71 Z" fill="url(#bg13)"/><path d="M1275.57 862.31 L1347.43 862.31 L1346.81 850.35 L1276.19 850.35 Z" fill="url(#bg14)"/><path d="M1276.19 850.95 L1346.81 850.95 L1346.15 839.09 L1276.85 839.09 Z" fill="url(#bg15)"/><path d="M1276.85 839.69 L1346.15 839.69 L1345.45 827.95 L1277.55 827.95 Z" fill="url(#bg16)"/><path d="M1277.55 828.55 L1345.45 828.55 L1344.71 816.94 L1278.29 816.94 Z" fill="url(#bg17)"/><path d="M1278.29 817.54 L1344.71 817.54 L1343.94 806.06 L1279.06 806.06 Z" fill="url(#bg18)"/><path d="M1279.06 806.66 L1343.94 806.66 L1343.12 795.34 L1279.88 795.34 Z" fill="url(#bg19)"/><path d="M1279.88 795.94 L1343.12 795.94 L1342.28 784.79 L1280.72 784.79 Z" fill="url(#bg20)"/><path d="M1280.72 785.39 L1342.28 785.39 L1341.4 774.4 L1281.6 774.4 Z" fill="url(#bg21)"/><path d="M1281.6 775 L1341.4 775 L1340.48 764.21 L1282.52 764.21 Z" fill="url(#bg22)"/><path d="M1282.52 764.81 L1340.48 764.81 L1339.54 754.21 L1283.46 754.21 Z" fill="url(#bg23)"/><path d="M1283.46 754.81 L1339.54 754.81 L1338.56 744.43 L1284.44 744.43 Z" fill="url(#bg24)"/><path d="M1284.44 745.03 L1338.56 745.03 L1337.56 734.86 L1285.44 734.86 Z" fill="url(#bg25)"/><path d="M1285.44 735.46 L1337.56 735.46 L1336.52 725.53 L1286.48 725.53 Z" fill="url(#bg26)"/><path d="M1286.48 726.13 L1336.52 726.13 L1335.46 716.43 L1287.54 716.43 Z" fill="url(#bg27)"/><path d="M1287.54 717.03 L1335.46 717.03 L1334.37 707.59 L1288.63 707.59 Z" fill="url(#bg28)"/><path d="M1288.63 708.19 L1334.37 708.19 L1333.25 699.01 L1289.75 699.01 Z" fill="url(#bg29)"/><path d="M1289.75 699.61 L1333.25 699.61 L1332.11 690.7 L1290.89 690.7 Z" fill="url(#bg30)"/><path d="M1290.89 691.3 L1332.11 691.3 L1330.95 682.67 L1292.05 682.67 Z" fill="url(#bg31)"/><path d="M1292.05 683.27 L1330.95 683.27 L1329.76 674.93 L1293.24 674.93 Z" fill="url(#bg32)"/><path d="M1293.24 675.53 L1329.76 675.53 L1328.56 667.48 L1294.44 667.48 Z" fill="url(#bg33)"/><path d="M1294.44 668.08 L1328.56 668.08 L1327.34 660.35 L1295.66 660.35 Z" fill="url(#bg34)"/><path d="M1295.66 660.95 L1327.34 660.95 L1326.1 653.52 L1296.9 653.52 Z" fill="url(#bg35)"/><path d="M1296.9 654.12 L1326.1 654.12 L1324.84 647.02 L1298.16 647.02 Z" fill="url(#bg36)"/><path d="M1298.16 647.62 L1324.84 647.62 L1323.57 640.85 L1299.43 640.85 Z" fill="url(#bg37)"/><path d="M1299.43 641.45 L1323.57 641.45 L1322.28 635.01 L1300.72 635.01 Z" fill="url(#bg38)"/><path d="M1300.72 635.61 L1322.28 635.61 L1320.99 629.51 L1302.01 629.51 Z" fill="url(#bg39)"/><path d="M1302.01 630.11 L1320.99 630.11 L1319.68 624.37 L1303.32 624.37 Z" fill="url(#bg40)"/><path d="M1303.32 624.97 L1319.68 624.97 L1318.36 619.57 L1304.64 619.57 Z" fill="url(#bg41)"/><path d="M1304.64 620.17 L1318.36 620.17 L1317.04 615.13 L1305.96 615.13 Z" fill="url(#bg42)"/><path d="M1305.96 615.73 L1317.04 615.73 L1315.71 611.06 L1307.29 611.06 Z" fill="url(#bg43)"/></g>
<path d="M1122.82 1009.34 L1122.83 1005.47 L1122.87 1001.6 L1122.93 997.72 L1123.01 993.83 M1123.69 976.22 L1123.91 972.31 L1124.15 968.39 L1124.41 964.46 L1124.7 960.54 M1126.29 942.8 L1126.71 938.87 L1127.15 934.94 L1127.61 931.01 L1128.1 927.08 M1130.59 909.38 L1131.21 905.47 L1131.85 901.56 L1132.51 897.66 L1133.19 893.77 M1136.56 876.28 L1137.37 872.42 L1138.2 868.57 L1139.05 864.73 L1139.93 860.91 M1144.14 843.78 L1145.13 840.02 L1146.15 836.27 L1147.18 832.53 L1148.24 828.8 M1153.26 812.2 L1154.43 808.56 L1155.62 804.94 L1156.83 801.34 L1158.06 797.75 M1163.84 781.82 L1165.17 778.34 L1166.53 774.89 L1167.9 771.45 L1169.29 768.04 M1175.78 752.93 L1177.26 749.64 L1178.77 746.38 L1180.29 743.15 L1181.83 739.94 M1188.96 725.79 L1190.59 722.72 L1192.23 719.69 L1193.89 716.68 L1195.56 713.7 M1203.28 700.64 L1205.03 697.83 L1206.79 695.05 L1208.57 692.3 L1210.36 689.58 M1218.59 677.73 L1220.45 675.2 L1222.32 672.69 L1224.2 670.23 L1226.09 667.79 M1234.76 657.26 L1236.71 655.03 L1238.66 652.83 L1240.63 650.66 L1242.61 648.54 M1251.63 639.42 L1253.65 637.51 L1255.68 635.63 L1257.72 633.79 L1259.76 632 M1269.06 624.38 L1271.13 622.8 L1273.21 621.27 L1275.3 619.77 L1277.39 618.32 " fill="none" stroke="#f4f2f0" stroke-width="2.8" stroke-linecap="butt"/>
<path d="M1500.18 1009.34 L1500.17 1005.47 L1500.13 1001.6 L1500.07 997.72 L1499.99 993.83 M1499.31 976.22 L1499.09 972.31 L1498.85 968.39 L1498.59 964.46 L1498.3 960.54 M1496.71 942.8 L1496.29 938.87 L1495.85 934.94 L1495.39 931.01 L1494.9 927.08 M1492.41 909.38 L1491.79 905.47 L1491.15 901.56 L1490.49 897.66 L1489.81 893.77 M1486.44 876.28 L1485.63 872.42 L1484.8 868.57 L1483.95 864.73 L1483.07 860.91 M1478.86 843.78 L1477.87 840.02 L1476.85 836.27 L1475.82 832.53 L1474.76 828.8 M1469.74 812.2 L1468.57 808.56 L1467.38 804.94 L1466.17 801.34 L1464.94 797.75 M1459.16 781.82 L1457.83 778.34 L1456.47 774.89 L1455.1 771.45 L1453.71 768.04 M1447.22 752.93 L1445.74 749.64 L1444.23 746.38 L1442.71 743.15 L1441.17 739.94 M1434.04 725.79 L1432.41 722.72 L1430.77 719.69 L1429.11 716.68 L1427.44 713.7 M1419.72 700.64 L1417.97 697.83 L1416.21 695.05 L1414.43 692.3 L1412.64 689.58 M1404.41 677.73 L1402.55 675.2 L1400.68 672.69 L1398.8 670.23 L1396.91 667.79 M1388.24 657.26 L1386.29 655.03 L1384.34 652.83 L1382.37 650.66 L1380.39 648.54 M1371.37 639.42 L1369.35 637.51 L1367.32 635.63 L1365.28 633.79 L1363.24 632 M1353.94 624.38 L1351.87 622.8 L1349.79 621.27 L1347.7 619.77 L1345.61 618.32 " fill="none" stroke="#f4f2f0" stroke-width="2.8" stroke-linecap="butt"/>
<line x1="1575" y1="740" x2="1575" y2="991" stroke="#fff" stroke-width="2"/>
<ellipse cx="1311.7" cy="598.7" rx="50.5" ry="12.4" fill="#80191b"/>
<rect x="1375.7" y="786.9" width="214.4" height="180.1" fill="#fff" stroke="#1b82d2" stroke-width="1.8"/>
<path d="M1388.3 956.9 L1388.36 952.7 L1388.55 948.5 L1388.85 944.31 L1389.28 940.11 L1389.83 935.91 L1390.5 931.72 L1391.29 927.52 L1392.2 923.32 L1393.23 919.12 L1394.37 914.92 L1395.63 910.73 L1397.01 906.53 L1398.49 902.33 L1400.09 898.13 L1401.79 893.94 L1403.6 889.74 L1405.51 885.54 L1407.53 881.35 L1409.64 877.15 L1411.85 872.95 L1414.16 868.75 L1416.55 864.55 L1419.03 860.36 L1421.6 856.16 L1424.24 851.96 L1426.97 847.76 L1429.77 843.57 L1432.64 839.37 L1435.58 835.17 L1438.59 830.98 L1441.65 826.78 L1444.77 822.58 L1447.95 818.38 L1451.17 814.18 L1454.44 809.99 L1457.74 805.79 L1461.09 801.59 L1464.47 797.39 L1467.87 793.2 L1471.3 789 L1503.3 789 L1506.73 793.2 L1510.13 797.39 L1513.51 801.59 L1516.86 805.79 L1520.16 809.99 L1523.43 814.18 L1526.65 818.38 L1529.83 822.58 L1532.95 826.78 L1536.01 830.98 L1539.02 835.17 L1541.96 839.37 L1544.83 843.57 L1547.63 847.76 L1550.36 851.96 L1553 856.16 L1555.57 860.36 L1558.05 864.55 L1560.44 868.75 L1562.75 872.95 L1564.96 877.15 L1567.07 881.35 L1569.09 885.54 L1571 889.74 L1572.81 893.94 L1574.51 898.13 L1576.11 902.33 L1577.59 906.53 L1578.97 910.73 L1580.23 914.92 L1581.37 919.12 L1582.4 923.32 L1583.31 927.52 L1584.1 931.72 L1584.77 935.91 L1585.32 940.11 L1585.75 944.31 L1586.05 948.5 L1586.24 952.7 L1586.3 956.9 Z" fill="#0b0a08"/>
<path d="M1408.1 956.9 L1408.15 952.7 L1408.3 948.5 L1408.54 944.31 L1408.88 940.11 L1409.32 935.91 L1409.86 931.72 L1410.49 927.52 L1411.22 923.32 L1412.04 919.12 L1412.96 914.92 L1413.97 910.73 L1415.07 906.53 L1416.25 902.33 L1417.53 898.13 L1418.89 893.94 L1420.34 889.74 L1421.87 885.54 L1423.48 881.35 L1425.17 877.15 L1426.94 872.95 L1428.78 868.75 L1430.7 864.55 L1432.68 860.36 L1434.74 856.16 L1436.86 851.96 L1439.04 847.76 L1441.28 843.57 L1443.58 839.37 L1445.93 835.17 L1448.33 830.98 L1450.78 826.78 L1453.28 822.58 L1455.82 818.38 L1458.4 814.18 L1461.01 809.99 L1463.66 805.79 L1466.33 801.59 L1469.03 797.39 L1471.76 793.2 L1474.5 789 M1427.9 956.9 L1427.94 952.7 L1428.05 948.5 L1428.23 944.31 L1428.49 940.11 L1428.82 935.91 L1429.22 931.72 L1429.7 927.52 L1430.24 923.32 L1430.86 919.12 L1431.54 914.92 L1432.3 910.73 L1433.12 906.53 L1434.02 902.33 L1434.97 898.13 L1435.99 893.94 L1437.08 889.74 L1438.23 885.54 L1439.44 881.35 L1440.71 877.15 L1442.03 872.95 L1443.41 868.75 L1444.85 864.55 L1446.34 860.36 L1447.88 856.16 L1449.47 851.96 L1451.1 847.76 L1452.78 843.57 L1454.51 839.37 L1456.27 835.17 L1458.07 830.98 L1459.91 826.78 L1461.78 822.58 L1463.69 818.38 L1465.62 814.18 L1467.58 809.99 L1469.57 805.79 L1471.57 801.59 L1473.6 797.39 L1475.64 793.2 L1477.7 789 M1447.7 956.9 L1447.72 952.7 L1447.8 948.5 L1447.92 944.31 L1448.09 940.11 L1448.31 935.91 L1448.58 931.72 L1448.9 927.52 L1449.26 923.32 L1449.67 919.12 L1450.13 914.92 L1450.63 910.73 L1451.18 906.53 L1451.78 902.33 L1452.42 898.13 L1453.1 893.94 L1453.82 889.74 L1454.59 885.54 L1455.39 881.35 L1456.24 877.15 L1457.12 872.95 L1458.04 868.75 L1459 864.55 L1459.99 860.36 L1461.02 856.16 L1462.08 851.96 L1463.17 847.76 L1464.29 843.57 L1465.44 839.37 L1466.61 835.17 L1467.82 830.98 L1469.04 826.78 L1470.29 822.58 L1471.56 818.38 L1472.85 814.18 L1474.15 809.99 L1475.48 805.79 L1476.82 801.59 L1478.17 797.39 L1479.53 793.2 L1480.9 789 M1467.5 956.9 L1467.51 952.7 L1467.55 948.5 L1467.61 944.31 L1467.7 940.11 L1467.81 935.91 L1467.94 931.72 L1468.1 927.52 L1468.28 923.32 L1468.49 919.12 L1468.71 914.92 L1468.97 910.73 L1469.24 906.53 L1469.54 902.33 L1469.86 898.13 L1470.2 893.94 L1470.56 889.74 L1470.94 885.54 L1471.35 881.35 L1471.77 877.15 L1472.21 872.95 L1472.67 868.75 L1473.15 864.55 L1473.65 860.36 L1474.16 856.16 L1474.69 851.96 L1475.23 847.76 L1475.79 843.57 L1476.37 839.37 L1476.96 835.17 L1477.56 830.98 L1478.17 826.78 L1478.79 822.58 L1479.43 818.38 L1480.07 814.18 L1480.73 809.99 L1481.39 805.79 L1482.06 801.59 L1482.73 797.39 L1483.41 793.2 L1484.1 789 M1507.1 956.9 L1507.09 952.7 L1507.05 948.5 L1506.99 944.31 L1506.9 940.11 L1506.79 935.91 L1506.66 931.72 L1506.5 927.52 L1506.32 923.32 L1506.11 919.12 L1505.89 914.92 L1505.63 910.73 L1505.36 906.53 L1505.06 902.33 L1504.74 898.13 L1504.4 893.94 L1504.04 889.74 L1503.66 885.54 L1503.25 881.35 L1502.83 877.15 L1502.39 872.95 L1501.93 868.75 L1501.45 864.55 L1500.95 860.36 L1500.44 856.16 L1499.91 851.96 L1499.37 847.76 L1498.81 843.57 L1498.23 839.37 L1497.64 835.17 L1497.04 830.98 L1496.43 826.78 L1495.81 822.58 L1495.17 818.38 L1494.53 814.18 L1493.87 809.99 L1493.21 805.79 L1492.54 801.59 L1491.87 797.39 L1491.19 793.2 L1490.5 789 M1526.9 956.9 L1526.88 952.7 L1526.8 948.5 L1526.68 944.31 L1526.51 940.11 L1526.29 935.91 L1526.02 931.72 L1525.7 927.52 L1525.34 923.32 L1524.93 919.12 L1524.47 914.92 L1523.97 910.73 L1523.42 906.53 L1522.82 902.33 L1522.18 898.13 L1521.5 893.94 L1520.78 889.74 L1520.01 885.54 L1519.21 881.35 L1518.36 877.15 L1517.48 872.95 L1516.56 868.75 L1515.6 864.55 L1514.61 860.36 L1513.58 856.16 L1512.52 851.96 L1511.43 847.76 L1510.31 843.57 L1509.16 839.37 L1507.99 835.17 L1506.78 830.98 L1505.56 826.78 L1504.31 822.58 L1503.04 818.38 L1501.75 814.18 L1500.45 809.99 L1499.12 805.79 L1497.78 801.59 L1496.43 797.39 L1495.07 793.2 L1493.7 789 M1546.7 956.9 L1546.66 952.7 L1546.55 948.5 L1546.37 944.31 L1546.11 940.11 L1545.78 935.91 L1545.38 931.72 L1544.9 927.52 L1544.36 923.32 L1543.74 919.12 L1543.06 914.92 L1542.3 910.73 L1541.48 906.53 L1540.58 902.33 L1539.63 898.13 L1538.61 893.94 L1537.52 889.74 L1536.37 885.54 L1535.16 881.35 L1533.89 877.15 L1532.57 872.95 L1531.19 868.75 L1529.75 864.55 L1528.26 860.36 L1526.72 856.16 L1525.13 851.96 L1523.5 847.76 L1521.82 843.57 L1520.09 839.37 L1518.33 835.17 L1516.53 830.98 L1514.69 826.78 L1512.82 822.58 L1510.91 818.38 L1508.98 814.18 L1507.02 809.99 L1505.03 805.79 L1503.03 801.59 L1501 797.39 L1498.96 793.2 L1496.9 789 M1566.5 956.9 L1566.45 952.7 L1566.3 948.5 L1566.06 944.31 L1565.72 940.11 L1565.28 935.91 L1564.74 931.72 L1564.11 927.52 L1563.38 923.32 L1562.56 919.12 L1561.64 914.92 L1560.63 910.73 L1559.53 906.53 L1558.35 902.33 L1557.07 898.13 L1555.71 893.94 L1554.26 889.74 L1552.73 885.54 L1551.12 881.35 L1549.43 877.15 L1547.66 872.95 L1545.82 868.75 L1543.9 864.55 L1541.92 860.36 L1539.86 856.16 L1537.74 851.96 L1535.56 847.76 L1533.32 843.57 L1531.02 839.37 L1528.67 835.17 L1526.27 830.98 L1523.82 826.78 L1521.32 822.58 L1518.78 818.38 L1516.2 814.18 L1513.59 809.99 L1510.94 805.79 L1508.27 801.59 L1505.57 797.39 L1502.84 793.2 L1500.1 789 M1388.84 944.4 H1585.76 M1390.43 932.1 H1584.17 M1393.16 919.4 H1581.44 M1396.95 906.7 H1577.65 M1401.6 894.4 H1573 M1407.06 882.3 H1567.54 M1413.68 869.6 H1560.92 M1421.39 856.5 H1553.21 M1429.61 843.8 H1544.99 M1438.93 830.5 H1535.67 M1458.21 805.2 H1516.39 M1464.54 797.3 H1510.06 M1468.44 792.5 H1506.16 " fill="none" stroke="#d8d2cc" stroke-opacity="0.4" stroke-width="0.7"/>
<path d="M1449.85 815.9 H1524.75" stroke="#e8e4e0" stroke-opacity="0.85" stroke-width="1"/>
<defs><linearGradient id="ig0" gradientUnits="userSpaceOnUse" x1="1467.51" y1="0" x2="1507.09" y2="0"><stop offset="0" stop-color="#0b0a08"/><stop offset="0.12" stop-color="#0e0a09"/><stop offset="0.22" stop-color="#1c0c0b"/><stop offset="0.3" stop-color="#361010"/><stop offset="0.36" stop-color="#551416"/><stop offset="0.42" stop-color="#72181b"/><stop offset="0.46" stop-color="#7e191d"/><stop offset="0.5" stop-color="#821a1e"/><stop offset="0.54" stop-color="#7e191d"/><stop offset="0.57" stop-color="#72181b"/><stop offset="0.64" stop-color="#551416"/><stop offset="0.7" stop-color="#361010"/><stop offset="0.78" stop-color="#1c0c0b"/><stop offset="0.88" stop-color="#0e0a09"/><stop offset="1" stop-color="#0b0a08"/></linearGradient><linearGradient id="ig1" gradientUnits="userSpaceOnUse" x1="1467.58" y1="0" x2="1507.02" y2="0"><stop offset="0" stop-color="#0b0a08"/><stop offset="0.12" stop-color="#0e0a08"/><stop offset="0.22" stop-color="#1b0c0b"/><stop offset="0.3" stop-color="#350f0f"/><stop offset="0.36" stop-color="#561415"/><stop offset="0.42" stop-color="#74171b"/><stop offset="0.46" stop-color="#81191d"/><stop offset="0.5" stop-color="#851a1e"/><stop offset="0.54" stop-color="#81191d"/><stop offset="0.57" stop-color="#74171b"/><stop offset="0.64" stop-color="#561415"/><stop offset="0.7" stop-color="#350f0f"/><stop offset="0.78" stop-color="#1b0c0b"/><stop offset="0.88" stop-color="#0e0a08"/><stop offset="1" stop-color="#0b0a08"/></linearGradient><linearGradient id="ig2" gradientUnits="userSpaceOnUse" x1="1467.71" y1="0" x2="1506.89" y2="0"><stop offset="0" stop-color="#0b0a08"/><stop offset="0.12" stop-color="#0d0a08"/><stop offset="0.22" stop-color="#1a0c0b"/><stop offset="0.3" stop-color="#340f0f"/><stop offset="0.36" stop-color="#561315"/><stop offset="0.42" stop-color="#76171a"/><stop offset="0.46" stop-color="#84191d"/><stop offset="0.5" stop-color="#88191d"/><stop offset="0.54" stop-color="#84191d"/><stop offset="0.57" stop-color="#76171a"/><stop offset="0.64" stop-color="#561315"/><stop offset="0.7" stop-color="#340f0f"/><stop offset="0.78" stop-color="#1a0c0b"/><stop offset="0.88" stop-color="#0d0a08"/><stop offset="1" stop-color="#0b0a08"/></linearGradient><linearGradient id="ig3" gradientUnits="userSpaceOnUse" x1="1467.92" y1="0" x2="1506.68" y2="0"><stop offset="0" stop-color="#0b0a08"/><stop offset="0.12" stop-color="#0d0a08"/><stop offset="0.22" stop-color="#1a0c0a"/><stop offset="0.3" stop-color="#340f0f"/><stop offset="0.36" stop-color="#571315"/><stop offset="0.42" stop-color="#78171a"/><stop offset="0.46" stop-color="#87191c"/><stop offset="0.5" stop-color="#8c191d"/><stop offset="0.54" stop-color="#87191c"/><stop offset="0.57" stop-color="#78171a"/><stop offset="0.64" stop-color="#571315"/><stop offset="0.7" stop-color="#340f0f"/><stop offset="0.78" stop-color="#1a0c0a"/><stop offset="0.88" stop-color="#0d0a08"/><stop offset="1" stop-color="#0b0a08"/></linearGradient><linearGradient id="ig4" gradientUnits="userSpaceOnUse" x1="1468.19" y1="0" x2="1506.41" y2="0"><stop offset="0" stop-color="#0b0a08"/><stop offset="0.12" stop-color="#0d0a08"/><stop offset="0.22" stop-color="#190c0a"/><stop offset="0.3" stop-color="#330f0e"/><stop offset="0.36" stop-color="#581314"/><stop offset="0.42" stop-color="#7b171a"/><stop offset="0.46" stop-color="#8a181c"/><stop offset="0.5" stop-color="#8f191d"/><stop offset="0.54" stop-color="#8a181c"/><stop offset="0.57" stop-color="#7b171a"/><stop offset="0.64" stop-color="#581314"/><stop offset="0.7" stop-color="#330f0e"/><stop offset="0.78" stop-color="#190c0a"/><stop offset="0.88" stop-color="#0d0a08"/><stop offset="1" stop-color="#0b0a08"/></linearGradient><linearGradient id="ig5" gradientUnits="userSpaceOnUse" x1="1468.52" y1="0" x2="1506.08" y2="0"><stop offset="0" stop-color="#0b0a08"/><stop offset="0.12" stop-color="#0d0a08"/><stop offset="0.22" stop-color="#190b0a"/><stop offset="0.3" stop-color="#330e0e"/><stop offset="0.36" stop-color="#591214"/><stop offset="0.42" stop-color="#7d1619"/><stop offset="0.46" stop-color="#8d181c"/><stop offset="0.5" stop-color="#92191d"/><stop offset="0.54" stop-color="#8d181c"/><stop offset="0.57" stop-color="#7d1619"/><stop offset="0.64" stop-color="#591214"/><stop offset="0.7" stop-color="#330e0e"/><stop offset="0.78" stop-color="#190b0a"/><stop offset="0.88" stop-color="#0d0a08"/><stop offset="1" stop-color="#0b0a08"/></linearGradient><linearGradient id="ig6" gradientUnits="userSpaceOnUse" x1="1468.92" y1="0" x2="1505.68" y2="0"><stop offset="0" stop-color="#0b0a08"/><stop offset="0.12" stop-color="#0d0a08"/><stop offset="0.22" stop-color="#180b0a"/><stop offset="0.3" stop-color="#330e0e"/><stop offset="0.36" stop-color="#5a1214"/><stop offset="0.42" stop-color="#801619"/><stop offset="0.46" stop-color="#90181c"/><stop offset="0.5" stop-color="#96181c"/><stop offset="0.54" stop-color="#90181c"/><stop offset="0.57" stop-color="#801619"/><stop offset="0.64" stop-color="#5a1214"/><stop offset="0.7" stop-color="#330e0e"/><stop offset="0.78" stop-color="#180b0a"/><stop offset="0.88" stop-color="#0d0a08"/><stop offset="1" stop-color="#0b0a08"/></linearGradient><linearGradient id="ig7" gradientUnits="userSpaceOnUse" x1="1469.39" y1="0" x2="1505.21" y2="0"><stop offset="0" stop-color="#0b0a08"/><stop offset="0.12" stop-color="#0d0a08"/><stop offset="0.22" stop-color="#180b0a"/><stop offset="0.3" stop-color="#340e0e"/><stop offset="0.36" stop-color="#5b1213"/><stop offset="0.42" stop-color="#821619"/><stop offset="0.46" stop-color="#94181b"/><stop offset="0.5" stop-color="#99181c"/><stop offset="0.54" stop-color="#94181b"/><stop offset="0.57" stop-color="#821619"/><stop offset="0.64" stop-color="#5b1213"/><stop offset="0.7" stop-color="#340e0e"/><stop offset="0.78" stop-color="#180b0a"/><stop offset="0.88" stop-color="#0d0a08"/><stop offset="1" stop-color="#0b0a08"/></linearGradient><linearGradient id="ig8" gradientUnits="userSpaceOnUse" x1="1469.91" y1="0" x2="1504.69" y2="0"><stop offset="0" stop-color="#0b0a08"/><stop offset="0.12" stop-color="#0d0a08"/><stop offset="0.22" stop-color="#190b0a"/><stop offset="0.3" stop-color="#350e0e"/><stop offset="0.36" stop-color="#5d1213"/><stop offset="0.42" stop-color="#851619"/><stop offset="0.46" stop-color="#97171b"/><stop offset="0.5" stop-color="#9c181c"/><stop offset="0.54" stop-color="#97171b"/><stop offset="0.57" stop-color="#851619"/><stop offset="0.64" stop-color="#5d1213"/><stop offset="0.7" stop-color="#350e0e"/><stop offset="0.78" stop-color="#190b0a"/><stop offset="0.88" stop-color="#0d0a08"/><stop offset="1" stop-color="#0b0a08"/></linearGradient><linearGradient id="ig9" gradientUnits="userSpaceOnUse" x1="1470.5" y1="0" x2="1504.1" y2="0"><stop offset="0" stop-color="#0b0a08"/><stop offset="0.12" stop-color="#0d0a08"/><stop offset="0.22" stop-color="#190b0a"/><stop offset="0.3" stop-color="#360e0e"/><stop offset="0.36" stop-color="#5f1213"/><stop offset="0.42" stop-color="#881619"/><stop offset="0.46" stop-color="#9a171b"/><stop offset="0.5" stop-color="#a0181c"/><stop offset="0.54" stop-color="#9a171b"/><stop offset="0.57" stop-color="#881619"/><stop offset="0.64" stop-color="#5f1213"/><stop offset="0.7" stop-color="#360e0e"/><stop offset="0.78" stop-color="#190b0a"/><stop offset="0.88" stop-color="#0d0a08"/><stop offset="1" stop-color="#0b0a08"/></linearGradient><linearGradient id="ig10" gradientUnits="userSpaceOnUse" x1="1471.14" y1="0" x2="1503.46" y2="0"><stop offset="0" stop-color="#0b0a08"/><stop offset="0.12" stop-color="#0d0a08"/><stop offset="0.22" stop-color="#1a0b0a"/><stop offset="0.3" stop-color="#370e0e"/><stop offset="0.36" stop-color="#621213"/><stop offset="0.42" stop-color="#8b1518"/><stop offset="0.46" stop-color="#9d171b"/><stop offset="0.5" stop-color="#a3181c"/><stop offset="0.54" stop-color="#9d171b"/><stop offset="0.57" stop-color="#8b1518"/><stop offset="0.64" stop-color="#621213"/><stop offset="0.7" stop-color="#370e0e"/><stop offset="0.78" stop-color="#1a0b0a"/><stop offset="0.88" stop-color="#0d0a08"/><stop offset="1" stop-color="#0b0a08"/></linearGradient><linearGradient id="ig11" gradientUnits="userSpaceOnUse" x1="1471.84" y1="0" x2="1502.76" y2="0"><stop offset="0" stop-color="#0b0a08"/><stop offset="0.12" stop-color="#0d0a08"/><stop offset="0.22" stop-color="#1b0b0a"/><stop offset="0.3" stop-color="#390e0e"/><stop offset="0.36" stop-color="#641213"/><stop offset="0.42" stop-color="#8e1518"/><stop offset="0.46" stop-color="#a1171b"/><stop offset="0.5" stop-color="#a6171b"/><stop offset="0.54" stop-color="#a1171b"/><stop offset="0.57" stop-color="#8e1518"/><stop offset="0.64" stop-color="#641213"/><stop offset="0.7" stop-color="#390e0e"/><stop offset="0.78" stop-color="#1b0b0a"/><stop offset="0.88" stop-color="#0d0a08"/><stop offset="1" stop-color="#0b0a08"/></linearGradient><linearGradient id="ig12" gradientUnits="userSpaceOnUse" x1="1472.59" y1="0" x2="1502.01" y2="0"><stop offset="0" stop-color="#0b0a08"/><stop offset="0.12" stop-color="#0e0a08"/><stop offset="0.22" stop-color="#1c0b0a"/><stop offset="0.3" stop-color="#3c0e0e"/><stop offset="0.36" stop-color="#681213"/><stop offset="0.42" stop-color="#911518"/><stop offset="0.46" stop-color="#a4171a"/><stop offset="0.5" stop-color="#aa171b"/><stop offset="0.54" stop-color="#a4171a"/><stop offset="0.57" stop-color="#911518"/><stop offset="0.64" stop-color="#681213"/><stop offset="0.7" stop-color="#3c0e0e"/><stop offset="0.78" stop-color="#1c0b0a"/><stop offset="0.88" stop-color="#0e0a08"/><stop offset="1" stop-color="#0b0a08"/></linearGradient><linearGradient id="ig13" gradientUnits="userSpaceOnUse" x1="1473.4" y1="0" x2="1501.2" y2="0"><stop offset="0" stop-color="#0b0a08"/><stop offset="0.12" stop-color="#0e0a08"/><stop offset="0.22" stop-color="#1e0b0a"/><stop offset="0.3" stop-color="#3f0e0e"/><stop offset="0.36" stop-color="#6b1213"/><stop offset="0.42" stop-color="#951518"/><stop offset="0.46" stop-color="#a7161a"/><stop offset="0.5" stop-color="#ad171b"/><stop offset="0.54" stop-color="#a7161a"/><stop offset="0.57" stop-color="#951518"/><stop offset="0.64" stop-color="#6b1213"/><stop offset="0.7" stop-color="#3f0e0e"/><stop offset="0.78" stop-color="#1e0b0a"/><stop offset="0.88" stop-color="#0e0a08"/><stop offset="1" stop-color="#0b0a08"/></linearGradient><linearGradient id="ig14" gradientUnits="userSpaceOnUse" x1="1474.25" y1="0" x2="1500.35" y2="0"><stop offset="0" stop-color="#0b0a08"/><stop offset="0.12" stop-color="#0f0a08"/><stop offset="0.22" stop-color="#200c0a"/><stop offset="0.3" stop-color="#430e0e"/><stop offset="0.36" stop-color="#701213"/><stop offset="0.42" stop-color="#991518"/><stop offset="0.46" stop-color="#ab161a"/><stop offset="0.5" stop-color="#b0171b"/><stop offset="0.54" stop-color="#ab161a"/><stop offset="0.57" stop-color="#991518"/><stop offset="0.64" stop-color="#701213"/><stop offset="0.7" stop-color="#430e0e"/><stop offset="0.78" stop-color="#200c0a"/><stop offset="0.88" stop-color="#0f0a08"/><stop offset="1" stop-color="#0b0a08"/></linearGradient><linearGradient id="ig15" gradientUnits="userSpaceOnUse" x1="1475.14" y1="0" x2="1499.46" y2="0"><stop offset="0" stop-color="#0b0a08"/><stop offset="0.12" stop-color="#100a09"/><stop offset="0.22" stop-color="#230c0b"/><stop offset="0.3" stop-color="#480e0f"/><stop offset="0.36" stop-color="#751214"/><stop offset="0.42" stop-color="#9d1518"/><stop offset="0.46" stop-color="#ae161a"/><stop offset="0.5" stop-color="#b4161a"/><stop offset="0.54" stop-color="#ae161a"/><stop offset="0.57" stop-color="#9d1518"/><stop offset="0.64" stop-color="#751214"/><stop offset="0.7" stop-color="#480e0f"/><stop offset="0.78" stop-color="#230c0b"/><stop offset="0.88" stop-color="#100a09"/><stop offset="1" stop-color="#0b0a08"/></linearGradient><linearGradient id="ig16" gradientUnits="userSpaceOnUse" x1="1476.08" y1="0" x2="1498.52" y2="0"><stop offset="0" stop-color="#0b0a08"/><stop offset="0.12" stop-color="#110a09"/><stop offset="0.22" stop-color="#280c0b"/><stop offset="0.3" stop-color="#4e0f0f"/><stop offset="0.36" stop-color="#7b1214"/><stop offset="0.42" stop-color="#a11518"/><stop offset="0.46" stop-color="#b2161a"/><stop offset="0.5" stop-color="#b7161a"/><stop offset="0.54" stop-color="#b2161a"/><stop offset="0.57" stop-color="#a11518"/><stop offset="0.64" stop-color="#7b1214"/><stop offset="0.7" stop-color="#4e0f0f"/><stop offset="0.78" stop-color="#280c0b"/><stop offset="0.88" stop-color="#110a09"/><stop offset="1" stop-color="#0b0a08"/></linearGradient><linearGradient id="ig17" gradientUnits="userSpaceOnUse" x1="1477.06" y1="0" x2="1497.54" y2="0"><stop offset="0" stop-color="#0c0a08"/><stop offset="0.12" stop-color="#130b09"/><stop offset="0.22" stop-color="#2d0c0c"/><stop offset="0.3" stop-color="#540f10"/><stop offset="0.36" stop-color="#801214"/><stop offset="0.42" stop-color="#a51518"/><stop offset="0.46" stop-color="#b4161a"/><stop offset="0.5" stop-color="#b9161a"/><stop offset="0.54" stop-color="#b4161a"/><stop offset="0.57" stop-color="#a51518"/><stop offset="0.64" stop-color="#801214"/><stop offset="0.7" stop-color="#540f10"/><stop offset="0.78" stop-color="#2d0c0c"/><stop offset="0.88" stop-color="#130b09"/><stop offset="1" stop-color="#0c0a08"/></linearGradient><linearGradient id="ig18" gradientUnits="userSpaceOnUse" x1="1478.07" y1="0" x2="1496.53" y2="0"><stop offset="0" stop-color="#0c0a08"/><stop offset="0.12" stop-color="#170b09"/><stop offset="0.22" stop-color="#340d0c"/><stop offset="0.3" stop-color="#5c1010"/><stop offset="0.36" stop-color="#871415"/><stop offset="0.42" stop-color="#ab1a19"/><stop offset="0.46" stop-color="#b91e1a"/><stop offset="0.5" stop-color="#bd1f1b"/><stop offset="0.54" stop-color="#b91e1a"/><stop offset="0.57" stop-color="#ab1a19"/><stop offset="0.64" stop-color="#871415"/><stop offset="0.7" stop-color="#5c1010"/><stop offset="0.78" stop-color="#340d0c"/><stop offset="0.88" stop-color="#170b09"/><stop offset="1" stop-color="#0c0a08"/></linearGradient><linearGradient id="ig19" gradientUnits="userSpaceOnUse" x1="1479.11" y1="0" x2="1495.49" y2="0"><stop offset="0" stop-color="#0e0a08"/><stop offset="0.12" stop-color="#1c0b0a"/><stop offset="0.22" stop-color="#3d0e0d"/><stop offset="0.3" stop-color="#661212"/><stop offset="0.36" stop-color="#931d17"/><stop offset="0.42" stop-color="#b8301b"/><stop offset="0.46" stop-color="#c73c1d"/><stop offset="0.5" stop-color="#cb401e"/><stop offset="0.54" stop-color="#c73c1d"/><stop offset="0.57" stop-color="#b8301b"/><stop offset="0.64" stop-color="#931d17"/><stop offset="0.7" stop-color="#661212"/><stop offset="0.78" stop-color="#3d0e0d"/><stop offset="0.88" stop-color="#1c0b0a"/><stop offset="1" stop-color="#0e0a08"/></linearGradient><linearGradient id="ig20" gradientUnits="userSpaceOnUse" x1="1480.18" y1="0" x2="1494.42" y2="0"><stop offset="0" stop-color="#100a09"/><stop offset="0.12" stop-color="#240c0b"/><stop offset="0.22" stop-color="#490f0e"/><stop offset="0.3" stop-color="#751914"/><stop offset="0.36" stop-color="#a4301a"/><stop offset="0.42" stop-color="#c85221"/><stop offset="0.46" stop-color="#d66523"/><stop offset="0.5" stop-color="#da6b24"/><stop offset="0.54" stop-color="#d66523"/><stop offset="0.57" stop-color="#c85221"/><stop offset="0.64" stop-color="#a4301a"/><stop offset="0.7" stop-color="#751914"/><stop offset="0.78" stop-color="#490f0e"/><stop offset="0.88" stop-color="#240c0b"/><stop offset="1" stop-color="#100a09"/></linearGradient><linearGradient id="ig21" gradientUnits="userSpaceOnUse" x1="1481.28" y1="0" x2="1493.32" y2="0"><stop offset="0" stop-color="#160b09"/><stop offset="0.12" stop-color="#300d0c"/><stop offset="0.22" stop-color="#5b1511"/><stop offset="0.3" stop-color="#8c2b18"/><stop offset="0.36" stop-color="#bb5421"/><stop offset="0.42" stop-color="#dc8329"/><stop offset="0.46" stop-color="#e79a2d"/><stop offset="0.5" stop-color="#eaa22e"/><stop offset="0.54" stop-color="#e79a2d"/><stop offset="0.57" stop-color="#dc8329"/><stop offset="0.64" stop-color="#bb5421"/><stop offset="0.7" stop-color="#8c2b18"/><stop offset="0.78" stop-color="#5b1511"/><stop offset="0.88" stop-color="#300d0c"/><stop offset="1" stop-color="#160b09"/></linearGradient><linearGradient id="ig22" gradientUnits="userSpaceOnUse" x1="1482.39" y1="0" x2="1492.21" y2="0"><stop offset="0" stop-color="#210c0a"/><stop offset="0.12" stop-color="#45120e"/><stop offset="0.22" stop-color="#7a2916"/><stop offset="0.3" stop-color="#ae5521"/><stop offset="0.36" stop-color="#d88f2c"/><stop offset="0.42" stop-color="#f1c435"/><stop offset="0.46" stop-color="#fadc39"/><stop offset="0.5" stop-color="#fadc39"/><stop offset="0.54" stop-color="#fadc39"/><stop offset="0.57" stop-color="#f1c435"/><stop offset="0.64" stop-color="#d88f2c"/><stop offset="0.7" stop-color="#ae5521"/><stop offset="0.78" stop-color="#7a2916"/><stop offset="0.88" stop-color="#45120e"/><stop offset="1" stop-color="#210c0a"/></linearGradient><linearGradient id="ig23" gradientUnits="userSpaceOnUse" x1="1483.53" y1="0" x2="1491.07" y2="0"><stop offset="0" stop-color="#3a110d"/><stop offset="0.12" stop-color="#6c2715"/><stop offset="0.22" stop-color="#a65721"/><stop offset="0.3" stop-color="#d2902c"/><stop offset="0.36" stop-color="#efc837"/><stop offset="0.42" stop-color="#fce83c"/><stop offset="0.46" stop-color="#fce83c"/><stop offset="0.5" stop-color="#fce83c"/><stop offset="0.54" stop-color="#fce83c"/><stop offset="0.57" stop-color="#fce83c"/><stop offset="0.64" stop-color="#efc837"/><stop offset="0.7" stop-color="#d2902c"/><stop offset="0.78" stop-color="#a65721"/><stop offset="0.88" stop-color="#6c2715"/><stop offset="1" stop-color="#3a110d"/></linearGradient></defs>
<path d="M1467.5 956.9 L1507.1 956.9 L1507.07 949.9 L1467.53 949.9 Z" fill="url(#ig0)"/><path d="M1467.53 950.4 L1507.07 950.4 L1506.96 942.91 L1467.64 942.91 Z" fill="url(#ig1)"/><path d="M1467.64 943.41 L1506.96 943.41 L1506.79 935.91 L1467.81 935.91 Z" fill="url(#ig2)"/><path d="M1467.81 936.41 L1506.79 936.41 L1506.56 928.92 L1468.04 928.92 Z" fill="url(#ig3)"/><path d="M1468.04 929.42 L1506.56 929.42 L1506.25 921.92 L1468.35 921.92 Z" fill="url(#ig4)"/><path d="M1468.35 922.42 L1506.25 922.42 L1505.89 914.92 L1468.71 914.92 Z" fill="url(#ig5)"/><path d="M1468.71 915.42 L1505.89 915.42 L1505.45 907.93 L1469.15 907.93 Z" fill="url(#ig6)"/><path d="M1469.15 908.43 L1505.45 908.43 L1504.96 900.93 L1469.64 900.93 Z" fill="url(#ig7)"/><path d="M1469.64 901.43 L1504.96 901.43 L1504.4 893.94 L1470.2 893.94 Z" fill="url(#ig8)"/><path d="M1470.2 894.44 L1504.4 894.44 L1503.79 886.94 L1470.81 886.94 Z" fill="url(#ig9)"/><path d="M1470.81 887.44 L1503.79 887.44 L1503.12 879.95 L1471.48 879.95 Z" fill="url(#ig10)"/><path d="M1471.48 880.45 L1503.12 880.45 L1502.39 872.95 L1472.21 872.95 Z" fill="url(#ig11)"/><path d="M1472.21 873.45 L1502.39 873.45 L1501.61 865.95 L1472.99 865.95 Z" fill="url(#ig12)"/><path d="M1472.99 866.45 L1501.61 866.45 L1500.78 858.96 L1473.82 858.96 Z" fill="url(#ig13)"/><path d="M1473.82 859.46 L1500.78 859.46 L1499.91 851.96 L1474.69 851.96 Z" fill="url(#ig14)"/><path d="M1474.69 852.46 L1499.91 852.46 L1498.99 844.97 L1475.61 844.97 Z" fill="url(#ig15)"/><path d="M1475.61 845.47 L1498.99 845.47 L1498.04 837.97 L1476.56 837.97 Z" fill="url(#ig16)"/><path d="M1476.56 838.47 L1498.04 838.47 L1497.04 830.98 L1477.56 830.98 Z" fill="url(#ig17)"/><path d="M1477.56 831.48 L1497.04 831.48 L1496.01 823.98 L1478.59 823.98 Z" fill="url(#ig18)"/><path d="M1478.59 824.48 L1496.01 824.48 L1494.96 816.98 L1479.64 816.98 Z" fill="url(#ig19)"/><path d="M1479.64 817.48 L1494.96 817.48 L1493.87 809.99 L1480.73 809.99 Z" fill="url(#ig20)"/><path d="M1480.73 810.49 L1493.87 810.49 L1492.77 802.99 L1481.83 802.99 Z" fill="url(#ig21)"/><path d="M1481.83 803.49 L1492.77 803.49 L1491.64 796 L1482.96 796 Z" fill="url(#ig22)"/><path d="M1482.96 796.5 L1491.64 796.5 L1490.5 789 L1484.1 789 Z" fill="url(#ig23)"/>
<line x1="1277" y1="616.5" x2="1456.75" y2="778.79" stroke="#1b82d2" stroke-width="1.35"/>
<path d="M1466.4 787.5 L1453.53 782.35 L1459.97 775.23 Z" fill="#1b82d2"/>
<line x1="1347.8" y1="614.1" x2="1490.46" y2="777.7" stroke="#1b82d2" stroke-width="1.35"/>
<path d="M1499 787.5 L1486.84 780.86 L1494.07 774.55 Z" fill="#1b82d2"/>
<line x1="1126" y1="1008.8" x2="1370.25" y2="960.04" stroke="#1b82d2" stroke-width="1.35"/>
<path d="M1383 957.5 L1371.19 964.75 L1369.31 955.34 Z" fill="#1b82d2"/>
<line x1="1504.4" y1="1007.8" x2="1569.66" y2="967.26" stroke="#1b82d2" stroke-width="1.35"/>
<path d="M1580.7 960.4 L1572.19 971.34 L1567.12 963.18 Z" fill="#1b82d2"/>
<text transform="translate(923.2 645.7) scale(1 0.97)" font-size="65" text-anchor="start" fill="#111" letter-spacing="3">(d)</text>
</g>
</svg>
</body></html>
